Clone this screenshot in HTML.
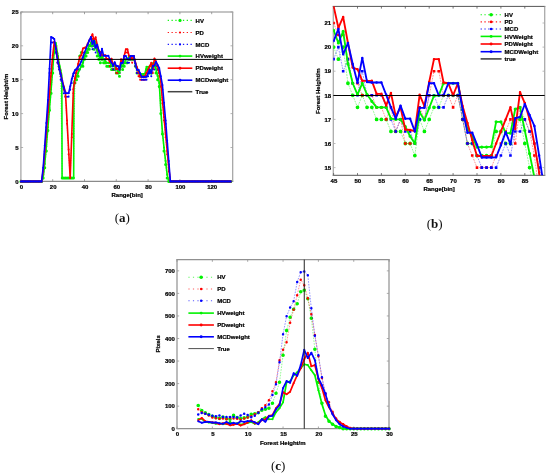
<!DOCTYPE html>
<html><head><meta charset="utf-8"><title>Figure</title>
<style>html,body{margin:0;padding:0;background:#fff}svg{display:block}</style></head>
<body>
<svg width="550" height="475" viewBox="0 0 550 475">
<defs>
<clipPath id="ca"><rect x="20.90" y="11.70" width="211.70" height="169.90"/></clipPath>
<clipPath id="cb"><rect x="333.30" y="6.40" width="211.40" height="168.90"/></clipPath>
<clipPath id="cc"><rect x="176.50" y="259.50" width="212.40" height="169.50"/></clipPath>
</defs>
<rect width="550" height="475" fill="#fff"/>
<rect x="20.90" y="12.00" width="211.80" height="169.40" fill="#fff"/>
<path d="M20.30 12.00H233.30M20.30 181.40H233.30" stroke="#8a8a8a" stroke-width="1.2" fill="none"/>
<path d="M20.90 12.00V181.40M232.70 12.00V181.40" stroke="#a0a0a0" stroke-width="1.2" fill="none"/>
<path d="M20.90 181.40v-2.2M20.90 12.00v2.2M52.70 181.40v-2.2M52.70 12.00v2.2M84.50 181.40v-2.2M84.50 12.00v2.2M116.30 181.40v-2.2M116.30 12.00v2.2M148.10 181.40v-2.2M148.10 12.00v2.2M179.90 181.40v-2.2M179.90 12.00v2.2M211.70 181.40v-2.2M211.70 12.00v2.2" stroke="#8a8a8a" stroke-width="0.8" fill="none"/>
<path d="M20.90 181.40h2.2M232.70 181.40h-2.2M20.90 147.50h2.2M232.70 147.50h-2.2M20.90 113.60h2.2M232.70 113.60h-2.2M20.90 79.70h2.2M232.70 79.70h-2.2M20.90 45.80h2.2M232.70 45.80h-2.2M20.90 11.90h2.2M232.70 11.90h-2.2" stroke="#a0a0a0" stroke-width="0.8" fill="none"/>
<polyline points="20.90,181.40 22.49,181.40 24.08,181.40 25.67,181.40 27.26,181.40 28.85,181.40 30.44,181.40 32.03,181.40 33.62,181.40 35.21,181.40 36.80,181.40 38.39,181.40 39.98,181.40 41.57,181.40 43.16,178.01 44.75,167.84 46.34,150.89 47.93,130.55 49.52,110.21 51.11,93.26 52.70,72.92 54.29,52.58 55.88,45.80 57.47,55.97 59.06,66.14 60.65,72.92 62.24,178.01 63.83,178.01 65.42,178.01 67.01,178.01 68.60,178.01 70.19,178.01 71.78,178.01 73.37,178.01 74.96,83.09 76.55,79.70 78.14,76.31 79.73,55.97 81.32,52.58 82.91,66.14 84.50,59.36 86.09,55.97 87.68,52.58 89.27,49.19 90.86,45.80 92.45,45.80 94.04,49.19 95.63,45.80 97.22,55.97 98.81,59.36 100.40,62.75 101.99,59.36 103.58,62.75 105.17,62.75 106.76,66.14 108.35,66.14 109.94,66.14 111.53,69.53 113.12,69.53 114.71,69.53 116.30,72.92 117.89,72.92 119.48,76.31 121.07,66.14 122.66,69.53 124.25,66.14 125.84,62.75 127.43,62.75 129.02,59.36 130.61,59.36 132.20,59.36 133.79,59.36 135.38,66.14 136.97,72.92 138.56,72.92 140.15,76.31 141.74,76.31 143.33,76.31 144.92,76.31 146.51,69.53 148.10,69.53 149.69,72.92 151.28,72.92 152.87,66.14 154.46,66.14 156.05,72.92 157.64,79.70 159.23,86.48 160.82,113.60 162.41,133.94 164.00,150.89 165.59,164.45 167.18,178.01 168.77,181.40 170.36,181.40 171.95,181.40 173.54,181.40 175.13,181.40 176.72,181.40 178.31,181.40 179.90,181.40 181.49,181.40 183.08,181.40 184.67,181.40 186.26,181.40 187.85,181.40 189.44,181.40 191.03,181.40 192.62,181.40 194.21,181.40 195.80,181.40 197.39,181.40 198.98,181.40 200.57,181.40 202.16,181.40 203.75,181.40 205.34,181.40 206.93,181.40 208.52,181.40 210.11,181.40 211.70,181.40 213.29,181.40 214.88,181.40 216.47,181.40 218.06,181.40 219.65,181.40 221.24,181.40 222.83,181.40 224.42,181.40 226.01,181.40 227.60,181.40 229.19,181.40 230.78,181.40" fill="none" stroke="#00f200" stroke-width="0.6" stroke-linejoin="round" stroke-opacity="1" stroke-dasharray="1 1.5" clip-path="url(#ca)"/>
<path d="M19.40 181.40a1.5 1.5 0 1 0 3.0 0a1.5 1.5 0 1 0 -3.0 0zM20.99 181.40a1.5 1.5 0 1 0 3.0 0a1.5 1.5 0 1 0 -3.0 0zM22.58 181.40a1.5 1.5 0 1 0 3.0 0a1.5 1.5 0 1 0 -3.0 0zM24.17 181.40a1.5 1.5 0 1 0 3.0 0a1.5 1.5 0 1 0 -3.0 0zM25.76 181.40a1.5 1.5 0 1 0 3.0 0a1.5 1.5 0 1 0 -3.0 0zM27.35 181.40a1.5 1.5 0 1 0 3.0 0a1.5 1.5 0 1 0 -3.0 0zM28.94 181.40a1.5 1.5 0 1 0 3.0 0a1.5 1.5 0 1 0 -3.0 0zM30.53 181.40a1.5 1.5 0 1 0 3.0 0a1.5 1.5 0 1 0 -3.0 0zM32.12 181.40a1.5 1.5 0 1 0 3.0 0a1.5 1.5 0 1 0 -3.0 0zM33.71 181.40a1.5 1.5 0 1 0 3.0 0a1.5 1.5 0 1 0 -3.0 0zM35.30 181.40a1.5 1.5 0 1 0 3.0 0a1.5 1.5 0 1 0 -3.0 0zM36.89 181.40a1.5 1.5 0 1 0 3.0 0a1.5 1.5 0 1 0 -3.0 0zM38.48 181.40a1.5 1.5 0 1 0 3.0 0a1.5 1.5 0 1 0 -3.0 0zM40.07 181.40a1.5 1.5 0 1 0 3.0 0a1.5 1.5 0 1 0 -3.0 0zM41.66 178.01a1.5 1.5 0 1 0 3.0 0a1.5 1.5 0 1 0 -3.0 0zM43.25 167.84a1.5 1.5 0 1 0 3.0 0a1.5 1.5 0 1 0 -3.0 0zM44.84 150.89a1.5 1.5 0 1 0 3.0 0a1.5 1.5 0 1 0 -3.0 0zM46.43 130.55a1.5 1.5 0 1 0 3.0 0a1.5 1.5 0 1 0 -3.0 0zM48.02 110.21a1.5 1.5 0 1 0 3.0 0a1.5 1.5 0 1 0 -3.0 0zM49.61 93.26a1.5 1.5 0 1 0 3.0 0a1.5 1.5 0 1 0 -3.0 0zM51.20 72.92a1.5 1.5 0 1 0 3.0 0a1.5 1.5 0 1 0 -3.0 0zM52.79 52.58a1.5 1.5 0 1 0 3.0 0a1.5 1.5 0 1 0 -3.0 0zM54.38 45.80a1.5 1.5 0 1 0 3.0 0a1.5 1.5 0 1 0 -3.0 0zM55.97 55.97a1.5 1.5 0 1 0 3.0 0a1.5 1.5 0 1 0 -3.0 0zM57.56 66.14a1.5 1.5 0 1 0 3.0 0a1.5 1.5 0 1 0 -3.0 0zM59.15 72.92a1.5 1.5 0 1 0 3.0 0a1.5 1.5 0 1 0 -3.0 0zM60.74 178.01a1.5 1.5 0 1 0 3.0 0a1.5 1.5 0 1 0 -3.0 0zM62.33 178.01a1.5 1.5 0 1 0 3.0 0a1.5 1.5 0 1 0 -3.0 0zM63.92 178.01a1.5 1.5 0 1 0 3.0 0a1.5 1.5 0 1 0 -3.0 0zM65.51 178.01a1.5 1.5 0 1 0 3.0 0a1.5 1.5 0 1 0 -3.0 0zM67.10 178.01a1.5 1.5 0 1 0 3.0 0a1.5 1.5 0 1 0 -3.0 0zM68.69 178.01a1.5 1.5 0 1 0 3.0 0a1.5 1.5 0 1 0 -3.0 0zM70.28 178.01a1.5 1.5 0 1 0 3.0 0a1.5 1.5 0 1 0 -3.0 0zM71.87 178.01a1.5 1.5 0 1 0 3.0 0a1.5 1.5 0 1 0 -3.0 0zM73.46 83.09a1.5 1.5 0 1 0 3.0 0a1.5 1.5 0 1 0 -3.0 0zM75.05 79.70a1.5 1.5 0 1 0 3.0 0a1.5 1.5 0 1 0 -3.0 0zM76.64 76.31a1.5 1.5 0 1 0 3.0 0a1.5 1.5 0 1 0 -3.0 0zM78.23 55.97a1.5 1.5 0 1 0 3.0 0a1.5 1.5 0 1 0 -3.0 0zM79.82 52.58a1.5 1.5 0 1 0 3.0 0a1.5 1.5 0 1 0 -3.0 0zM81.41 66.14a1.5 1.5 0 1 0 3.0 0a1.5 1.5 0 1 0 -3.0 0zM83.00 59.36a1.5 1.5 0 1 0 3.0 0a1.5 1.5 0 1 0 -3.0 0zM84.59 55.97a1.5 1.5 0 1 0 3.0 0a1.5 1.5 0 1 0 -3.0 0zM86.18 52.58a1.5 1.5 0 1 0 3.0 0a1.5 1.5 0 1 0 -3.0 0zM87.77 49.19a1.5 1.5 0 1 0 3.0 0a1.5 1.5 0 1 0 -3.0 0zM89.36 45.80a1.5 1.5 0 1 0 3.0 0a1.5 1.5 0 1 0 -3.0 0zM90.95 45.80a1.5 1.5 0 1 0 3.0 0a1.5 1.5 0 1 0 -3.0 0zM92.54 49.19a1.5 1.5 0 1 0 3.0 0a1.5 1.5 0 1 0 -3.0 0zM94.13 45.80a1.5 1.5 0 1 0 3.0 0a1.5 1.5 0 1 0 -3.0 0zM95.72 55.97a1.5 1.5 0 1 0 3.0 0a1.5 1.5 0 1 0 -3.0 0zM97.31 59.36a1.5 1.5 0 1 0 3.0 0a1.5 1.5 0 1 0 -3.0 0zM98.90 62.75a1.5 1.5 0 1 0 3.0 0a1.5 1.5 0 1 0 -3.0 0zM100.49 59.36a1.5 1.5 0 1 0 3.0 0a1.5 1.5 0 1 0 -3.0 0zM102.08 62.75a1.5 1.5 0 1 0 3.0 0a1.5 1.5 0 1 0 -3.0 0zM103.67 62.75a1.5 1.5 0 1 0 3.0 0a1.5 1.5 0 1 0 -3.0 0zM105.26 66.14a1.5 1.5 0 1 0 3.0 0a1.5 1.5 0 1 0 -3.0 0zM106.85 66.14a1.5 1.5 0 1 0 3.0 0a1.5 1.5 0 1 0 -3.0 0zM108.44 66.14a1.5 1.5 0 1 0 3.0 0a1.5 1.5 0 1 0 -3.0 0zM110.03 69.53a1.5 1.5 0 1 0 3.0 0a1.5 1.5 0 1 0 -3.0 0zM111.62 69.53a1.5 1.5 0 1 0 3.0 0a1.5 1.5 0 1 0 -3.0 0zM113.21 69.53a1.5 1.5 0 1 0 3.0 0a1.5 1.5 0 1 0 -3.0 0zM114.80 72.92a1.5 1.5 0 1 0 3.0 0a1.5 1.5 0 1 0 -3.0 0zM116.39 72.92a1.5 1.5 0 1 0 3.0 0a1.5 1.5 0 1 0 -3.0 0zM117.98 76.31a1.5 1.5 0 1 0 3.0 0a1.5 1.5 0 1 0 -3.0 0zM119.57 66.14a1.5 1.5 0 1 0 3.0 0a1.5 1.5 0 1 0 -3.0 0zM121.16 69.53a1.5 1.5 0 1 0 3.0 0a1.5 1.5 0 1 0 -3.0 0zM122.75 66.14a1.5 1.5 0 1 0 3.0 0a1.5 1.5 0 1 0 -3.0 0zM124.34 62.75a1.5 1.5 0 1 0 3.0 0a1.5 1.5 0 1 0 -3.0 0zM125.93 62.75a1.5 1.5 0 1 0 3.0 0a1.5 1.5 0 1 0 -3.0 0zM127.52 59.36a1.5 1.5 0 1 0 3.0 0a1.5 1.5 0 1 0 -3.0 0zM129.11 59.36a1.5 1.5 0 1 0 3.0 0a1.5 1.5 0 1 0 -3.0 0zM130.70 59.36a1.5 1.5 0 1 0 3.0 0a1.5 1.5 0 1 0 -3.0 0zM132.29 59.36a1.5 1.5 0 1 0 3.0 0a1.5 1.5 0 1 0 -3.0 0zM133.88 66.14a1.5 1.5 0 1 0 3.0 0a1.5 1.5 0 1 0 -3.0 0zM135.47 72.92a1.5 1.5 0 1 0 3.0 0a1.5 1.5 0 1 0 -3.0 0zM137.06 72.92a1.5 1.5 0 1 0 3.0 0a1.5 1.5 0 1 0 -3.0 0zM138.65 76.31a1.5 1.5 0 1 0 3.0 0a1.5 1.5 0 1 0 -3.0 0zM140.24 76.31a1.5 1.5 0 1 0 3.0 0a1.5 1.5 0 1 0 -3.0 0zM141.83 76.31a1.5 1.5 0 1 0 3.0 0a1.5 1.5 0 1 0 -3.0 0zM143.42 76.31a1.5 1.5 0 1 0 3.0 0a1.5 1.5 0 1 0 -3.0 0zM145.01 69.53a1.5 1.5 0 1 0 3.0 0a1.5 1.5 0 1 0 -3.0 0zM146.60 69.53a1.5 1.5 0 1 0 3.0 0a1.5 1.5 0 1 0 -3.0 0zM148.19 72.92a1.5 1.5 0 1 0 3.0 0a1.5 1.5 0 1 0 -3.0 0zM149.78 72.92a1.5 1.5 0 1 0 3.0 0a1.5 1.5 0 1 0 -3.0 0zM151.37 66.14a1.5 1.5 0 1 0 3.0 0a1.5 1.5 0 1 0 -3.0 0zM152.96 66.14a1.5 1.5 0 1 0 3.0 0a1.5 1.5 0 1 0 -3.0 0zM154.55 72.92a1.5 1.5 0 1 0 3.0 0a1.5 1.5 0 1 0 -3.0 0zM156.14 79.70a1.5 1.5 0 1 0 3.0 0a1.5 1.5 0 1 0 -3.0 0zM157.73 86.48a1.5 1.5 0 1 0 3.0 0a1.5 1.5 0 1 0 -3.0 0zM159.32 113.60a1.5 1.5 0 1 0 3.0 0a1.5 1.5 0 1 0 -3.0 0zM160.91 133.94a1.5 1.5 0 1 0 3.0 0a1.5 1.5 0 1 0 -3.0 0zM162.50 150.89a1.5 1.5 0 1 0 3.0 0a1.5 1.5 0 1 0 -3.0 0zM164.09 164.45a1.5 1.5 0 1 0 3.0 0a1.5 1.5 0 1 0 -3.0 0zM165.68 178.01a1.5 1.5 0 1 0 3.0 0a1.5 1.5 0 1 0 -3.0 0zM167.27 181.40a1.5 1.5 0 1 0 3.0 0a1.5 1.5 0 1 0 -3.0 0zM168.86 181.40a1.5 1.5 0 1 0 3.0 0a1.5 1.5 0 1 0 -3.0 0zM170.45 181.40a1.5 1.5 0 1 0 3.0 0a1.5 1.5 0 1 0 -3.0 0zM172.04 181.40a1.5 1.5 0 1 0 3.0 0a1.5 1.5 0 1 0 -3.0 0zM173.63 181.40a1.5 1.5 0 1 0 3.0 0a1.5 1.5 0 1 0 -3.0 0zM175.22 181.40a1.5 1.5 0 1 0 3.0 0a1.5 1.5 0 1 0 -3.0 0zM176.81 181.40a1.5 1.5 0 1 0 3.0 0a1.5 1.5 0 1 0 -3.0 0zM178.40 181.40a1.5 1.5 0 1 0 3.0 0a1.5 1.5 0 1 0 -3.0 0zM179.99 181.40a1.5 1.5 0 1 0 3.0 0a1.5 1.5 0 1 0 -3.0 0zM181.58 181.40a1.5 1.5 0 1 0 3.0 0a1.5 1.5 0 1 0 -3.0 0zM183.17 181.40a1.5 1.5 0 1 0 3.0 0a1.5 1.5 0 1 0 -3.0 0zM184.76 181.40a1.5 1.5 0 1 0 3.0 0a1.5 1.5 0 1 0 -3.0 0zM186.35 181.40a1.5 1.5 0 1 0 3.0 0a1.5 1.5 0 1 0 -3.0 0zM187.94 181.40a1.5 1.5 0 1 0 3.0 0a1.5 1.5 0 1 0 -3.0 0zM189.53 181.40a1.5 1.5 0 1 0 3.0 0a1.5 1.5 0 1 0 -3.0 0zM191.12 181.40a1.5 1.5 0 1 0 3.0 0a1.5 1.5 0 1 0 -3.0 0zM192.71 181.40a1.5 1.5 0 1 0 3.0 0a1.5 1.5 0 1 0 -3.0 0zM194.30 181.40a1.5 1.5 0 1 0 3.0 0a1.5 1.5 0 1 0 -3.0 0zM195.89 181.40a1.5 1.5 0 1 0 3.0 0a1.5 1.5 0 1 0 -3.0 0zM197.48 181.40a1.5 1.5 0 1 0 3.0 0a1.5 1.5 0 1 0 -3.0 0zM199.07 181.40a1.5 1.5 0 1 0 3.0 0a1.5 1.5 0 1 0 -3.0 0zM200.66 181.40a1.5 1.5 0 1 0 3.0 0a1.5 1.5 0 1 0 -3.0 0zM202.25 181.40a1.5 1.5 0 1 0 3.0 0a1.5 1.5 0 1 0 -3.0 0zM203.84 181.40a1.5 1.5 0 1 0 3.0 0a1.5 1.5 0 1 0 -3.0 0zM205.43 181.40a1.5 1.5 0 1 0 3.0 0a1.5 1.5 0 1 0 -3.0 0zM207.02 181.40a1.5 1.5 0 1 0 3.0 0a1.5 1.5 0 1 0 -3.0 0zM208.61 181.40a1.5 1.5 0 1 0 3.0 0a1.5 1.5 0 1 0 -3.0 0zM210.20 181.40a1.5 1.5 0 1 0 3.0 0a1.5 1.5 0 1 0 -3.0 0zM211.79 181.40a1.5 1.5 0 1 0 3.0 0a1.5 1.5 0 1 0 -3.0 0zM213.38 181.40a1.5 1.5 0 1 0 3.0 0a1.5 1.5 0 1 0 -3.0 0zM214.97 181.40a1.5 1.5 0 1 0 3.0 0a1.5 1.5 0 1 0 -3.0 0zM216.56 181.40a1.5 1.5 0 1 0 3.0 0a1.5 1.5 0 1 0 -3.0 0zM218.15 181.40a1.5 1.5 0 1 0 3.0 0a1.5 1.5 0 1 0 -3.0 0zM219.74 181.40a1.5 1.5 0 1 0 3.0 0a1.5 1.5 0 1 0 -3.0 0zM221.33 181.40a1.5 1.5 0 1 0 3.0 0a1.5 1.5 0 1 0 -3.0 0zM222.92 181.40a1.5 1.5 0 1 0 3.0 0a1.5 1.5 0 1 0 -3.0 0zM224.51 181.40a1.5 1.5 0 1 0 3.0 0a1.5 1.5 0 1 0 -3.0 0zM226.10 181.40a1.5 1.5 0 1 0 3.0 0a1.5 1.5 0 1 0 -3.0 0zM227.69 181.40a1.5 1.5 0 1 0 3.0 0a1.5 1.5 0 1 0 -3.0 0zM229.28 181.40a1.5 1.5 0 1 0 3.0 0a1.5 1.5 0 1 0 -3.0 0z" fill="#00f200" fill-opacity="1"/>
<polyline points="20.90,181.40 22.49,181.40 24.08,181.40 25.67,181.40 27.26,181.40 28.85,181.40 30.44,181.40 32.03,181.40 33.62,181.40 35.21,181.40 36.80,181.40 38.39,181.40 39.98,181.40 41.57,181.40 43.16,174.62 44.75,154.28 46.34,137.33 47.93,116.99 49.52,96.65 51.11,76.31 52.70,59.36 54.29,45.80 55.88,52.58 57.47,62.75 59.06,69.53 60.65,76.31 62.24,83.09 63.83,89.87 65.42,96.65 67.01,123.77 68.60,154.28 70.19,178.01 71.78,137.33 73.37,93.26 74.96,83.09 76.55,76.31 78.14,69.53 79.73,59.36 81.32,59.36 82.91,52.58 84.50,52.58 86.09,52.58 87.68,49.19 89.27,45.80 90.86,42.41 92.45,39.02 94.04,42.41 95.63,42.41 97.22,49.19 98.81,55.97 100.40,55.97 101.99,59.36 103.58,59.36 105.17,59.36 106.76,62.75 108.35,62.75 109.94,66.14 111.53,62.75 113.12,69.53 114.71,66.14 116.30,72.92 117.89,72.92 119.48,72.92 121.07,62.75 122.66,66.14 124.25,59.36 125.84,52.58 127.43,52.58 129.02,59.36 130.61,59.36 132.20,62.75 133.79,59.36 135.38,66.14 136.97,72.92 138.56,76.31 140.15,79.70 141.74,79.70 143.33,79.70 144.92,79.70 146.51,76.31 148.10,72.92 149.69,69.53 151.28,66.14 152.87,72.92 154.46,62.75 156.05,66.14 157.64,69.53 159.23,76.31 160.82,86.48 162.41,103.43 164.00,120.38 165.59,137.33 167.18,154.28 168.77,171.23 170.36,181.40 171.95,181.40 173.54,181.40 175.13,181.40 176.72,181.40 178.31,181.40 179.90,181.40 181.49,181.40 183.08,181.40 184.67,181.40 186.26,181.40 187.85,181.40 189.44,181.40 191.03,181.40 192.62,181.40 194.21,181.40 195.80,181.40 197.39,181.40 198.98,181.40 200.57,181.40 202.16,181.40 203.75,181.40 205.34,181.40 206.93,181.40 208.52,181.40 210.11,181.40 211.70,181.40 213.29,181.40 214.88,181.40 216.47,181.40 218.06,181.40 219.65,181.40 221.24,181.40 222.83,181.40 224.42,181.40 226.01,181.40 227.60,181.40 229.19,181.40 230.78,181.40" fill="none" stroke="#ff0000" stroke-width="0.6" stroke-linejoin="round" stroke-opacity="1" stroke-dasharray="1 1.5" clip-path="url(#ca)"/>
<path d="M19.90 181.40a1.0 1.0 0 1 0 2.0 0a1.0 1.0 0 1 0 -2.0 0zM21.49 181.40a1.0 1.0 0 1 0 2.0 0a1.0 1.0 0 1 0 -2.0 0zM23.08 181.40a1.0 1.0 0 1 0 2.0 0a1.0 1.0 0 1 0 -2.0 0zM24.67 181.40a1.0 1.0 0 1 0 2.0 0a1.0 1.0 0 1 0 -2.0 0zM26.26 181.40a1.0 1.0 0 1 0 2.0 0a1.0 1.0 0 1 0 -2.0 0zM27.85 181.40a1.0 1.0 0 1 0 2.0 0a1.0 1.0 0 1 0 -2.0 0zM29.44 181.40a1.0 1.0 0 1 0 2.0 0a1.0 1.0 0 1 0 -2.0 0zM31.03 181.40a1.0 1.0 0 1 0 2.0 0a1.0 1.0 0 1 0 -2.0 0zM32.62 181.40a1.0 1.0 0 1 0 2.0 0a1.0 1.0 0 1 0 -2.0 0zM34.21 181.40a1.0 1.0 0 1 0 2.0 0a1.0 1.0 0 1 0 -2.0 0zM35.80 181.40a1.0 1.0 0 1 0 2.0 0a1.0 1.0 0 1 0 -2.0 0zM37.39 181.40a1.0 1.0 0 1 0 2.0 0a1.0 1.0 0 1 0 -2.0 0zM38.98 181.40a1.0 1.0 0 1 0 2.0 0a1.0 1.0 0 1 0 -2.0 0zM40.57 181.40a1.0 1.0 0 1 0 2.0 0a1.0 1.0 0 1 0 -2.0 0zM42.16 174.62a1.0 1.0 0 1 0 2.0 0a1.0 1.0 0 1 0 -2.0 0zM43.75 154.28a1.0 1.0 0 1 0 2.0 0a1.0 1.0 0 1 0 -2.0 0zM45.34 137.33a1.0 1.0 0 1 0 2.0 0a1.0 1.0 0 1 0 -2.0 0zM46.93 116.99a1.0 1.0 0 1 0 2.0 0a1.0 1.0 0 1 0 -2.0 0zM48.52 96.65a1.0 1.0 0 1 0 2.0 0a1.0 1.0 0 1 0 -2.0 0zM50.11 76.31a1.0 1.0 0 1 0 2.0 0a1.0 1.0 0 1 0 -2.0 0zM51.70 59.36a1.0 1.0 0 1 0 2.0 0a1.0 1.0 0 1 0 -2.0 0zM53.29 45.80a1.0 1.0 0 1 0 2.0 0a1.0 1.0 0 1 0 -2.0 0zM54.88 52.58a1.0 1.0 0 1 0 2.0 0a1.0 1.0 0 1 0 -2.0 0zM56.47 62.75a1.0 1.0 0 1 0 2.0 0a1.0 1.0 0 1 0 -2.0 0zM58.06 69.53a1.0 1.0 0 1 0 2.0 0a1.0 1.0 0 1 0 -2.0 0zM59.65 76.31a1.0 1.0 0 1 0 2.0 0a1.0 1.0 0 1 0 -2.0 0zM61.24 83.09a1.0 1.0 0 1 0 2.0 0a1.0 1.0 0 1 0 -2.0 0zM62.83 89.87a1.0 1.0 0 1 0 2.0 0a1.0 1.0 0 1 0 -2.0 0zM64.42 96.65a1.0 1.0 0 1 0 2.0 0a1.0 1.0 0 1 0 -2.0 0zM66.01 123.77a1.0 1.0 0 1 0 2.0 0a1.0 1.0 0 1 0 -2.0 0zM67.60 154.28a1.0 1.0 0 1 0 2.0 0a1.0 1.0 0 1 0 -2.0 0zM69.19 178.01a1.0 1.0 0 1 0 2.0 0a1.0 1.0 0 1 0 -2.0 0zM70.78 137.33a1.0 1.0 0 1 0 2.0 0a1.0 1.0 0 1 0 -2.0 0zM72.37 93.26a1.0 1.0 0 1 0 2.0 0a1.0 1.0 0 1 0 -2.0 0zM73.96 83.09a1.0 1.0 0 1 0 2.0 0a1.0 1.0 0 1 0 -2.0 0zM75.55 76.31a1.0 1.0 0 1 0 2.0 0a1.0 1.0 0 1 0 -2.0 0zM77.14 69.53a1.0 1.0 0 1 0 2.0 0a1.0 1.0 0 1 0 -2.0 0zM78.73 59.36a1.0 1.0 0 1 0 2.0 0a1.0 1.0 0 1 0 -2.0 0zM80.32 59.36a1.0 1.0 0 1 0 2.0 0a1.0 1.0 0 1 0 -2.0 0zM81.91 52.58a1.0 1.0 0 1 0 2.0 0a1.0 1.0 0 1 0 -2.0 0zM83.50 52.58a1.0 1.0 0 1 0 2.0 0a1.0 1.0 0 1 0 -2.0 0zM85.09 52.58a1.0 1.0 0 1 0 2.0 0a1.0 1.0 0 1 0 -2.0 0zM86.68 49.19a1.0 1.0 0 1 0 2.0 0a1.0 1.0 0 1 0 -2.0 0zM88.27 45.80a1.0 1.0 0 1 0 2.0 0a1.0 1.0 0 1 0 -2.0 0zM89.86 42.41a1.0 1.0 0 1 0 2.0 0a1.0 1.0 0 1 0 -2.0 0zM91.45 39.02a1.0 1.0 0 1 0 2.0 0a1.0 1.0 0 1 0 -2.0 0zM93.04 42.41a1.0 1.0 0 1 0 2.0 0a1.0 1.0 0 1 0 -2.0 0zM94.63 42.41a1.0 1.0 0 1 0 2.0 0a1.0 1.0 0 1 0 -2.0 0zM96.22 49.19a1.0 1.0 0 1 0 2.0 0a1.0 1.0 0 1 0 -2.0 0zM97.81 55.97a1.0 1.0 0 1 0 2.0 0a1.0 1.0 0 1 0 -2.0 0zM99.40 55.97a1.0 1.0 0 1 0 2.0 0a1.0 1.0 0 1 0 -2.0 0zM100.99 59.36a1.0 1.0 0 1 0 2.0 0a1.0 1.0 0 1 0 -2.0 0zM102.58 59.36a1.0 1.0 0 1 0 2.0 0a1.0 1.0 0 1 0 -2.0 0zM104.17 59.36a1.0 1.0 0 1 0 2.0 0a1.0 1.0 0 1 0 -2.0 0zM105.76 62.75a1.0 1.0 0 1 0 2.0 0a1.0 1.0 0 1 0 -2.0 0zM107.35 62.75a1.0 1.0 0 1 0 2.0 0a1.0 1.0 0 1 0 -2.0 0zM108.94 66.14a1.0 1.0 0 1 0 2.0 0a1.0 1.0 0 1 0 -2.0 0zM110.53 62.75a1.0 1.0 0 1 0 2.0 0a1.0 1.0 0 1 0 -2.0 0zM112.12 69.53a1.0 1.0 0 1 0 2.0 0a1.0 1.0 0 1 0 -2.0 0zM113.71 66.14a1.0 1.0 0 1 0 2.0 0a1.0 1.0 0 1 0 -2.0 0zM115.30 72.92a1.0 1.0 0 1 0 2.0 0a1.0 1.0 0 1 0 -2.0 0zM116.89 72.92a1.0 1.0 0 1 0 2.0 0a1.0 1.0 0 1 0 -2.0 0zM118.48 72.92a1.0 1.0 0 1 0 2.0 0a1.0 1.0 0 1 0 -2.0 0zM120.07 62.75a1.0 1.0 0 1 0 2.0 0a1.0 1.0 0 1 0 -2.0 0zM121.66 66.14a1.0 1.0 0 1 0 2.0 0a1.0 1.0 0 1 0 -2.0 0zM123.25 59.36a1.0 1.0 0 1 0 2.0 0a1.0 1.0 0 1 0 -2.0 0zM124.84 52.58a1.0 1.0 0 1 0 2.0 0a1.0 1.0 0 1 0 -2.0 0zM126.43 52.58a1.0 1.0 0 1 0 2.0 0a1.0 1.0 0 1 0 -2.0 0zM128.02 59.36a1.0 1.0 0 1 0 2.0 0a1.0 1.0 0 1 0 -2.0 0zM129.61 59.36a1.0 1.0 0 1 0 2.0 0a1.0 1.0 0 1 0 -2.0 0zM131.20 62.75a1.0 1.0 0 1 0 2.0 0a1.0 1.0 0 1 0 -2.0 0zM132.79 59.36a1.0 1.0 0 1 0 2.0 0a1.0 1.0 0 1 0 -2.0 0zM134.38 66.14a1.0 1.0 0 1 0 2.0 0a1.0 1.0 0 1 0 -2.0 0zM135.97 72.92a1.0 1.0 0 1 0 2.0 0a1.0 1.0 0 1 0 -2.0 0zM137.56 76.31a1.0 1.0 0 1 0 2.0 0a1.0 1.0 0 1 0 -2.0 0zM139.15 79.70a1.0 1.0 0 1 0 2.0 0a1.0 1.0 0 1 0 -2.0 0zM140.74 79.70a1.0 1.0 0 1 0 2.0 0a1.0 1.0 0 1 0 -2.0 0zM142.33 79.70a1.0 1.0 0 1 0 2.0 0a1.0 1.0 0 1 0 -2.0 0zM143.92 79.70a1.0 1.0 0 1 0 2.0 0a1.0 1.0 0 1 0 -2.0 0zM145.51 76.31a1.0 1.0 0 1 0 2.0 0a1.0 1.0 0 1 0 -2.0 0zM147.10 72.92a1.0 1.0 0 1 0 2.0 0a1.0 1.0 0 1 0 -2.0 0zM148.69 69.53a1.0 1.0 0 1 0 2.0 0a1.0 1.0 0 1 0 -2.0 0zM150.28 66.14a1.0 1.0 0 1 0 2.0 0a1.0 1.0 0 1 0 -2.0 0zM151.87 72.92a1.0 1.0 0 1 0 2.0 0a1.0 1.0 0 1 0 -2.0 0zM153.46 62.75a1.0 1.0 0 1 0 2.0 0a1.0 1.0 0 1 0 -2.0 0zM155.05 66.14a1.0 1.0 0 1 0 2.0 0a1.0 1.0 0 1 0 -2.0 0zM156.64 69.53a1.0 1.0 0 1 0 2.0 0a1.0 1.0 0 1 0 -2.0 0zM158.23 76.31a1.0 1.0 0 1 0 2.0 0a1.0 1.0 0 1 0 -2.0 0zM159.82 86.48a1.0 1.0 0 1 0 2.0 0a1.0 1.0 0 1 0 -2.0 0zM161.41 103.43a1.0 1.0 0 1 0 2.0 0a1.0 1.0 0 1 0 -2.0 0zM163.00 120.38a1.0 1.0 0 1 0 2.0 0a1.0 1.0 0 1 0 -2.0 0zM164.59 137.33a1.0 1.0 0 1 0 2.0 0a1.0 1.0 0 1 0 -2.0 0zM166.18 154.28a1.0 1.0 0 1 0 2.0 0a1.0 1.0 0 1 0 -2.0 0zM167.77 171.23a1.0 1.0 0 1 0 2.0 0a1.0 1.0 0 1 0 -2.0 0zM169.36 181.40a1.0 1.0 0 1 0 2.0 0a1.0 1.0 0 1 0 -2.0 0zM170.95 181.40a1.0 1.0 0 1 0 2.0 0a1.0 1.0 0 1 0 -2.0 0zM172.54 181.40a1.0 1.0 0 1 0 2.0 0a1.0 1.0 0 1 0 -2.0 0zM174.13 181.40a1.0 1.0 0 1 0 2.0 0a1.0 1.0 0 1 0 -2.0 0zM175.72 181.40a1.0 1.0 0 1 0 2.0 0a1.0 1.0 0 1 0 -2.0 0zM177.31 181.40a1.0 1.0 0 1 0 2.0 0a1.0 1.0 0 1 0 -2.0 0zM178.90 181.40a1.0 1.0 0 1 0 2.0 0a1.0 1.0 0 1 0 -2.0 0zM180.49 181.40a1.0 1.0 0 1 0 2.0 0a1.0 1.0 0 1 0 -2.0 0zM182.08 181.40a1.0 1.0 0 1 0 2.0 0a1.0 1.0 0 1 0 -2.0 0zM183.67 181.40a1.0 1.0 0 1 0 2.0 0a1.0 1.0 0 1 0 -2.0 0zM185.26 181.40a1.0 1.0 0 1 0 2.0 0a1.0 1.0 0 1 0 -2.0 0zM186.85 181.40a1.0 1.0 0 1 0 2.0 0a1.0 1.0 0 1 0 -2.0 0zM188.44 181.40a1.0 1.0 0 1 0 2.0 0a1.0 1.0 0 1 0 -2.0 0zM190.03 181.40a1.0 1.0 0 1 0 2.0 0a1.0 1.0 0 1 0 -2.0 0zM191.62 181.40a1.0 1.0 0 1 0 2.0 0a1.0 1.0 0 1 0 -2.0 0zM193.21 181.40a1.0 1.0 0 1 0 2.0 0a1.0 1.0 0 1 0 -2.0 0zM194.80 181.40a1.0 1.0 0 1 0 2.0 0a1.0 1.0 0 1 0 -2.0 0zM196.39 181.40a1.0 1.0 0 1 0 2.0 0a1.0 1.0 0 1 0 -2.0 0zM197.98 181.40a1.0 1.0 0 1 0 2.0 0a1.0 1.0 0 1 0 -2.0 0zM199.57 181.40a1.0 1.0 0 1 0 2.0 0a1.0 1.0 0 1 0 -2.0 0zM201.16 181.40a1.0 1.0 0 1 0 2.0 0a1.0 1.0 0 1 0 -2.0 0zM202.75 181.40a1.0 1.0 0 1 0 2.0 0a1.0 1.0 0 1 0 -2.0 0zM204.34 181.40a1.0 1.0 0 1 0 2.0 0a1.0 1.0 0 1 0 -2.0 0zM205.93 181.40a1.0 1.0 0 1 0 2.0 0a1.0 1.0 0 1 0 -2.0 0zM207.52 181.40a1.0 1.0 0 1 0 2.0 0a1.0 1.0 0 1 0 -2.0 0zM209.11 181.40a1.0 1.0 0 1 0 2.0 0a1.0 1.0 0 1 0 -2.0 0zM210.70 181.40a1.0 1.0 0 1 0 2.0 0a1.0 1.0 0 1 0 -2.0 0zM212.29 181.40a1.0 1.0 0 1 0 2.0 0a1.0 1.0 0 1 0 -2.0 0zM213.88 181.40a1.0 1.0 0 1 0 2.0 0a1.0 1.0 0 1 0 -2.0 0zM215.47 181.40a1.0 1.0 0 1 0 2.0 0a1.0 1.0 0 1 0 -2.0 0zM217.06 181.40a1.0 1.0 0 1 0 2.0 0a1.0 1.0 0 1 0 -2.0 0zM218.65 181.40a1.0 1.0 0 1 0 2.0 0a1.0 1.0 0 1 0 -2.0 0zM220.24 181.40a1.0 1.0 0 1 0 2.0 0a1.0 1.0 0 1 0 -2.0 0zM221.83 181.40a1.0 1.0 0 1 0 2.0 0a1.0 1.0 0 1 0 -2.0 0zM223.42 181.40a1.0 1.0 0 1 0 2.0 0a1.0 1.0 0 1 0 -2.0 0zM225.01 181.40a1.0 1.0 0 1 0 2.0 0a1.0 1.0 0 1 0 -2.0 0zM226.60 181.40a1.0 1.0 0 1 0 2.0 0a1.0 1.0 0 1 0 -2.0 0zM228.19 181.40a1.0 1.0 0 1 0 2.0 0a1.0 1.0 0 1 0 -2.0 0zM229.78 181.40a1.0 1.0 0 1 0 2.0 0a1.0 1.0 0 1 0 -2.0 0z" fill="#ff0000" fill-opacity="1"/>
<polyline points="20.90,181.40 22.49,181.40 24.08,181.40 25.67,181.40 27.26,181.40 28.85,181.40 30.44,181.40 32.03,181.40 33.62,181.40 35.21,181.40 36.80,181.40 38.39,181.40 39.98,181.40 41.57,181.40 43.16,171.23 44.75,150.89 46.34,127.16 47.93,103.43 49.52,72.92 51.11,42.41 52.70,42.41 54.29,42.41 55.88,52.58 57.47,62.75 59.06,69.53 60.65,79.70 62.24,86.48 63.83,93.26 65.42,96.65 67.01,96.65 68.60,96.65 70.19,89.87 71.78,83.09 73.37,76.31 74.96,72.92 76.55,72.92 78.14,69.53 79.73,69.53 81.32,66.14 82.91,62.75 84.50,55.97 86.09,52.58 87.68,49.19 89.27,45.80 90.86,42.41 92.45,49.19 94.04,45.80 95.63,52.58 97.22,49.19 98.81,55.97 100.40,59.36 101.99,52.58 103.58,59.36 105.17,59.36 106.76,59.36 108.35,59.36 109.94,62.75 111.53,66.14 113.12,69.53 114.71,66.14 116.30,69.53 117.89,69.53 119.48,72.92 121.07,66.14 122.66,66.14 124.25,59.36 125.84,59.36 127.43,62.75 129.02,62.75 130.61,59.36 132.20,59.36 133.79,59.36 135.38,66.14 136.97,72.92 138.56,72.92 140.15,76.31 141.74,79.70 143.33,79.70 144.92,79.70 146.51,79.70 148.10,76.31 149.69,72.92 151.28,76.31 152.87,69.53 154.46,69.53 156.05,66.14 157.64,69.53 159.23,72.92 160.82,79.70 162.41,89.87 164.00,106.82 165.59,123.77 167.18,144.11 168.77,164.45 170.36,181.40 171.95,181.40 173.54,181.40 175.13,181.40 176.72,181.40 178.31,181.40 179.90,181.40 181.49,181.40 183.08,181.40 184.67,181.40 186.26,181.40 187.85,181.40 189.44,181.40 191.03,181.40 192.62,181.40 194.21,181.40 195.80,181.40 197.39,181.40 198.98,181.40 200.57,181.40 202.16,181.40 203.75,181.40 205.34,181.40 206.93,181.40 208.52,181.40 210.11,181.40 211.70,181.40 213.29,181.40 214.88,181.40 216.47,181.40 218.06,181.40 219.65,181.40 221.24,181.40 222.83,181.40 224.42,181.40 226.01,181.40 227.60,181.40 229.19,181.40 230.78,181.40" fill="none" stroke="#0000ff" stroke-width="0.6" stroke-linejoin="round" stroke-opacity="1" stroke-dasharray="1 1.5" clip-path="url(#ca)"/>
<path d="M19.90 181.40a1.0 1.0 0 1 0 2.0 0a1.0 1.0 0 1 0 -2.0 0zM21.49 181.40a1.0 1.0 0 1 0 2.0 0a1.0 1.0 0 1 0 -2.0 0zM23.08 181.40a1.0 1.0 0 1 0 2.0 0a1.0 1.0 0 1 0 -2.0 0zM24.67 181.40a1.0 1.0 0 1 0 2.0 0a1.0 1.0 0 1 0 -2.0 0zM26.26 181.40a1.0 1.0 0 1 0 2.0 0a1.0 1.0 0 1 0 -2.0 0zM27.85 181.40a1.0 1.0 0 1 0 2.0 0a1.0 1.0 0 1 0 -2.0 0zM29.44 181.40a1.0 1.0 0 1 0 2.0 0a1.0 1.0 0 1 0 -2.0 0zM31.03 181.40a1.0 1.0 0 1 0 2.0 0a1.0 1.0 0 1 0 -2.0 0zM32.62 181.40a1.0 1.0 0 1 0 2.0 0a1.0 1.0 0 1 0 -2.0 0zM34.21 181.40a1.0 1.0 0 1 0 2.0 0a1.0 1.0 0 1 0 -2.0 0zM35.80 181.40a1.0 1.0 0 1 0 2.0 0a1.0 1.0 0 1 0 -2.0 0zM37.39 181.40a1.0 1.0 0 1 0 2.0 0a1.0 1.0 0 1 0 -2.0 0zM38.98 181.40a1.0 1.0 0 1 0 2.0 0a1.0 1.0 0 1 0 -2.0 0zM40.57 181.40a1.0 1.0 0 1 0 2.0 0a1.0 1.0 0 1 0 -2.0 0zM42.16 171.23a1.0 1.0 0 1 0 2.0 0a1.0 1.0 0 1 0 -2.0 0zM43.75 150.89a1.0 1.0 0 1 0 2.0 0a1.0 1.0 0 1 0 -2.0 0zM45.34 127.16a1.0 1.0 0 1 0 2.0 0a1.0 1.0 0 1 0 -2.0 0zM46.93 103.43a1.0 1.0 0 1 0 2.0 0a1.0 1.0 0 1 0 -2.0 0zM48.52 72.92a1.0 1.0 0 1 0 2.0 0a1.0 1.0 0 1 0 -2.0 0zM50.11 42.41a1.0 1.0 0 1 0 2.0 0a1.0 1.0 0 1 0 -2.0 0zM51.70 42.41a1.0 1.0 0 1 0 2.0 0a1.0 1.0 0 1 0 -2.0 0zM53.29 42.41a1.0 1.0 0 1 0 2.0 0a1.0 1.0 0 1 0 -2.0 0zM54.88 52.58a1.0 1.0 0 1 0 2.0 0a1.0 1.0 0 1 0 -2.0 0zM56.47 62.75a1.0 1.0 0 1 0 2.0 0a1.0 1.0 0 1 0 -2.0 0zM58.06 69.53a1.0 1.0 0 1 0 2.0 0a1.0 1.0 0 1 0 -2.0 0zM59.65 79.70a1.0 1.0 0 1 0 2.0 0a1.0 1.0 0 1 0 -2.0 0zM61.24 86.48a1.0 1.0 0 1 0 2.0 0a1.0 1.0 0 1 0 -2.0 0zM62.83 93.26a1.0 1.0 0 1 0 2.0 0a1.0 1.0 0 1 0 -2.0 0zM64.42 96.65a1.0 1.0 0 1 0 2.0 0a1.0 1.0 0 1 0 -2.0 0zM66.01 96.65a1.0 1.0 0 1 0 2.0 0a1.0 1.0 0 1 0 -2.0 0zM67.60 96.65a1.0 1.0 0 1 0 2.0 0a1.0 1.0 0 1 0 -2.0 0zM69.19 89.87a1.0 1.0 0 1 0 2.0 0a1.0 1.0 0 1 0 -2.0 0zM70.78 83.09a1.0 1.0 0 1 0 2.0 0a1.0 1.0 0 1 0 -2.0 0zM72.37 76.31a1.0 1.0 0 1 0 2.0 0a1.0 1.0 0 1 0 -2.0 0zM73.96 72.92a1.0 1.0 0 1 0 2.0 0a1.0 1.0 0 1 0 -2.0 0zM75.55 72.92a1.0 1.0 0 1 0 2.0 0a1.0 1.0 0 1 0 -2.0 0zM77.14 69.53a1.0 1.0 0 1 0 2.0 0a1.0 1.0 0 1 0 -2.0 0zM78.73 69.53a1.0 1.0 0 1 0 2.0 0a1.0 1.0 0 1 0 -2.0 0zM80.32 66.14a1.0 1.0 0 1 0 2.0 0a1.0 1.0 0 1 0 -2.0 0zM81.91 62.75a1.0 1.0 0 1 0 2.0 0a1.0 1.0 0 1 0 -2.0 0zM83.50 55.97a1.0 1.0 0 1 0 2.0 0a1.0 1.0 0 1 0 -2.0 0zM85.09 52.58a1.0 1.0 0 1 0 2.0 0a1.0 1.0 0 1 0 -2.0 0zM86.68 49.19a1.0 1.0 0 1 0 2.0 0a1.0 1.0 0 1 0 -2.0 0zM88.27 45.80a1.0 1.0 0 1 0 2.0 0a1.0 1.0 0 1 0 -2.0 0zM89.86 42.41a1.0 1.0 0 1 0 2.0 0a1.0 1.0 0 1 0 -2.0 0zM91.45 49.19a1.0 1.0 0 1 0 2.0 0a1.0 1.0 0 1 0 -2.0 0zM93.04 45.80a1.0 1.0 0 1 0 2.0 0a1.0 1.0 0 1 0 -2.0 0zM94.63 52.58a1.0 1.0 0 1 0 2.0 0a1.0 1.0 0 1 0 -2.0 0zM96.22 49.19a1.0 1.0 0 1 0 2.0 0a1.0 1.0 0 1 0 -2.0 0zM97.81 55.97a1.0 1.0 0 1 0 2.0 0a1.0 1.0 0 1 0 -2.0 0zM99.40 59.36a1.0 1.0 0 1 0 2.0 0a1.0 1.0 0 1 0 -2.0 0zM100.99 52.58a1.0 1.0 0 1 0 2.0 0a1.0 1.0 0 1 0 -2.0 0zM102.58 59.36a1.0 1.0 0 1 0 2.0 0a1.0 1.0 0 1 0 -2.0 0zM104.17 59.36a1.0 1.0 0 1 0 2.0 0a1.0 1.0 0 1 0 -2.0 0zM105.76 59.36a1.0 1.0 0 1 0 2.0 0a1.0 1.0 0 1 0 -2.0 0zM107.35 59.36a1.0 1.0 0 1 0 2.0 0a1.0 1.0 0 1 0 -2.0 0zM108.94 62.75a1.0 1.0 0 1 0 2.0 0a1.0 1.0 0 1 0 -2.0 0zM110.53 66.14a1.0 1.0 0 1 0 2.0 0a1.0 1.0 0 1 0 -2.0 0zM112.12 69.53a1.0 1.0 0 1 0 2.0 0a1.0 1.0 0 1 0 -2.0 0zM113.71 66.14a1.0 1.0 0 1 0 2.0 0a1.0 1.0 0 1 0 -2.0 0zM115.30 69.53a1.0 1.0 0 1 0 2.0 0a1.0 1.0 0 1 0 -2.0 0zM116.89 69.53a1.0 1.0 0 1 0 2.0 0a1.0 1.0 0 1 0 -2.0 0zM118.48 72.92a1.0 1.0 0 1 0 2.0 0a1.0 1.0 0 1 0 -2.0 0zM120.07 66.14a1.0 1.0 0 1 0 2.0 0a1.0 1.0 0 1 0 -2.0 0zM121.66 66.14a1.0 1.0 0 1 0 2.0 0a1.0 1.0 0 1 0 -2.0 0zM123.25 59.36a1.0 1.0 0 1 0 2.0 0a1.0 1.0 0 1 0 -2.0 0zM124.84 59.36a1.0 1.0 0 1 0 2.0 0a1.0 1.0 0 1 0 -2.0 0zM126.43 62.75a1.0 1.0 0 1 0 2.0 0a1.0 1.0 0 1 0 -2.0 0zM128.02 62.75a1.0 1.0 0 1 0 2.0 0a1.0 1.0 0 1 0 -2.0 0zM129.61 59.36a1.0 1.0 0 1 0 2.0 0a1.0 1.0 0 1 0 -2.0 0zM131.20 59.36a1.0 1.0 0 1 0 2.0 0a1.0 1.0 0 1 0 -2.0 0zM132.79 59.36a1.0 1.0 0 1 0 2.0 0a1.0 1.0 0 1 0 -2.0 0zM134.38 66.14a1.0 1.0 0 1 0 2.0 0a1.0 1.0 0 1 0 -2.0 0zM135.97 72.92a1.0 1.0 0 1 0 2.0 0a1.0 1.0 0 1 0 -2.0 0zM137.56 72.92a1.0 1.0 0 1 0 2.0 0a1.0 1.0 0 1 0 -2.0 0zM139.15 76.31a1.0 1.0 0 1 0 2.0 0a1.0 1.0 0 1 0 -2.0 0zM140.74 79.70a1.0 1.0 0 1 0 2.0 0a1.0 1.0 0 1 0 -2.0 0zM142.33 79.70a1.0 1.0 0 1 0 2.0 0a1.0 1.0 0 1 0 -2.0 0zM143.92 79.70a1.0 1.0 0 1 0 2.0 0a1.0 1.0 0 1 0 -2.0 0zM145.51 79.70a1.0 1.0 0 1 0 2.0 0a1.0 1.0 0 1 0 -2.0 0zM147.10 76.31a1.0 1.0 0 1 0 2.0 0a1.0 1.0 0 1 0 -2.0 0zM148.69 72.92a1.0 1.0 0 1 0 2.0 0a1.0 1.0 0 1 0 -2.0 0zM150.28 76.31a1.0 1.0 0 1 0 2.0 0a1.0 1.0 0 1 0 -2.0 0zM151.87 69.53a1.0 1.0 0 1 0 2.0 0a1.0 1.0 0 1 0 -2.0 0zM153.46 69.53a1.0 1.0 0 1 0 2.0 0a1.0 1.0 0 1 0 -2.0 0zM155.05 66.14a1.0 1.0 0 1 0 2.0 0a1.0 1.0 0 1 0 -2.0 0zM156.64 69.53a1.0 1.0 0 1 0 2.0 0a1.0 1.0 0 1 0 -2.0 0zM158.23 72.92a1.0 1.0 0 1 0 2.0 0a1.0 1.0 0 1 0 -2.0 0zM159.82 79.70a1.0 1.0 0 1 0 2.0 0a1.0 1.0 0 1 0 -2.0 0zM161.41 89.87a1.0 1.0 0 1 0 2.0 0a1.0 1.0 0 1 0 -2.0 0zM163.00 106.82a1.0 1.0 0 1 0 2.0 0a1.0 1.0 0 1 0 -2.0 0zM164.59 123.77a1.0 1.0 0 1 0 2.0 0a1.0 1.0 0 1 0 -2.0 0zM166.18 144.11a1.0 1.0 0 1 0 2.0 0a1.0 1.0 0 1 0 -2.0 0zM167.77 164.45a1.0 1.0 0 1 0 2.0 0a1.0 1.0 0 1 0 -2.0 0zM169.36 181.40a1.0 1.0 0 1 0 2.0 0a1.0 1.0 0 1 0 -2.0 0zM170.95 181.40a1.0 1.0 0 1 0 2.0 0a1.0 1.0 0 1 0 -2.0 0zM172.54 181.40a1.0 1.0 0 1 0 2.0 0a1.0 1.0 0 1 0 -2.0 0zM174.13 181.40a1.0 1.0 0 1 0 2.0 0a1.0 1.0 0 1 0 -2.0 0zM175.72 181.40a1.0 1.0 0 1 0 2.0 0a1.0 1.0 0 1 0 -2.0 0zM177.31 181.40a1.0 1.0 0 1 0 2.0 0a1.0 1.0 0 1 0 -2.0 0zM178.90 181.40a1.0 1.0 0 1 0 2.0 0a1.0 1.0 0 1 0 -2.0 0zM180.49 181.40a1.0 1.0 0 1 0 2.0 0a1.0 1.0 0 1 0 -2.0 0zM182.08 181.40a1.0 1.0 0 1 0 2.0 0a1.0 1.0 0 1 0 -2.0 0zM183.67 181.40a1.0 1.0 0 1 0 2.0 0a1.0 1.0 0 1 0 -2.0 0zM185.26 181.40a1.0 1.0 0 1 0 2.0 0a1.0 1.0 0 1 0 -2.0 0zM186.85 181.40a1.0 1.0 0 1 0 2.0 0a1.0 1.0 0 1 0 -2.0 0zM188.44 181.40a1.0 1.0 0 1 0 2.0 0a1.0 1.0 0 1 0 -2.0 0zM190.03 181.40a1.0 1.0 0 1 0 2.0 0a1.0 1.0 0 1 0 -2.0 0zM191.62 181.40a1.0 1.0 0 1 0 2.0 0a1.0 1.0 0 1 0 -2.0 0zM193.21 181.40a1.0 1.0 0 1 0 2.0 0a1.0 1.0 0 1 0 -2.0 0zM194.80 181.40a1.0 1.0 0 1 0 2.0 0a1.0 1.0 0 1 0 -2.0 0zM196.39 181.40a1.0 1.0 0 1 0 2.0 0a1.0 1.0 0 1 0 -2.0 0zM197.98 181.40a1.0 1.0 0 1 0 2.0 0a1.0 1.0 0 1 0 -2.0 0zM199.57 181.40a1.0 1.0 0 1 0 2.0 0a1.0 1.0 0 1 0 -2.0 0zM201.16 181.40a1.0 1.0 0 1 0 2.0 0a1.0 1.0 0 1 0 -2.0 0zM202.75 181.40a1.0 1.0 0 1 0 2.0 0a1.0 1.0 0 1 0 -2.0 0zM204.34 181.40a1.0 1.0 0 1 0 2.0 0a1.0 1.0 0 1 0 -2.0 0zM205.93 181.40a1.0 1.0 0 1 0 2.0 0a1.0 1.0 0 1 0 -2.0 0zM207.52 181.40a1.0 1.0 0 1 0 2.0 0a1.0 1.0 0 1 0 -2.0 0zM209.11 181.40a1.0 1.0 0 1 0 2.0 0a1.0 1.0 0 1 0 -2.0 0zM210.70 181.40a1.0 1.0 0 1 0 2.0 0a1.0 1.0 0 1 0 -2.0 0zM212.29 181.40a1.0 1.0 0 1 0 2.0 0a1.0 1.0 0 1 0 -2.0 0zM213.88 181.40a1.0 1.0 0 1 0 2.0 0a1.0 1.0 0 1 0 -2.0 0zM215.47 181.40a1.0 1.0 0 1 0 2.0 0a1.0 1.0 0 1 0 -2.0 0zM217.06 181.40a1.0 1.0 0 1 0 2.0 0a1.0 1.0 0 1 0 -2.0 0zM218.65 181.40a1.0 1.0 0 1 0 2.0 0a1.0 1.0 0 1 0 -2.0 0zM220.24 181.40a1.0 1.0 0 1 0 2.0 0a1.0 1.0 0 1 0 -2.0 0zM221.83 181.40a1.0 1.0 0 1 0 2.0 0a1.0 1.0 0 1 0 -2.0 0zM223.42 181.40a1.0 1.0 0 1 0 2.0 0a1.0 1.0 0 1 0 -2.0 0zM225.01 181.40a1.0 1.0 0 1 0 2.0 0a1.0 1.0 0 1 0 -2.0 0zM226.60 181.40a1.0 1.0 0 1 0 2.0 0a1.0 1.0 0 1 0 -2.0 0zM228.19 181.40a1.0 1.0 0 1 0 2.0 0a1.0 1.0 0 1 0 -2.0 0zM229.78 181.40a1.0 1.0 0 1 0 2.0 0a1.0 1.0 0 1 0 -2.0 0z" fill="#0000ff" fill-opacity="1"/>
<polyline points="20.90,181.40 22.49,181.40 24.08,181.40 25.67,181.40 27.26,181.40 28.85,181.40 30.44,181.40 32.03,181.40 33.62,181.40 35.21,181.40 36.80,181.40 38.39,181.40 39.98,181.40 41.57,181.40 43.16,178.01 44.75,163.77 46.34,146.14 47.93,127.16 49.52,108.18 51.11,89.19 52.70,68.85 54.29,49.87 55.88,43.09 57.47,53.26 59.06,62.75 60.65,70.21 61.84,75.63 62.08,178.01 62.24,178.01 63.83,178.01 65.42,178.01 67.01,178.01 68.60,178.01 70.19,178.01 71.78,178.01 73.37,178.01 73.69,178.01 73.93,81.73 74.96,79.70 76.55,76.31 78.14,72.92 79.73,69.53 81.32,66.14 82.91,62.75 84.50,55.97 86.09,52.58 87.68,49.19 89.27,45.80 90.86,43.09 92.45,41.05 94.04,44.65 95.63,41.39 97.22,50.55 98.81,55.97 100.40,59.16 101.99,55.97 103.58,59.16 105.17,61.06 106.76,62.75 108.35,62.75 109.94,62.75 111.53,65.94 113.12,66.14 114.71,66.14 116.30,68.17 117.89,70.89 119.48,72.92 121.07,64.11 122.66,66.34 124.25,62.89 125.84,59.50 127.43,59.36 129.02,55.97 130.61,55.97 132.20,55.97 133.79,55.97 135.38,63.43 136.97,68.85 138.56,70.89 140.15,73.94 141.74,73.94 143.33,73.94 144.92,73.80 146.51,66.82 148.10,66.82 149.69,70.00 151.28,70.00 152.87,63.22 154.46,62.75 156.05,69.26 157.64,75.77 159.23,82.41 160.82,110.21 162.41,131.91 164.00,147.50 165.59,161.06 167.18,174.62 168.77,181.40 170.36,181.40 171.95,181.40 173.54,181.40 175.13,181.40 176.72,181.40 178.31,181.40 179.90,181.40 181.49,181.40 183.08,181.40 184.67,181.40 186.26,181.40 187.85,181.40 189.44,181.40 191.03,181.40 192.62,181.40 194.21,181.40 195.80,181.40 197.39,181.40 198.98,181.40 200.57,181.40 202.16,181.40 203.75,181.40 205.34,181.40 206.93,181.40 208.52,181.40 210.11,181.40 211.70,181.40 213.29,181.40 214.88,181.40 216.47,181.40 218.06,181.40 219.65,181.40 221.24,181.40 222.83,181.40 224.42,181.40 226.01,181.40 227.60,181.40 229.19,181.40 230.78,181.40" fill="none" stroke="#00f200" stroke-width="1.6" stroke-linejoin="round" stroke-opacity="1"/>
<path d="M19.90 181.40a1.0 1.0 0 1 0 2.0 0a1.0 1.0 0 1 0 -2.0 0zM21.49 181.40a1.0 1.0 0 1 0 2.0 0a1.0 1.0 0 1 0 -2.0 0zM23.08 181.40a1.0 1.0 0 1 0 2.0 0a1.0 1.0 0 1 0 -2.0 0zM24.67 181.40a1.0 1.0 0 1 0 2.0 0a1.0 1.0 0 1 0 -2.0 0zM26.26 181.40a1.0 1.0 0 1 0 2.0 0a1.0 1.0 0 1 0 -2.0 0zM27.85 181.40a1.0 1.0 0 1 0 2.0 0a1.0 1.0 0 1 0 -2.0 0zM29.44 181.40a1.0 1.0 0 1 0 2.0 0a1.0 1.0 0 1 0 -2.0 0zM31.03 181.40a1.0 1.0 0 1 0 2.0 0a1.0 1.0 0 1 0 -2.0 0zM32.62 181.40a1.0 1.0 0 1 0 2.0 0a1.0 1.0 0 1 0 -2.0 0zM34.21 181.40a1.0 1.0 0 1 0 2.0 0a1.0 1.0 0 1 0 -2.0 0zM35.80 181.40a1.0 1.0 0 1 0 2.0 0a1.0 1.0 0 1 0 -2.0 0zM37.39 181.40a1.0 1.0 0 1 0 2.0 0a1.0 1.0 0 1 0 -2.0 0zM38.98 181.40a1.0 1.0 0 1 0 2.0 0a1.0 1.0 0 1 0 -2.0 0zM40.57 181.40a1.0 1.0 0 1 0 2.0 0a1.0 1.0 0 1 0 -2.0 0zM42.16 178.01a1.0 1.0 0 1 0 2.0 0a1.0 1.0 0 1 0 -2.0 0zM43.75 163.77a1.0 1.0 0 1 0 2.0 0a1.0 1.0 0 1 0 -2.0 0zM45.34 146.14a1.0 1.0 0 1 0 2.0 0a1.0 1.0 0 1 0 -2.0 0zM46.93 127.16a1.0 1.0 0 1 0 2.0 0a1.0 1.0 0 1 0 -2.0 0zM48.52 108.18a1.0 1.0 0 1 0 2.0 0a1.0 1.0 0 1 0 -2.0 0zM50.11 89.19a1.0 1.0 0 1 0 2.0 0a1.0 1.0 0 1 0 -2.0 0zM51.70 68.85a1.0 1.0 0 1 0 2.0 0a1.0 1.0 0 1 0 -2.0 0zM53.29 49.87a1.0 1.0 0 1 0 2.0 0a1.0 1.0 0 1 0 -2.0 0zM54.88 43.09a1.0 1.0 0 1 0 2.0 0a1.0 1.0 0 1 0 -2.0 0zM56.47 53.26a1.0 1.0 0 1 0 2.0 0a1.0 1.0 0 1 0 -2.0 0zM58.06 62.75a1.0 1.0 0 1 0 2.0 0a1.0 1.0 0 1 0 -2.0 0zM59.65 70.21a1.0 1.0 0 1 0 2.0 0a1.0 1.0 0 1 0 -2.0 0zM61.24 178.01a1.0 1.0 0 1 0 2.0 0a1.0 1.0 0 1 0 -2.0 0zM62.83 178.01a1.0 1.0 0 1 0 2.0 0a1.0 1.0 0 1 0 -2.0 0zM64.42 178.01a1.0 1.0 0 1 0 2.0 0a1.0 1.0 0 1 0 -2.0 0zM66.01 178.01a1.0 1.0 0 1 0 2.0 0a1.0 1.0 0 1 0 -2.0 0zM67.60 178.01a1.0 1.0 0 1 0 2.0 0a1.0 1.0 0 1 0 -2.0 0zM69.19 178.01a1.0 1.0 0 1 0 2.0 0a1.0 1.0 0 1 0 -2.0 0zM70.78 178.01a1.0 1.0 0 1 0 2.0 0a1.0 1.0 0 1 0 -2.0 0zM72.37 178.01a1.0 1.0 0 1 0 2.0 0a1.0 1.0 0 1 0 -2.0 0zM73.96 79.70a1.0 1.0 0 1 0 2.0 0a1.0 1.0 0 1 0 -2.0 0zM75.55 76.31a1.0 1.0 0 1 0 2.0 0a1.0 1.0 0 1 0 -2.0 0zM77.14 72.92a1.0 1.0 0 1 0 2.0 0a1.0 1.0 0 1 0 -2.0 0zM78.73 69.53a1.0 1.0 0 1 0 2.0 0a1.0 1.0 0 1 0 -2.0 0zM80.32 66.14a1.0 1.0 0 1 0 2.0 0a1.0 1.0 0 1 0 -2.0 0zM81.91 62.75a1.0 1.0 0 1 0 2.0 0a1.0 1.0 0 1 0 -2.0 0zM83.50 55.97a1.0 1.0 0 1 0 2.0 0a1.0 1.0 0 1 0 -2.0 0zM85.09 52.58a1.0 1.0 0 1 0 2.0 0a1.0 1.0 0 1 0 -2.0 0zM86.68 49.19a1.0 1.0 0 1 0 2.0 0a1.0 1.0 0 1 0 -2.0 0zM88.27 45.80a1.0 1.0 0 1 0 2.0 0a1.0 1.0 0 1 0 -2.0 0zM89.86 43.09a1.0 1.0 0 1 0 2.0 0a1.0 1.0 0 1 0 -2.0 0zM91.45 41.05a1.0 1.0 0 1 0 2.0 0a1.0 1.0 0 1 0 -2.0 0zM93.04 44.65a1.0 1.0 0 1 0 2.0 0a1.0 1.0 0 1 0 -2.0 0zM94.63 41.39a1.0 1.0 0 1 0 2.0 0a1.0 1.0 0 1 0 -2.0 0zM96.22 50.55a1.0 1.0 0 1 0 2.0 0a1.0 1.0 0 1 0 -2.0 0zM97.81 55.97a1.0 1.0 0 1 0 2.0 0a1.0 1.0 0 1 0 -2.0 0zM99.40 59.16a1.0 1.0 0 1 0 2.0 0a1.0 1.0 0 1 0 -2.0 0zM100.99 55.97a1.0 1.0 0 1 0 2.0 0a1.0 1.0 0 1 0 -2.0 0zM102.58 59.16a1.0 1.0 0 1 0 2.0 0a1.0 1.0 0 1 0 -2.0 0zM104.17 61.06a1.0 1.0 0 1 0 2.0 0a1.0 1.0 0 1 0 -2.0 0zM105.76 62.75a1.0 1.0 0 1 0 2.0 0a1.0 1.0 0 1 0 -2.0 0zM107.35 62.75a1.0 1.0 0 1 0 2.0 0a1.0 1.0 0 1 0 -2.0 0zM108.94 62.75a1.0 1.0 0 1 0 2.0 0a1.0 1.0 0 1 0 -2.0 0zM110.53 65.94a1.0 1.0 0 1 0 2.0 0a1.0 1.0 0 1 0 -2.0 0zM112.12 66.14a1.0 1.0 0 1 0 2.0 0a1.0 1.0 0 1 0 -2.0 0zM113.71 66.14a1.0 1.0 0 1 0 2.0 0a1.0 1.0 0 1 0 -2.0 0zM115.30 68.17a1.0 1.0 0 1 0 2.0 0a1.0 1.0 0 1 0 -2.0 0zM116.89 70.89a1.0 1.0 0 1 0 2.0 0a1.0 1.0 0 1 0 -2.0 0zM118.48 72.92a1.0 1.0 0 1 0 2.0 0a1.0 1.0 0 1 0 -2.0 0zM120.07 64.11a1.0 1.0 0 1 0 2.0 0a1.0 1.0 0 1 0 -2.0 0zM121.66 66.34a1.0 1.0 0 1 0 2.0 0a1.0 1.0 0 1 0 -2.0 0zM123.25 62.89a1.0 1.0 0 1 0 2.0 0a1.0 1.0 0 1 0 -2.0 0zM124.84 59.50a1.0 1.0 0 1 0 2.0 0a1.0 1.0 0 1 0 -2.0 0zM126.43 59.36a1.0 1.0 0 1 0 2.0 0a1.0 1.0 0 1 0 -2.0 0zM128.02 55.97a1.0 1.0 0 1 0 2.0 0a1.0 1.0 0 1 0 -2.0 0zM129.61 55.97a1.0 1.0 0 1 0 2.0 0a1.0 1.0 0 1 0 -2.0 0zM131.20 55.97a1.0 1.0 0 1 0 2.0 0a1.0 1.0 0 1 0 -2.0 0zM132.79 55.97a1.0 1.0 0 1 0 2.0 0a1.0 1.0 0 1 0 -2.0 0zM134.38 63.43a1.0 1.0 0 1 0 2.0 0a1.0 1.0 0 1 0 -2.0 0zM135.97 68.85a1.0 1.0 0 1 0 2.0 0a1.0 1.0 0 1 0 -2.0 0zM137.56 70.89a1.0 1.0 0 1 0 2.0 0a1.0 1.0 0 1 0 -2.0 0zM139.15 73.94a1.0 1.0 0 1 0 2.0 0a1.0 1.0 0 1 0 -2.0 0zM140.74 73.94a1.0 1.0 0 1 0 2.0 0a1.0 1.0 0 1 0 -2.0 0zM142.33 73.94a1.0 1.0 0 1 0 2.0 0a1.0 1.0 0 1 0 -2.0 0zM143.92 73.80a1.0 1.0 0 1 0 2.0 0a1.0 1.0 0 1 0 -2.0 0zM145.51 66.82a1.0 1.0 0 1 0 2.0 0a1.0 1.0 0 1 0 -2.0 0zM147.10 66.82a1.0 1.0 0 1 0 2.0 0a1.0 1.0 0 1 0 -2.0 0zM148.69 70.00a1.0 1.0 0 1 0 2.0 0a1.0 1.0 0 1 0 -2.0 0zM150.28 70.00a1.0 1.0 0 1 0 2.0 0a1.0 1.0 0 1 0 -2.0 0zM151.87 63.22a1.0 1.0 0 1 0 2.0 0a1.0 1.0 0 1 0 -2.0 0zM153.46 62.75a1.0 1.0 0 1 0 2.0 0a1.0 1.0 0 1 0 -2.0 0zM155.05 69.26a1.0 1.0 0 1 0 2.0 0a1.0 1.0 0 1 0 -2.0 0zM156.64 75.77a1.0 1.0 0 1 0 2.0 0a1.0 1.0 0 1 0 -2.0 0zM158.23 82.41a1.0 1.0 0 1 0 2.0 0a1.0 1.0 0 1 0 -2.0 0zM159.82 110.21a1.0 1.0 0 1 0 2.0 0a1.0 1.0 0 1 0 -2.0 0zM161.41 131.91a1.0 1.0 0 1 0 2.0 0a1.0 1.0 0 1 0 -2.0 0zM163.00 147.50a1.0 1.0 0 1 0 2.0 0a1.0 1.0 0 1 0 -2.0 0zM164.59 161.06a1.0 1.0 0 1 0 2.0 0a1.0 1.0 0 1 0 -2.0 0zM166.18 174.62a1.0 1.0 0 1 0 2.0 0a1.0 1.0 0 1 0 -2.0 0zM167.77 181.40a1.0 1.0 0 1 0 2.0 0a1.0 1.0 0 1 0 -2.0 0zM169.36 181.40a1.0 1.0 0 1 0 2.0 0a1.0 1.0 0 1 0 -2.0 0zM170.95 181.40a1.0 1.0 0 1 0 2.0 0a1.0 1.0 0 1 0 -2.0 0zM172.54 181.40a1.0 1.0 0 1 0 2.0 0a1.0 1.0 0 1 0 -2.0 0zM174.13 181.40a1.0 1.0 0 1 0 2.0 0a1.0 1.0 0 1 0 -2.0 0zM175.72 181.40a1.0 1.0 0 1 0 2.0 0a1.0 1.0 0 1 0 -2.0 0zM177.31 181.40a1.0 1.0 0 1 0 2.0 0a1.0 1.0 0 1 0 -2.0 0zM178.90 181.40a1.0 1.0 0 1 0 2.0 0a1.0 1.0 0 1 0 -2.0 0zM180.49 181.40a1.0 1.0 0 1 0 2.0 0a1.0 1.0 0 1 0 -2.0 0zM182.08 181.40a1.0 1.0 0 1 0 2.0 0a1.0 1.0 0 1 0 -2.0 0zM183.67 181.40a1.0 1.0 0 1 0 2.0 0a1.0 1.0 0 1 0 -2.0 0zM185.26 181.40a1.0 1.0 0 1 0 2.0 0a1.0 1.0 0 1 0 -2.0 0zM186.85 181.40a1.0 1.0 0 1 0 2.0 0a1.0 1.0 0 1 0 -2.0 0zM188.44 181.40a1.0 1.0 0 1 0 2.0 0a1.0 1.0 0 1 0 -2.0 0zM190.03 181.40a1.0 1.0 0 1 0 2.0 0a1.0 1.0 0 1 0 -2.0 0zM191.62 181.40a1.0 1.0 0 1 0 2.0 0a1.0 1.0 0 1 0 -2.0 0zM193.21 181.40a1.0 1.0 0 1 0 2.0 0a1.0 1.0 0 1 0 -2.0 0zM194.80 181.40a1.0 1.0 0 1 0 2.0 0a1.0 1.0 0 1 0 -2.0 0zM196.39 181.40a1.0 1.0 0 1 0 2.0 0a1.0 1.0 0 1 0 -2.0 0zM197.98 181.40a1.0 1.0 0 1 0 2.0 0a1.0 1.0 0 1 0 -2.0 0zM199.57 181.40a1.0 1.0 0 1 0 2.0 0a1.0 1.0 0 1 0 -2.0 0zM201.16 181.40a1.0 1.0 0 1 0 2.0 0a1.0 1.0 0 1 0 -2.0 0zM202.75 181.40a1.0 1.0 0 1 0 2.0 0a1.0 1.0 0 1 0 -2.0 0zM204.34 181.40a1.0 1.0 0 1 0 2.0 0a1.0 1.0 0 1 0 -2.0 0zM205.93 181.40a1.0 1.0 0 1 0 2.0 0a1.0 1.0 0 1 0 -2.0 0zM207.52 181.40a1.0 1.0 0 1 0 2.0 0a1.0 1.0 0 1 0 -2.0 0zM209.11 181.40a1.0 1.0 0 1 0 2.0 0a1.0 1.0 0 1 0 -2.0 0zM210.70 181.40a1.0 1.0 0 1 0 2.0 0a1.0 1.0 0 1 0 -2.0 0zM212.29 181.40a1.0 1.0 0 1 0 2.0 0a1.0 1.0 0 1 0 -2.0 0zM213.88 181.40a1.0 1.0 0 1 0 2.0 0a1.0 1.0 0 1 0 -2.0 0zM215.47 181.40a1.0 1.0 0 1 0 2.0 0a1.0 1.0 0 1 0 -2.0 0zM217.06 181.40a1.0 1.0 0 1 0 2.0 0a1.0 1.0 0 1 0 -2.0 0zM218.65 181.40a1.0 1.0 0 1 0 2.0 0a1.0 1.0 0 1 0 -2.0 0zM220.24 181.40a1.0 1.0 0 1 0 2.0 0a1.0 1.0 0 1 0 -2.0 0zM221.83 181.40a1.0 1.0 0 1 0 2.0 0a1.0 1.0 0 1 0 -2.0 0zM223.42 181.40a1.0 1.0 0 1 0 2.0 0a1.0 1.0 0 1 0 -2.0 0zM225.01 181.40a1.0 1.0 0 1 0 2.0 0a1.0 1.0 0 1 0 -2.0 0zM226.60 181.40a1.0 1.0 0 1 0 2.0 0a1.0 1.0 0 1 0 -2.0 0zM228.19 181.40a1.0 1.0 0 1 0 2.0 0a1.0 1.0 0 1 0 -2.0 0zM229.78 181.40a1.0 1.0 0 1 0 2.0 0a1.0 1.0 0 1 0 -2.0 0z" fill="#00f200" fill-opacity="1"/>
<polyline points="20.90,181.40 22.49,181.40 24.08,181.40 25.67,181.40 27.26,181.40 28.85,181.40 30.44,181.40 32.03,181.40 33.62,181.40 35.21,181.40 36.80,181.40 38.39,181.40 39.98,181.40 41.57,181.40 43.16,171.23 44.75,151.57 46.34,131.91 47.93,112.24 49.52,92.58 51.11,72.92 52.70,55.29 54.29,41.73 55.88,47.16 57.47,57.33 59.06,66.14 60.65,73.60 62.24,80.38 63.83,86.48 65.42,91.90 67.01,120.38 68.60,149.53 70.19,178.01 71.78,133.94 73.37,89.19 74.96,78.34 76.55,70.89 78.14,64.11 79.73,56.65 81.32,55.29 82.91,48.51 84.50,47.83 86.09,47.16 87.68,43.77 89.27,40.38 90.86,37.66 92.45,34.27 94.04,40.38 95.63,37.32 97.22,44.65 98.81,51.56 100.40,52.04 101.99,55.29 103.58,55.29 105.17,55.29 106.76,58.95 108.35,58.95 109.94,62.21 111.53,58.68 113.12,65.33 114.71,62.75 116.30,68.99 117.89,69.12 119.48,69.39 121.07,59.22 122.66,62.41 124.25,55.63 125.84,49.19 127.43,49.19 129.02,55.77 130.61,55.97 132.20,59.36 133.79,55.97 135.38,62.41 136.97,67.16 138.56,71.90 140.15,76.45 141.74,76.45 143.33,76.45 144.92,76.45 146.51,72.92 148.10,69.53 149.69,66.14 151.28,62.75 152.87,68.85 154.46,58.48 156.05,61.53 157.64,66.14 159.23,72.92 160.82,81.06 162.41,100.04 164.00,116.99 165.59,133.94 167.18,150.89 168.77,167.84 170.36,181.40 171.95,181.40 173.54,181.40 175.13,181.40 176.72,181.40 178.31,181.40 179.90,181.40 181.49,181.40 183.08,181.40 184.67,181.40 186.26,181.40 187.85,181.40 189.44,181.40 191.03,181.40 192.62,181.40 194.21,181.40 195.80,181.40 197.39,181.40 198.98,181.40 200.57,181.40 202.16,181.40 203.75,181.40 205.34,181.40 206.93,181.40 208.52,181.40 210.11,181.40 211.70,181.40 213.29,181.40 214.88,181.40 216.47,181.40 218.06,181.40 219.65,181.40 221.24,181.40 222.83,181.40 224.42,181.40 226.01,181.40 227.60,181.40 229.19,181.40 230.78,181.40" fill="none" stroke="#ff0000" stroke-width="1.6" stroke-linejoin="round" stroke-opacity="1"/>
<path d="M19.90 181.40a1.0 1.0 0 1 0 2.0 0a1.0 1.0 0 1 0 -2.0 0zM21.49 181.40a1.0 1.0 0 1 0 2.0 0a1.0 1.0 0 1 0 -2.0 0zM23.08 181.40a1.0 1.0 0 1 0 2.0 0a1.0 1.0 0 1 0 -2.0 0zM24.67 181.40a1.0 1.0 0 1 0 2.0 0a1.0 1.0 0 1 0 -2.0 0zM26.26 181.40a1.0 1.0 0 1 0 2.0 0a1.0 1.0 0 1 0 -2.0 0zM27.85 181.40a1.0 1.0 0 1 0 2.0 0a1.0 1.0 0 1 0 -2.0 0zM29.44 181.40a1.0 1.0 0 1 0 2.0 0a1.0 1.0 0 1 0 -2.0 0zM31.03 181.40a1.0 1.0 0 1 0 2.0 0a1.0 1.0 0 1 0 -2.0 0zM32.62 181.40a1.0 1.0 0 1 0 2.0 0a1.0 1.0 0 1 0 -2.0 0zM34.21 181.40a1.0 1.0 0 1 0 2.0 0a1.0 1.0 0 1 0 -2.0 0zM35.80 181.40a1.0 1.0 0 1 0 2.0 0a1.0 1.0 0 1 0 -2.0 0zM37.39 181.40a1.0 1.0 0 1 0 2.0 0a1.0 1.0 0 1 0 -2.0 0zM38.98 181.40a1.0 1.0 0 1 0 2.0 0a1.0 1.0 0 1 0 -2.0 0zM40.57 181.40a1.0 1.0 0 1 0 2.0 0a1.0 1.0 0 1 0 -2.0 0zM42.16 171.23a1.0 1.0 0 1 0 2.0 0a1.0 1.0 0 1 0 -2.0 0zM43.75 151.57a1.0 1.0 0 1 0 2.0 0a1.0 1.0 0 1 0 -2.0 0zM45.34 131.91a1.0 1.0 0 1 0 2.0 0a1.0 1.0 0 1 0 -2.0 0zM46.93 112.24a1.0 1.0 0 1 0 2.0 0a1.0 1.0 0 1 0 -2.0 0zM48.52 92.58a1.0 1.0 0 1 0 2.0 0a1.0 1.0 0 1 0 -2.0 0zM50.11 72.92a1.0 1.0 0 1 0 2.0 0a1.0 1.0 0 1 0 -2.0 0zM51.70 55.29a1.0 1.0 0 1 0 2.0 0a1.0 1.0 0 1 0 -2.0 0zM53.29 41.73a1.0 1.0 0 1 0 2.0 0a1.0 1.0 0 1 0 -2.0 0zM54.88 47.16a1.0 1.0 0 1 0 2.0 0a1.0 1.0 0 1 0 -2.0 0zM56.47 57.33a1.0 1.0 0 1 0 2.0 0a1.0 1.0 0 1 0 -2.0 0zM58.06 66.14a1.0 1.0 0 1 0 2.0 0a1.0 1.0 0 1 0 -2.0 0zM59.65 73.60a1.0 1.0 0 1 0 2.0 0a1.0 1.0 0 1 0 -2.0 0zM61.24 80.38a1.0 1.0 0 1 0 2.0 0a1.0 1.0 0 1 0 -2.0 0zM62.83 86.48a1.0 1.0 0 1 0 2.0 0a1.0 1.0 0 1 0 -2.0 0zM64.42 91.90a1.0 1.0 0 1 0 2.0 0a1.0 1.0 0 1 0 -2.0 0zM66.01 120.38a1.0 1.0 0 1 0 2.0 0a1.0 1.0 0 1 0 -2.0 0zM67.60 149.53a1.0 1.0 0 1 0 2.0 0a1.0 1.0 0 1 0 -2.0 0zM69.19 178.01a1.0 1.0 0 1 0 2.0 0a1.0 1.0 0 1 0 -2.0 0zM70.78 133.94a1.0 1.0 0 1 0 2.0 0a1.0 1.0 0 1 0 -2.0 0zM72.37 89.19a1.0 1.0 0 1 0 2.0 0a1.0 1.0 0 1 0 -2.0 0zM73.96 78.34a1.0 1.0 0 1 0 2.0 0a1.0 1.0 0 1 0 -2.0 0zM75.55 70.89a1.0 1.0 0 1 0 2.0 0a1.0 1.0 0 1 0 -2.0 0zM77.14 64.11a1.0 1.0 0 1 0 2.0 0a1.0 1.0 0 1 0 -2.0 0zM78.73 56.65a1.0 1.0 0 1 0 2.0 0a1.0 1.0 0 1 0 -2.0 0zM80.32 55.29a1.0 1.0 0 1 0 2.0 0a1.0 1.0 0 1 0 -2.0 0zM81.91 48.51a1.0 1.0 0 1 0 2.0 0a1.0 1.0 0 1 0 -2.0 0zM83.50 47.83a1.0 1.0 0 1 0 2.0 0a1.0 1.0 0 1 0 -2.0 0zM85.09 47.16a1.0 1.0 0 1 0 2.0 0a1.0 1.0 0 1 0 -2.0 0zM86.68 43.77a1.0 1.0 0 1 0 2.0 0a1.0 1.0 0 1 0 -2.0 0zM88.27 40.38a1.0 1.0 0 1 0 2.0 0a1.0 1.0 0 1 0 -2.0 0zM89.86 37.66a1.0 1.0 0 1 0 2.0 0a1.0 1.0 0 1 0 -2.0 0zM91.45 34.27a1.0 1.0 0 1 0 2.0 0a1.0 1.0 0 1 0 -2.0 0zM93.04 40.38a1.0 1.0 0 1 0 2.0 0a1.0 1.0 0 1 0 -2.0 0zM94.63 37.32a1.0 1.0 0 1 0 2.0 0a1.0 1.0 0 1 0 -2.0 0zM96.22 44.65a1.0 1.0 0 1 0 2.0 0a1.0 1.0 0 1 0 -2.0 0zM97.81 51.56a1.0 1.0 0 1 0 2.0 0a1.0 1.0 0 1 0 -2.0 0zM99.40 52.04a1.0 1.0 0 1 0 2.0 0a1.0 1.0 0 1 0 -2.0 0zM100.99 55.29a1.0 1.0 0 1 0 2.0 0a1.0 1.0 0 1 0 -2.0 0zM102.58 55.29a1.0 1.0 0 1 0 2.0 0a1.0 1.0 0 1 0 -2.0 0zM104.17 55.29a1.0 1.0 0 1 0 2.0 0a1.0 1.0 0 1 0 -2.0 0zM105.76 58.95a1.0 1.0 0 1 0 2.0 0a1.0 1.0 0 1 0 -2.0 0zM107.35 58.95a1.0 1.0 0 1 0 2.0 0a1.0 1.0 0 1 0 -2.0 0zM108.94 62.21a1.0 1.0 0 1 0 2.0 0a1.0 1.0 0 1 0 -2.0 0zM110.53 58.68a1.0 1.0 0 1 0 2.0 0a1.0 1.0 0 1 0 -2.0 0zM112.12 65.33a1.0 1.0 0 1 0 2.0 0a1.0 1.0 0 1 0 -2.0 0zM113.71 62.75a1.0 1.0 0 1 0 2.0 0a1.0 1.0 0 1 0 -2.0 0zM115.30 68.99a1.0 1.0 0 1 0 2.0 0a1.0 1.0 0 1 0 -2.0 0zM116.89 69.12a1.0 1.0 0 1 0 2.0 0a1.0 1.0 0 1 0 -2.0 0zM118.48 69.39a1.0 1.0 0 1 0 2.0 0a1.0 1.0 0 1 0 -2.0 0zM120.07 59.22a1.0 1.0 0 1 0 2.0 0a1.0 1.0 0 1 0 -2.0 0zM121.66 62.41a1.0 1.0 0 1 0 2.0 0a1.0 1.0 0 1 0 -2.0 0zM123.25 55.63a1.0 1.0 0 1 0 2.0 0a1.0 1.0 0 1 0 -2.0 0zM124.84 49.19a1.0 1.0 0 1 0 2.0 0a1.0 1.0 0 1 0 -2.0 0zM126.43 49.19a1.0 1.0 0 1 0 2.0 0a1.0 1.0 0 1 0 -2.0 0zM128.02 55.77a1.0 1.0 0 1 0 2.0 0a1.0 1.0 0 1 0 -2.0 0zM129.61 55.97a1.0 1.0 0 1 0 2.0 0a1.0 1.0 0 1 0 -2.0 0zM131.20 59.36a1.0 1.0 0 1 0 2.0 0a1.0 1.0 0 1 0 -2.0 0zM132.79 55.97a1.0 1.0 0 1 0 2.0 0a1.0 1.0 0 1 0 -2.0 0zM134.38 62.41a1.0 1.0 0 1 0 2.0 0a1.0 1.0 0 1 0 -2.0 0zM135.97 67.16a1.0 1.0 0 1 0 2.0 0a1.0 1.0 0 1 0 -2.0 0zM137.56 71.90a1.0 1.0 0 1 0 2.0 0a1.0 1.0 0 1 0 -2.0 0zM139.15 76.45a1.0 1.0 0 1 0 2.0 0a1.0 1.0 0 1 0 -2.0 0zM140.74 76.45a1.0 1.0 0 1 0 2.0 0a1.0 1.0 0 1 0 -2.0 0zM142.33 76.45a1.0 1.0 0 1 0 2.0 0a1.0 1.0 0 1 0 -2.0 0zM143.92 76.45a1.0 1.0 0 1 0 2.0 0a1.0 1.0 0 1 0 -2.0 0zM145.51 72.92a1.0 1.0 0 1 0 2.0 0a1.0 1.0 0 1 0 -2.0 0zM147.10 69.53a1.0 1.0 0 1 0 2.0 0a1.0 1.0 0 1 0 -2.0 0zM148.69 66.14a1.0 1.0 0 1 0 2.0 0a1.0 1.0 0 1 0 -2.0 0zM150.28 62.75a1.0 1.0 0 1 0 2.0 0a1.0 1.0 0 1 0 -2.0 0zM151.87 68.85a1.0 1.0 0 1 0 2.0 0a1.0 1.0 0 1 0 -2.0 0zM153.46 58.48a1.0 1.0 0 1 0 2.0 0a1.0 1.0 0 1 0 -2.0 0zM155.05 61.53a1.0 1.0 0 1 0 2.0 0a1.0 1.0 0 1 0 -2.0 0zM156.64 66.14a1.0 1.0 0 1 0 2.0 0a1.0 1.0 0 1 0 -2.0 0zM158.23 72.92a1.0 1.0 0 1 0 2.0 0a1.0 1.0 0 1 0 -2.0 0zM159.82 81.06a1.0 1.0 0 1 0 2.0 0a1.0 1.0 0 1 0 -2.0 0zM161.41 100.04a1.0 1.0 0 1 0 2.0 0a1.0 1.0 0 1 0 -2.0 0zM163.00 116.99a1.0 1.0 0 1 0 2.0 0a1.0 1.0 0 1 0 -2.0 0zM164.59 133.94a1.0 1.0 0 1 0 2.0 0a1.0 1.0 0 1 0 -2.0 0zM166.18 150.89a1.0 1.0 0 1 0 2.0 0a1.0 1.0 0 1 0 -2.0 0zM167.77 167.84a1.0 1.0 0 1 0 2.0 0a1.0 1.0 0 1 0 -2.0 0zM169.36 181.40a1.0 1.0 0 1 0 2.0 0a1.0 1.0 0 1 0 -2.0 0zM170.95 181.40a1.0 1.0 0 1 0 2.0 0a1.0 1.0 0 1 0 -2.0 0zM172.54 181.40a1.0 1.0 0 1 0 2.0 0a1.0 1.0 0 1 0 -2.0 0zM174.13 181.40a1.0 1.0 0 1 0 2.0 0a1.0 1.0 0 1 0 -2.0 0zM175.72 181.40a1.0 1.0 0 1 0 2.0 0a1.0 1.0 0 1 0 -2.0 0zM177.31 181.40a1.0 1.0 0 1 0 2.0 0a1.0 1.0 0 1 0 -2.0 0zM178.90 181.40a1.0 1.0 0 1 0 2.0 0a1.0 1.0 0 1 0 -2.0 0zM180.49 181.40a1.0 1.0 0 1 0 2.0 0a1.0 1.0 0 1 0 -2.0 0zM182.08 181.40a1.0 1.0 0 1 0 2.0 0a1.0 1.0 0 1 0 -2.0 0zM183.67 181.40a1.0 1.0 0 1 0 2.0 0a1.0 1.0 0 1 0 -2.0 0zM185.26 181.40a1.0 1.0 0 1 0 2.0 0a1.0 1.0 0 1 0 -2.0 0zM186.85 181.40a1.0 1.0 0 1 0 2.0 0a1.0 1.0 0 1 0 -2.0 0zM188.44 181.40a1.0 1.0 0 1 0 2.0 0a1.0 1.0 0 1 0 -2.0 0zM190.03 181.40a1.0 1.0 0 1 0 2.0 0a1.0 1.0 0 1 0 -2.0 0zM191.62 181.40a1.0 1.0 0 1 0 2.0 0a1.0 1.0 0 1 0 -2.0 0zM193.21 181.40a1.0 1.0 0 1 0 2.0 0a1.0 1.0 0 1 0 -2.0 0zM194.80 181.40a1.0 1.0 0 1 0 2.0 0a1.0 1.0 0 1 0 -2.0 0zM196.39 181.40a1.0 1.0 0 1 0 2.0 0a1.0 1.0 0 1 0 -2.0 0zM197.98 181.40a1.0 1.0 0 1 0 2.0 0a1.0 1.0 0 1 0 -2.0 0zM199.57 181.40a1.0 1.0 0 1 0 2.0 0a1.0 1.0 0 1 0 -2.0 0zM201.16 181.40a1.0 1.0 0 1 0 2.0 0a1.0 1.0 0 1 0 -2.0 0zM202.75 181.40a1.0 1.0 0 1 0 2.0 0a1.0 1.0 0 1 0 -2.0 0zM204.34 181.40a1.0 1.0 0 1 0 2.0 0a1.0 1.0 0 1 0 -2.0 0zM205.93 181.40a1.0 1.0 0 1 0 2.0 0a1.0 1.0 0 1 0 -2.0 0zM207.52 181.40a1.0 1.0 0 1 0 2.0 0a1.0 1.0 0 1 0 -2.0 0zM209.11 181.40a1.0 1.0 0 1 0 2.0 0a1.0 1.0 0 1 0 -2.0 0zM210.70 181.40a1.0 1.0 0 1 0 2.0 0a1.0 1.0 0 1 0 -2.0 0zM212.29 181.40a1.0 1.0 0 1 0 2.0 0a1.0 1.0 0 1 0 -2.0 0zM213.88 181.40a1.0 1.0 0 1 0 2.0 0a1.0 1.0 0 1 0 -2.0 0zM215.47 181.40a1.0 1.0 0 1 0 2.0 0a1.0 1.0 0 1 0 -2.0 0zM217.06 181.40a1.0 1.0 0 1 0 2.0 0a1.0 1.0 0 1 0 -2.0 0zM218.65 181.40a1.0 1.0 0 1 0 2.0 0a1.0 1.0 0 1 0 -2.0 0zM220.24 181.40a1.0 1.0 0 1 0 2.0 0a1.0 1.0 0 1 0 -2.0 0zM221.83 181.40a1.0 1.0 0 1 0 2.0 0a1.0 1.0 0 1 0 -2.0 0zM223.42 181.40a1.0 1.0 0 1 0 2.0 0a1.0 1.0 0 1 0 -2.0 0zM225.01 181.40a1.0 1.0 0 1 0 2.0 0a1.0 1.0 0 1 0 -2.0 0zM226.60 181.40a1.0 1.0 0 1 0 2.0 0a1.0 1.0 0 1 0 -2.0 0zM228.19 181.40a1.0 1.0 0 1 0 2.0 0a1.0 1.0 0 1 0 -2.0 0zM229.78 181.40a1.0 1.0 0 1 0 2.0 0a1.0 1.0 0 1 0 -2.0 0z" fill="#ff0000" fill-opacity="1"/>
<polyline points="20.90,181.40 22.49,181.40 24.08,181.40 25.67,181.40 27.26,181.40 28.85,181.40 30.44,181.40 32.03,181.40 33.62,181.40 35.21,181.40 36.80,181.40 38.39,181.40 39.98,181.40 41.57,181.40 43.16,167.84 44.75,145.47 46.34,123.09 47.93,100.04 49.52,68.85 51.11,36.99 52.70,37.66 54.29,39.02 55.88,48.51 57.47,59.36 59.06,66.82 60.65,74.28 62.24,81.06 63.83,87.84 65.42,93.26 67.01,93.26 68.60,93.26 70.19,86.48 71.78,79.02 73.37,73.60 74.96,70.21 76.55,68.85 78.14,66.82 79.73,64.78 81.32,61.39 82.91,57.33 84.50,52.58 86.09,48.51 87.68,44.44 89.27,40.38 90.86,36.99 92.45,44.10 94.04,40.72 95.63,47.83 97.22,44.65 98.81,50.55 100.40,55.83 101.99,48.85 103.58,55.63 105.17,55.77 106.76,55.77 108.35,55.77 109.94,59.22 111.53,62.75 113.12,65.94 114.71,62.28 116.30,65.94 117.89,65.94 119.48,69.53 121.07,62.89 122.66,62.89 124.25,55.97 125.84,55.97 127.43,59.36 129.02,59.36 130.61,55.97 132.20,55.97 133.79,55.97 135.38,63.43 136.97,69.87 138.56,69.87 140.15,73.26 141.74,76.85 143.33,76.85 144.92,76.85 146.51,76.78 148.10,73.39 149.69,69.73 151.28,73.12 152.87,65.80 154.46,65.46 156.05,61.87 157.64,64.92 159.23,67.97 160.82,76.31 162.41,85.12 164.00,102.75 165.59,120.38 167.18,140.72 168.77,161.06 170.36,181.40 171.95,181.40 173.54,181.40 175.13,181.40 176.72,181.40 178.31,181.40 179.90,181.40 181.49,181.40 183.08,181.40 184.67,181.40 186.26,181.40 187.85,181.40 189.44,181.40 191.03,181.40 192.62,181.40 194.21,181.40 195.80,181.40 197.39,181.40 198.98,181.40 200.57,181.40 202.16,181.40 203.75,181.40 205.34,181.40 206.93,181.40 208.52,181.40 210.11,181.40 211.70,181.40 213.29,181.40 214.88,181.40 216.47,181.40 218.06,181.40 219.65,181.40 221.24,181.40 222.83,181.40 224.42,181.40 226.01,181.40 227.60,181.40 229.19,181.40 230.78,181.40" fill="none" stroke="#0000ff" stroke-width="1.6" stroke-linejoin="round" stroke-opacity="1"/>
<path d="M19.90 181.40a1.0 1.0 0 1 0 2.0 0a1.0 1.0 0 1 0 -2.0 0zM21.49 181.40a1.0 1.0 0 1 0 2.0 0a1.0 1.0 0 1 0 -2.0 0zM23.08 181.40a1.0 1.0 0 1 0 2.0 0a1.0 1.0 0 1 0 -2.0 0zM24.67 181.40a1.0 1.0 0 1 0 2.0 0a1.0 1.0 0 1 0 -2.0 0zM26.26 181.40a1.0 1.0 0 1 0 2.0 0a1.0 1.0 0 1 0 -2.0 0zM27.85 181.40a1.0 1.0 0 1 0 2.0 0a1.0 1.0 0 1 0 -2.0 0zM29.44 181.40a1.0 1.0 0 1 0 2.0 0a1.0 1.0 0 1 0 -2.0 0zM31.03 181.40a1.0 1.0 0 1 0 2.0 0a1.0 1.0 0 1 0 -2.0 0zM32.62 181.40a1.0 1.0 0 1 0 2.0 0a1.0 1.0 0 1 0 -2.0 0zM34.21 181.40a1.0 1.0 0 1 0 2.0 0a1.0 1.0 0 1 0 -2.0 0zM35.80 181.40a1.0 1.0 0 1 0 2.0 0a1.0 1.0 0 1 0 -2.0 0zM37.39 181.40a1.0 1.0 0 1 0 2.0 0a1.0 1.0 0 1 0 -2.0 0zM38.98 181.40a1.0 1.0 0 1 0 2.0 0a1.0 1.0 0 1 0 -2.0 0zM40.57 181.40a1.0 1.0 0 1 0 2.0 0a1.0 1.0 0 1 0 -2.0 0zM42.16 167.84a1.0 1.0 0 1 0 2.0 0a1.0 1.0 0 1 0 -2.0 0zM43.75 145.47a1.0 1.0 0 1 0 2.0 0a1.0 1.0 0 1 0 -2.0 0zM45.34 123.09a1.0 1.0 0 1 0 2.0 0a1.0 1.0 0 1 0 -2.0 0zM46.93 100.04a1.0 1.0 0 1 0 2.0 0a1.0 1.0 0 1 0 -2.0 0zM48.52 68.85a1.0 1.0 0 1 0 2.0 0a1.0 1.0 0 1 0 -2.0 0zM50.11 36.99a1.0 1.0 0 1 0 2.0 0a1.0 1.0 0 1 0 -2.0 0zM51.70 37.66a1.0 1.0 0 1 0 2.0 0a1.0 1.0 0 1 0 -2.0 0zM53.29 39.02a1.0 1.0 0 1 0 2.0 0a1.0 1.0 0 1 0 -2.0 0zM54.88 48.51a1.0 1.0 0 1 0 2.0 0a1.0 1.0 0 1 0 -2.0 0zM56.47 59.36a1.0 1.0 0 1 0 2.0 0a1.0 1.0 0 1 0 -2.0 0zM58.06 66.82a1.0 1.0 0 1 0 2.0 0a1.0 1.0 0 1 0 -2.0 0zM59.65 74.28a1.0 1.0 0 1 0 2.0 0a1.0 1.0 0 1 0 -2.0 0zM61.24 81.06a1.0 1.0 0 1 0 2.0 0a1.0 1.0 0 1 0 -2.0 0zM62.83 87.84a1.0 1.0 0 1 0 2.0 0a1.0 1.0 0 1 0 -2.0 0zM64.42 93.26a1.0 1.0 0 1 0 2.0 0a1.0 1.0 0 1 0 -2.0 0zM66.01 93.26a1.0 1.0 0 1 0 2.0 0a1.0 1.0 0 1 0 -2.0 0zM67.60 93.26a1.0 1.0 0 1 0 2.0 0a1.0 1.0 0 1 0 -2.0 0zM69.19 86.48a1.0 1.0 0 1 0 2.0 0a1.0 1.0 0 1 0 -2.0 0zM70.78 79.02a1.0 1.0 0 1 0 2.0 0a1.0 1.0 0 1 0 -2.0 0zM72.37 73.60a1.0 1.0 0 1 0 2.0 0a1.0 1.0 0 1 0 -2.0 0zM73.96 70.21a1.0 1.0 0 1 0 2.0 0a1.0 1.0 0 1 0 -2.0 0zM75.55 68.85a1.0 1.0 0 1 0 2.0 0a1.0 1.0 0 1 0 -2.0 0zM77.14 66.82a1.0 1.0 0 1 0 2.0 0a1.0 1.0 0 1 0 -2.0 0zM78.73 64.78a1.0 1.0 0 1 0 2.0 0a1.0 1.0 0 1 0 -2.0 0zM80.32 61.39a1.0 1.0 0 1 0 2.0 0a1.0 1.0 0 1 0 -2.0 0zM81.91 57.33a1.0 1.0 0 1 0 2.0 0a1.0 1.0 0 1 0 -2.0 0zM83.50 52.58a1.0 1.0 0 1 0 2.0 0a1.0 1.0 0 1 0 -2.0 0zM85.09 48.51a1.0 1.0 0 1 0 2.0 0a1.0 1.0 0 1 0 -2.0 0zM86.68 44.44a1.0 1.0 0 1 0 2.0 0a1.0 1.0 0 1 0 -2.0 0zM88.27 40.38a1.0 1.0 0 1 0 2.0 0a1.0 1.0 0 1 0 -2.0 0zM89.86 36.99a1.0 1.0 0 1 0 2.0 0a1.0 1.0 0 1 0 -2.0 0zM91.45 44.10a1.0 1.0 0 1 0 2.0 0a1.0 1.0 0 1 0 -2.0 0zM93.04 40.72a1.0 1.0 0 1 0 2.0 0a1.0 1.0 0 1 0 -2.0 0zM94.63 47.83a1.0 1.0 0 1 0 2.0 0a1.0 1.0 0 1 0 -2.0 0zM96.22 44.65a1.0 1.0 0 1 0 2.0 0a1.0 1.0 0 1 0 -2.0 0zM97.81 50.55a1.0 1.0 0 1 0 2.0 0a1.0 1.0 0 1 0 -2.0 0zM99.40 55.83a1.0 1.0 0 1 0 2.0 0a1.0 1.0 0 1 0 -2.0 0zM100.99 48.85a1.0 1.0 0 1 0 2.0 0a1.0 1.0 0 1 0 -2.0 0zM102.58 55.63a1.0 1.0 0 1 0 2.0 0a1.0 1.0 0 1 0 -2.0 0zM104.17 55.77a1.0 1.0 0 1 0 2.0 0a1.0 1.0 0 1 0 -2.0 0zM105.76 55.77a1.0 1.0 0 1 0 2.0 0a1.0 1.0 0 1 0 -2.0 0zM107.35 55.77a1.0 1.0 0 1 0 2.0 0a1.0 1.0 0 1 0 -2.0 0zM108.94 59.22a1.0 1.0 0 1 0 2.0 0a1.0 1.0 0 1 0 -2.0 0zM110.53 62.75a1.0 1.0 0 1 0 2.0 0a1.0 1.0 0 1 0 -2.0 0zM112.12 65.94a1.0 1.0 0 1 0 2.0 0a1.0 1.0 0 1 0 -2.0 0zM113.71 62.28a1.0 1.0 0 1 0 2.0 0a1.0 1.0 0 1 0 -2.0 0zM115.30 65.94a1.0 1.0 0 1 0 2.0 0a1.0 1.0 0 1 0 -2.0 0zM116.89 65.94a1.0 1.0 0 1 0 2.0 0a1.0 1.0 0 1 0 -2.0 0zM118.48 69.53a1.0 1.0 0 1 0 2.0 0a1.0 1.0 0 1 0 -2.0 0zM120.07 62.89a1.0 1.0 0 1 0 2.0 0a1.0 1.0 0 1 0 -2.0 0zM121.66 62.89a1.0 1.0 0 1 0 2.0 0a1.0 1.0 0 1 0 -2.0 0zM123.25 55.97a1.0 1.0 0 1 0 2.0 0a1.0 1.0 0 1 0 -2.0 0zM124.84 55.97a1.0 1.0 0 1 0 2.0 0a1.0 1.0 0 1 0 -2.0 0zM126.43 59.36a1.0 1.0 0 1 0 2.0 0a1.0 1.0 0 1 0 -2.0 0zM128.02 59.36a1.0 1.0 0 1 0 2.0 0a1.0 1.0 0 1 0 -2.0 0zM129.61 55.97a1.0 1.0 0 1 0 2.0 0a1.0 1.0 0 1 0 -2.0 0zM131.20 55.97a1.0 1.0 0 1 0 2.0 0a1.0 1.0 0 1 0 -2.0 0zM132.79 55.97a1.0 1.0 0 1 0 2.0 0a1.0 1.0 0 1 0 -2.0 0zM134.38 63.43a1.0 1.0 0 1 0 2.0 0a1.0 1.0 0 1 0 -2.0 0zM135.97 69.87a1.0 1.0 0 1 0 2.0 0a1.0 1.0 0 1 0 -2.0 0zM137.56 69.87a1.0 1.0 0 1 0 2.0 0a1.0 1.0 0 1 0 -2.0 0zM139.15 73.26a1.0 1.0 0 1 0 2.0 0a1.0 1.0 0 1 0 -2.0 0zM140.74 76.85a1.0 1.0 0 1 0 2.0 0a1.0 1.0 0 1 0 -2.0 0zM142.33 76.85a1.0 1.0 0 1 0 2.0 0a1.0 1.0 0 1 0 -2.0 0zM143.92 76.85a1.0 1.0 0 1 0 2.0 0a1.0 1.0 0 1 0 -2.0 0zM145.51 76.78a1.0 1.0 0 1 0 2.0 0a1.0 1.0 0 1 0 -2.0 0zM147.10 73.39a1.0 1.0 0 1 0 2.0 0a1.0 1.0 0 1 0 -2.0 0zM148.69 69.73a1.0 1.0 0 1 0 2.0 0a1.0 1.0 0 1 0 -2.0 0zM150.28 73.12a1.0 1.0 0 1 0 2.0 0a1.0 1.0 0 1 0 -2.0 0zM151.87 65.80a1.0 1.0 0 1 0 2.0 0a1.0 1.0 0 1 0 -2.0 0zM153.46 65.46a1.0 1.0 0 1 0 2.0 0a1.0 1.0 0 1 0 -2.0 0zM155.05 61.87a1.0 1.0 0 1 0 2.0 0a1.0 1.0 0 1 0 -2.0 0zM156.64 64.92a1.0 1.0 0 1 0 2.0 0a1.0 1.0 0 1 0 -2.0 0zM158.23 67.97a1.0 1.0 0 1 0 2.0 0a1.0 1.0 0 1 0 -2.0 0zM159.82 76.31a1.0 1.0 0 1 0 2.0 0a1.0 1.0 0 1 0 -2.0 0zM161.41 85.12a1.0 1.0 0 1 0 2.0 0a1.0 1.0 0 1 0 -2.0 0zM163.00 102.75a1.0 1.0 0 1 0 2.0 0a1.0 1.0 0 1 0 -2.0 0zM164.59 120.38a1.0 1.0 0 1 0 2.0 0a1.0 1.0 0 1 0 -2.0 0zM166.18 140.72a1.0 1.0 0 1 0 2.0 0a1.0 1.0 0 1 0 -2.0 0zM167.77 161.06a1.0 1.0 0 1 0 2.0 0a1.0 1.0 0 1 0 -2.0 0zM169.36 181.40a1.0 1.0 0 1 0 2.0 0a1.0 1.0 0 1 0 -2.0 0zM170.95 181.40a1.0 1.0 0 1 0 2.0 0a1.0 1.0 0 1 0 -2.0 0zM172.54 181.40a1.0 1.0 0 1 0 2.0 0a1.0 1.0 0 1 0 -2.0 0zM174.13 181.40a1.0 1.0 0 1 0 2.0 0a1.0 1.0 0 1 0 -2.0 0zM175.72 181.40a1.0 1.0 0 1 0 2.0 0a1.0 1.0 0 1 0 -2.0 0zM177.31 181.40a1.0 1.0 0 1 0 2.0 0a1.0 1.0 0 1 0 -2.0 0zM178.90 181.40a1.0 1.0 0 1 0 2.0 0a1.0 1.0 0 1 0 -2.0 0zM180.49 181.40a1.0 1.0 0 1 0 2.0 0a1.0 1.0 0 1 0 -2.0 0zM182.08 181.40a1.0 1.0 0 1 0 2.0 0a1.0 1.0 0 1 0 -2.0 0zM183.67 181.40a1.0 1.0 0 1 0 2.0 0a1.0 1.0 0 1 0 -2.0 0zM185.26 181.40a1.0 1.0 0 1 0 2.0 0a1.0 1.0 0 1 0 -2.0 0zM186.85 181.40a1.0 1.0 0 1 0 2.0 0a1.0 1.0 0 1 0 -2.0 0zM188.44 181.40a1.0 1.0 0 1 0 2.0 0a1.0 1.0 0 1 0 -2.0 0zM190.03 181.40a1.0 1.0 0 1 0 2.0 0a1.0 1.0 0 1 0 -2.0 0zM191.62 181.40a1.0 1.0 0 1 0 2.0 0a1.0 1.0 0 1 0 -2.0 0zM193.21 181.40a1.0 1.0 0 1 0 2.0 0a1.0 1.0 0 1 0 -2.0 0zM194.80 181.40a1.0 1.0 0 1 0 2.0 0a1.0 1.0 0 1 0 -2.0 0zM196.39 181.40a1.0 1.0 0 1 0 2.0 0a1.0 1.0 0 1 0 -2.0 0zM197.98 181.40a1.0 1.0 0 1 0 2.0 0a1.0 1.0 0 1 0 -2.0 0zM199.57 181.40a1.0 1.0 0 1 0 2.0 0a1.0 1.0 0 1 0 -2.0 0zM201.16 181.40a1.0 1.0 0 1 0 2.0 0a1.0 1.0 0 1 0 -2.0 0zM202.75 181.40a1.0 1.0 0 1 0 2.0 0a1.0 1.0 0 1 0 -2.0 0zM204.34 181.40a1.0 1.0 0 1 0 2.0 0a1.0 1.0 0 1 0 -2.0 0zM205.93 181.40a1.0 1.0 0 1 0 2.0 0a1.0 1.0 0 1 0 -2.0 0zM207.52 181.40a1.0 1.0 0 1 0 2.0 0a1.0 1.0 0 1 0 -2.0 0zM209.11 181.40a1.0 1.0 0 1 0 2.0 0a1.0 1.0 0 1 0 -2.0 0zM210.70 181.40a1.0 1.0 0 1 0 2.0 0a1.0 1.0 0 1 0 -2.0 0zM212.29 181.40a1.0 1.0 0 1 0 2.0 0a1.0 1.0 0 1 0 -2.0 0zM213.88 181.40a1.0 1.0 0 1 0 2.0 0a1.0 1.0 0 1 0 -2.0 0zM215.47 181.40a1.0 1.0 0 1 0 2.0 0a1.0 1.0 0 1 0 -2.0 0zM217.06 181.40a1.0 1.0 0 1 0 2.0 0a1.0 1.0 0 1 0 -2.0 0zM218.65 181.40a1.0 1.0 0 1 0 2.0 0a1.0 1.0 0 1 0 -2.0 0zM220.24 181.40a1.0 1.0 0 1 0 2.0 0a1.0 1.0 0 1 0 -2.0 0zM221.83 181.40a1.0 1.0 0 1 0 2.0 0a1.0 1.0 0 1 0 -2.0 0zM223.42 181.40a1.0 1.0 0 1 0 2.0 0a1.0 1.0 0 1 0 -2.0 0zM225.01 181.40a1.0 1.0 0 1 0 2.0 0a1.0 1.0 0 1 0 -2.0 0zM226.60 181.40a1.0 1.0 0 1 0 2.0 0a1.0 1.0 0 1 0 -2.0 0zM228.19 181.40a1.0 1.0 0 1 0 2.0 0a1.0 1.0 0 1 0 -2.0 0zM229.78 181.40a1.0 1.0 0 1 0 2.0 0a1.0 1.0 0 1 0 -2.0 0z" fill="#0000ff" fill-opacity="1"/>
<line x1="20.9" y1="59.4" x2="232.7" y2="59.4" stroke="#000" stroke-width="1"/>
<text x="21.40" y="188.60" font-size="6" text-anchor="middle" font-family="Liberation Sans, sans-serif" font-weight="bold" fill="#000" stroke="#000" stroke-width="0.22" >0</text>
<text x="53.20" y="188.60" font-size="6" text-anchor="middle" font-family="Liberation Sans, sans-serif" font-weight="bold" fill="#000" stroke="#000" stroke-width="0.22" >20</text>
<text x="85.00" y="188.60" font-size="6" text-anchor="middle" font-family="Liberation Sans, sans-serif" font-weight="bold" fill="#000" stroke="#000" stroke-width="0.22" >40</text>
<text x="116.80" y="188.60" font-size="6" text-anchor="middle" font-family="Liberation Sans, sans-serif" font-weight="bold" fill="#000" stroke="#000" stroke-width="0.22" >60</text>
<text x="148.60" y="188.60" font-size="6" text-anchor="middle" font-family="Liberation Sans, sans-serif" font-weight="bold" fill="#000" stroke="#000" stroke-width="0.22" >80</text>
<text x="180.40" y="188.60" font-size="6" text-anchor="middle" font-family="Liberation Sans, sans-serif" font-weight="bold" fill="#000" stroke="#000" stroke-width="0.22" >100</text>
<text x="212.20" y="188.60" font-size="6" text-anchor="middle" font-family="Liberation Sans, sans-serif" font-weight="bold" fill="#000" stroke="#000" stroke-width="0.22" >120</text>
<text x="18.50" y="183.50" font-size="6" text-anchor="end" font-family="Liberation Sans, sans-serif" font-weight="bold" fill="#000" stroke="#000" stroke-width="0.22" >0</text>
<text x="18.50" y="149.60" font-size="6" text-anchor="end" font-family="Liberation Sans, sans-serif" font-weight="bold" fill="#000" stroke="#000" stroke-width="0.22" >5</text>
<text x="18.50" y="115.70" font-size="6" text-anchor="end" font-family="Liberation Sans, sans-serif" font-weight="bold" fill="#000" stroke="#000" stroke-width="0.22" >10</text>
<text x="18.50" y="81.80" font-size="6" text-anchor="end" font-family="Liberation Sans, sans-serif" font-weight="bold" fill="#000" stroke="#000" stroke-width="0.22" >15</text>
<text x="18.50" y="47.90" font-size="6" text-anchor="end" font-family="Liberation Sans, sans-serif" font-weight="bold" fill="#000" stroke="#000" stroke-width="0.22" >20</text>
<text x="18.50" y="14.00" font-size="6" text-anchor="end" font-family="Liberation Sans, sans-serif" font-weight="bold" fill="#000" stroke="#000" stroke-width="0.22" >25</text>
<text x="127.20" y="196.90" font-size="6" text-anchor="middle" font-family="Liberation Sans, sans-serif" font-weight="bold" fill="#000" stroke="#000" stroke-width="0.22" >Range[bin]</text>
<g transform="translate(7.6,96.6) rotate(-90)">
<text x="0.00" y="0.00" font-size="6" text-anchor="middle" font-family="Liberation Sans, sans-serif" font-weight="bold" fill="#000" stroke="#000" stroke-width="0.22" >Forest Height/m</text>
</g>
<line x1="167.7" y1="20.4" x2="192.3" y2="20.4" stroke="#00f200" stroke-width="1.1" stroke-opacity="0.9" stroke-dasharray="1.3 2.5"/>
<circle cx="180.0" cy="20.4" r="1.6" fill="#00f200"/>
<text x="195.60" y="22.50" font-size="6" text-anchor="start" font-family="Liberation Sans, sans-serif" font-weight="bold" fill="#000" stroke="#000" stroke-width="0.22" >HV</text>
<line x1="167.7" y1="32.5" x2="192.3" y2="32.5" stroke="#ff0000" stroke-width="1.1" stroke-opacity="0.9" stroke-dasharray="1.3 2.5"/>
<circle cx="180.0" cy="32.5" r="1.1" fill="#ff0000"/>
<text x="195.60" y="34.60" font-size="6" text-anchor="start" font-family="Liberation Sans, sans-serif" font-weight="bold" fill="#000" stroke="#000" stroke-width="0.22" >PD</text>
<line x1="167.7" y1="44.4" x2="192.3" y2="44.4" stroke="#0000ff" stroke-width="1.1" stroke-opacity="0.9" stroke-dasharray="1.3 2.5"/>
<circle cx="180.0" cy="44.4" r="1.1" fill="#0000ff"/>
<text x="195.60" y="46.50" font-size="6" text-anchor="start" font-family="Liberation Sans, sans-serif" font-weight="bold" fill="#000" stroke="#000" stroke-width="0.22" >MCD</text>
<line x1="167.7" y1="56.1" x2="192.3" y2="56.1" stroke="#00f200" stroke-width="1.6"/>
<circle cx="180.0" cy="56.1" r="1.45" fill="#00f200"/>
<text x="195.60" y="58.20" font-size="6" text-anchor="start" font-family="Liberation Sans, sans-serif" font-weight="bold" fill="#000" stroke="#000" stroke-width="0.22" >HVweight</text>
<line x1="167.7" y1="68.2" x2="192.3" y2="68.2" stroke="#ff0000" stroke-width="1.6"/>
<circle cx="180.0" cy="68.2" r="1.45" fill="#ff0000"/>
<text x="195.60" y="70.30" font-size="6" text-anchor="start" font-family="Liberation Sans, sans-serif" font-weight="bold" fill="#000" stroke="#000" stroke-width="0.22" >PDweight</text>
<line x1="167.7" y1="80.2" x2="192.3" y2="80.2" stroke="#0000ff" stroke-width="1.6"/>
<circle cx="180.0" cy="80.2" r="1.45" fill="#0000ff"/>
<text x="195.60" y="82.30" font-size="6" text-anchor="start" font-family="Liberation Sans, sans-serif" font-weight="bold" fill="#000" stroke="#000" stroke-width="0.22" >MCDweight</text>
<line x1="167.7" y1="91.7" x2="192.3" y2="91.7" stroke="#444" stroke-width="1.5"/>
<text x="195.60" y="93.80" font-size="6" text-anchor="start" font-family="Liberation Sans, sans-serif" font-weight="bold" fill="#000" stroke="#000" stroke-width="0.22" >True</text>
<rect x="333.30" y="6.40" width="211.40" height="168.90" fill="#fff"/>
<path d="M332.65 6.40H545.35M332.65 175.30H545.35" stroke="#555" stroke-width="1.0" fill="none"/>
<path d="M333.30 6.40V175.30M544.70 6.40V175.30" stroke="#aaa" stroke-width="1.3" fill="none"/>
<path d="M333.60 175.30v-2.2M333.60 6.40v2.2M357.50 175.30v-2.2M357.50 6.40v2.2M381.40 175.30v-2.2M381.40 6.40v2.2M405.30 175.30v-2.2M405.30 6.40v2.2M429.20 175.30v-2.2M429.20 6.40v2.2M453.10 175.30v-2.2M453.10 6.40v2.2M477.00 175.30v-2.2M477.00 6.40v2.2M500.90 175.30v-2.2M500.90 6.40v2.2M524.80 175.30v-2.2M524.80 6.40v2.2" stroke="#555" stroke-width="0.8" fill="none"/>
<path d="M333.30 167.60h2.2M544.70 167.60h-2.2M333.30 143.50h2.2M544.70 143.50h-2.2M333.30 119.40h2.2M544.70 119.40h-2.2M333.30 95.30h2.2M544.70 95.30h-2.2M333.30 71.20h2.2M544.70 71.20h-2.2M333.30 47.10h2.2M544.70 47.10h-2.2M333.30 23.00h2.2M544.70 23.00h-2.2" stroke="#aaa" stroke-width="0.8" fill="none"/>
<polyline points="333.60,47.10 338.38,59.15 343.16,47.10 347.94,83.25 352.72,95.30 357.50,107.35 362.28,95.30 367.06,107.35 371.84,107.35 376.62,119.40 381.40,119.40 386.18,119.40 390.96,131.45 395.74,131.45 400.52,131.45 405.30,143.50 410.08,143.50 414.86,155.55 419.64,119.40 424.42,131.45 429.20,119.40 433.98,107.35 438.76,107.35 443.54,95.30 448.32,95.30 453.10,95.30 457.88,95.30 462.66,119.40 467.44,143.50 472.22,143.50 477.00,155.55 481.78,155.55 486.56,155.55 491.34,155.55 496.12,131.45 500.90,131.45 505.68,143.50 510.46,143.50 515.24,119.40 520.02,119.40 524.80,143.50 529.58,167.60 534.36,191.70 539.14,288.10 543.92,360.40" fill="none" stroke="#00f200" stroke-width="0.7" stroke-linejoin="round" stroke-opacity="0.6" stroke-dasharray="1.8 1.0" clip-path="url(#cb)"/>
<g clip-path="url(#cb)">
<path d="M331.70 47.10a1.9 1.9 0 1 0 3.8 0a1.9 1.9 0 1 0 -3.8 0zM336.48 59.15a1.9 1.9 0 1 0 3.8 0a1.9 1.9 0 1 0 -3.8 0zM341.26 47.10a1.9 1.9 0 1 0 3.8 0a1.9 1.9 0 1 0 -3.8 0zM346.04 83.25a1.9 1.9 0 1 0 3.8 0a1.9 1.9 0 1 0 -3.8 0zM350.82 95.30a1.9 1.9 0 1 0 3.8 0a1.9 1.9 0 1 0 -3.8 0zM355.60 107.35a1.9 1.9 0 1 0 3.8 0a1.9 1.9 0 1 0 -3.8 0zM360.38 95.30a1.9 1.9 0 1 0 3.8 0a1.9 1.9 0 1 0 -3.8 0zM365.16 107.35a1.9 1.9 0 1 0 3.8 0a1.9 1.9 0 1 0 -3.8 0zM369.94 107.35a1.9 1.9 0 1 0 3.8 0a1.9 1.9 0 1 0 -3.8 0zM374.72 119.40a1.9 1.9 0 1 0 3.8 0a1.9 1.9 0 1 0 -3.8 0zM379.50 119.40a1.9 1.9 0 1 0 3.8 0a1.9 1.9 0 1 0 -3.8 0zM384.28 119.40a1.9 1.9 0 1 0 3.8 0a1.9 1.9 0 1 0 -3.8 0zM389.06 131.45a1.9 1.9 0 1 0 3.8 0a1.9 1.9 0 1 0 -3.8 0zM393.84 131.45a1.9 1.9 0 1 0 3.8 0a1.9 1.9 0 1 0 -3.8 0zM398.62 131.45a1.9 1.9 0 1 0 3.8 0a1.9 1.9 0 1 0 -3.8 0zM403.40 143.50a1.9 1.9 0 1 0 3.8 0a1.9 1.9 0 1 0 -3.8 0zM408.18 143.50a1.9 1.9 0 1 0 3.8 0a1.9 1.9 0 1 0 -3.8 0zM412.96 155.55a1.9 1.9 0 1 0 3.8 0a1.9 1.9 0 1 0 -3.8 0zM417.74 119.40a1.9 1.9 0 1 0 3.8 0a1.9 1.9 0 1 0 -3.8 0zM422.52 131.45a1.9 1.9 0 1 0 3.8 0a1.9 1.9 0 1 0 -3.8 0zM427.30 119.40a1.9 1.9 0 1 0 3.8 0a1.9 1.9 0 1 0 -3.8 0zM432.08 107.35a1.9 1.9 0 1 0 3.8 0a1.9 1.9 0 1 0 -3.8 0zM436.86 107.35a1.9 1.9 0 1 0 3.8 0a1.9 1.9 0 1 0 -3.8 0zM441.64 95.30a1.9 1.9 0 1 0 3.8 0a1.9 1.9 0 1 0 -3.8 0zM446.42 95.30a1.9 1.9 0 1 0 3.8 0a1.9 1.9 0 1 0 -3.8 0zM451.20 95.30a1.9 1.9 0 1 0 3.8 0a1.9 1.9 0 1 0 -3.8 0zM455.98 95.30a1.9 1.9 0 1 0 3.8 0a1.9 1.9 0 1 0 -3.8 0zM460.76 119.40a1.9 1.9 0 1 0 3.8 0a1.9 1.9 0 1 0 -3.8 0zM465.54 143.50a1.9 1.9 0 1 0 3.8 0a1.9 1.9 0 1 0 -3.8 0zM470.32 143.50a1.9 1.9 0 1 0 3.8 0a1.9 1.9 0 1 0 -3.8 0zM475.10 155.55a1.9 1.9 0 1 0 3.8 0a1.9 1.9 0 1 0 -3.8 0zM479.88 155.55a1.9 1.9 0 1 0 3.8 0a1.9 1.9 0 1 0 -3.8 0zM484.66 155.55a1.9 1.9 0 1 0 3.8 0a1.9 1.9 0 1 0 -3.8 0zM489.44 155.55a1.9 1.9 0 1 0 3.8 0a1.9 1.9 0 1 0 -3.8 0zM494.22 131.45a1.9 1.9 0 1 0 3.8 0a1.9 1.9 0 1 0 -3.8 0zM499.00 131.45a1.9 1.9 0 1 0 3.8 0a1.9 1.9 0 1 0 -3.8 0zM503.78 143.50a1.9 1.9 0 1 0 3.8 0a1.9 1.9 0 1 0 -3.8 0zM508.56 143.50a1.9 1.9 0 1 0 3.8 0a1.9 1.9 0 1 0 -3.8 0zM513.34 119.40a1.9 1.9 0 1 0 3.8 0a1.9 1.9 0 1 0 -3.8 0zM518.12 119.40a1.9 1.9 0 1 0 3.8 0a1.9 1.9 0 1 0 -3.8 0zM522.90 143.50a1.9 1.9 0 1 0 3.8 0a1.9 1.9 0 1 0 -3.8 0zM527.68 167.60a1.9 1.9 0 1 0 3.8 0a1.9 1.9 0 1 0 -3.8 0zM532.46 191.70a1.9 1.9 0 1 0 3.8 0a1.9 1.9 0 1 0 -3.8 0zM537.24 288.10a1.9 1.9 0 1 0 3.8 0a1.9 1.9 0 1 0 -3.8 0zM542.02 360.40a1.9 1.9 0 1 0 3.8 0a1.9 1.9 0 1 0 -3.8 0z" fill="#00f200" fill-opacity="1"/>
</g>
<polyline points="333.60,23.00 338.38,35.05 343.16,35.05 347.94,59.15 352.72,83.25 357.50,83.25 362.28,95.30 367.06,95.30 371.84,95.30 376.62,107.35 381.40,107.35 386.18,119.40 390.96,107.35 395.74,131.45 400.52,119.40 405.30,143.50 410.08,143.50 414.86,143.50 419.64,107.35 424.42,119.40 429.20,95.30 433.98,71.20 438.76,71.20 443.54,95.30 448.32,95.30 453.10,107.35 457.88,95.30 462.66,119.40 467.44,143.50 472.22,155.55 477.00,167.60 481.78,167.60 486.56,167.60 491.34,167.60 496.12,155.55 500.90,143.50 505.68,131.45 510.46,119.40 515.24,143.50 520.02,107.35 524.80,119.40 529.58,131.45 534.36,155.55 539.14,191.70 543.92,251.95" fill="none" stroke="#ff0000" stroke-width="0.7" stroke-linejoin="round" stroke-opacity="0.6" stroke-dasharray="1.8 1.0" clip-path="url(#cb)"/>
<g clip-path="url(#cb)">
<path d="M332.30 21.70h2.6v2.6h-2.6zM337.08 33.75h2.6v2.6h-2.6zM341.86 33.75h2.6v2.6h-2.6zM346.64 57.85h2.6v2.6h-2.6zM351.42 81.95h2.6v2.6h-2.6zM356.20 81.95h2.6v2.6h-2.6zM360.98 94.00h2.6v2.6h-2.6zM365.76 94.00h2.6v2.6h-2.6zM370.54 94.00h2.6v2.6h-2.6zM375.32 106.05h2.6v2.6h-2.6zM380.10 106.05h2.6v2.6h-2.6zM384.88 118.10h2.6v2.6h-2.6zM389.66 106.05h2.6v2.6h-2.6zM394.44 130.15h2.6v2.6h-2.6zM399.22 118.10h2.6v2.6h-2.6zM404.00 142.20h2.6v2.6h-2.6zM408.78 142.20h2.6v2.6h-2.6zM413.56 142.20h2.6v2.6h-2.6zM418.34 106.05h2.6v2.6h-2.6zM423.12 118.10h2.6v2.6h-2.6zM427.90 94.00h2.6v2.6h-2.6zM432.68 69.90h2.6v2.6h-2.6zM437.46 69.90h2.6v2.6h-2.6zM442.24 94.00h2.6v2.6h-2.6zM447.02 94.00h2.6v2.6h-2.6zM451.80 106.05h2.6v2.6h-2.6zM456.58 94.00h2.6v2.6h-2.6zM461.36 118.10h2.6v2.6h-2.6zM466.14 142.20h2.6v2.6h-2.6zM470.92 154.25h2.6v2.6h-2.6zM475.70 166.30h2.6v2.6h-2.6zM480.48 166.30h2.6v2.6h-2.6zM485.26 166.30h2.6v2.6h-2.6zM490.04 166.30h2.6v2.6h-2.6zM494.82 154.25h2.6v2.6h-2.6zM499.60 142.20h2.6v2.6h-2.6zM504.38 130.15h2.6v2.6h-2.6zM509.16 118.10h2.6v2.6h-2.6zM513.94 142.20h2.6v2.6h-2.6zM518.72 106.05h2.6v2.6h-2.6zM523.50 118.10h2.6v2.6h-2.6zM528.28 130.15h2.6v2.6h-2.6zM533.06 154.25h2.6v2.6h-2.6zM537.84 190.40h2.6v2.6h-2.6zM542.62 250.65h2.6v2.6h-2.6z" fill="#ff0000" fill-opacity="1"/>
</g>
<polyline points="333.60,59.15 338.38,47.10 343.16,71.20 347.94,59.15 352.72,83.25 357.50,95.30 362.28,71.20 367.06,95.30 371.84,95.30 376.62,95.30 381.40,95.30 386.18,107.35 390.96,119.40 395.74,131.45 400.52,119.40 405.30,131.45 410.08,131.45 414.86,143.50 419.64,119.40 424.42,119.40 429.20,95.30 433.98,95.30 438.76,107.35 443.54,107.35 448.32,95.30 453.10,95.30 457.88,95.30 462.66,119.40 467.44,143.50 472.22,143.50 477.00,155.55 481.78,167.60 486.56,167.60 491.34,167.60 496.12,167.60 500.90,155.55 505.68,143.50 510.46,155.55 515.24,131.45 520.02,131.45 524.80,119.40 529.58,131.45 534.36,143.50 539.14,167.60 543.92,203.75" fill="none" stroke="#0000ff" stroke-width="0.7" stroke-linejoin="round" stroke-opacity="0.6" stroke-dasharray="1.8 1.0" clip-path="url(#cb)"/>
<g clip-path="url(#cb)">
<path d="M332.30 57.85h2.6v2.6h-2.6zM337.08 45.80h2.6v2.6h-2.6zM341.86 69.90h2.6v2.6h-2.6zM346.64 57.85h2.6v2.6h-2.6zM351.42 81.95h2.6v2.6h-2.6zM356.20 94.00h2.6v2.6h-2.6zM360.98 69.90h2.6v2.6h-2.6zM365.76 94.00h2.6v2.6h-2.6zM370.54 94.00h2.6v2.6h-2.6zM375.32 94.00h2.6v2.6h-2.6zM380.10 94.00h2.6v2.6h-2.6zM384.88 106.05h2.6v2.6h-2.6zM389.66 118.10h2.6v2.6h-2.6zM394.44 130.15h2.6v2.6h-2.6zM399.22 118.10h2.6v2.6h-2.6zM404.00 130.15h2.6v2.6h-2.6zM408.78 130.15h2.6v2.6h-2.6zM413.56 142.20h2.6v2.6h-2.6zM418.34 118.10h2.6v2.6h-2.6zM423.12 118.10h2.6v2.6h-2.6zM427.90 94.00h2.6v2.6h-2.6zM432.68 94.00h2.6v2.6h-2.6zM437.46 106.05h2.6v2.6h-2.6zM442.24 106.05h2.6v2.6h-2.6zM447.02 94.00h2.6v2.6h-2.6zM451.80 94.00h2.6v2.6h-2.6zM456.58 94.00h2.6v2.6h-2.6zM461.36 118.10h2.6v2.6h-2.6zM466.14 142.20h2.6v2.6h-2.6zM470.92 142.20h2.6v2.6h-2.6zM475.70 154.25h2.6v2.6h-2.6zM480.48 166.30h2.6v2.6h-2.6zM485.26 166.30h2.6v2.6h-2.6zM490.04 166.30h2.6v2.6h-2.6zM494.82 166.30h2.6v2.6h-2.6zM499.60 154.25h2.6v2.6h-2.6zM504.38 142.20h2.6v2.6h-2.6zM509.16 154.25h2.6v2.6h-2.6zM513.94 130.15h2.6v2.6h-2.6zM518.72 130.15h2.6v2.6h-2.6zM523.50 118.10h2.6v2.6h-2.6zM528.28 130.15h2.6v2.6h-2.6zM533.06 142.20h2.6v2.6h-2.6zM537.84 166.30h2.6v2.6h-2.6zM542.62 202.45h2.6v2.6h-2.6z" fill="#0000ff" fill-opacity="1"/>
</g>
<polyline points="333.60,30.23 338.38,43.00 343.16,31.44 347.94,63.97 352.72,83.25 357.50,94.58 362.28,83.25 367.06,94.58 371.84,101.33 376.62,107.35 381.40,107.35 386.18,107.35 390.96,118.68 395.74,119.40 400.52,119.40 405.30,126.63 410.08,136.27 414.86,143.50 419.64,112.17 424.42,120.12 429.20,107.83 433.98,95.78 438.76,95.30 443.54,83.25 448.32,83.25 453.10,83.25 457.88,83.25 462.66,109.76 467.44,129.04 472.22,136.27 477.00,147.12 481.78,147.12 486.56,147.12 491.34,146.63 496.12,121.81 500.90,121.81 505.68,133.14 510.46,133.14 515.24,109.04 520.02,107.35 524.80,130.49 529.58,153.62 534.36,177.24 539.14,276.05 543.92,353.17" fill="none" stroke="#00f200" stroke-width="1.85" stroke-linejoin="round" stroke-opacity="1" clip-path="url(#cb)"/>
<g clip-path="url(#cb)">
<path d="M332.00 30.23a1.6 1.6 0 1 0 3.2 0a1.6 1.6 0 1 0 -3.2 0zM336.78 43.00a1.6 1.6 0 1 0 3.2 0a1.6 1.6 0 1 0 -3.2 0zM341.56 31.44a1.6 1.6 0 1 0 3.2 0a1.6 1.6 0 1 0 -3.2 0zM346.34 63.97a1.6 1.6 0 1 0 3.2 0a1.6 1.6 0 1 0 -3.2 0zM351.12 83.25a1.6 1.6 0 1 0 3.2 0a1.6 1.6 0 1 0 -3.2 0zM355.90 94.58a1.6 1.6 0 1 0 3.2 0a1.6 1.6 0 1 0 -3.2 0zM360.68 83.25a1.6 1.6 0 1 0 3.2 0a1.6 1.6 0 1 0 -3.2 0zM365.46 94.58a1.6 1.6 0 1 0 3.2 0a1.6 1.6 0 1 0 -3.2 0zM370.24 101.33a1.6 1.6 0 1 0 3.2 0a1.6 1.6 0 1 0 -3.2 0zM375.02 107.35a1.6 1.6 0 1 0 3.2 0a1.6 1.6 0 1 0 -3.2 0zM379.80 107.35a1.6 1.6 0 1 0 3.2 0a1.6 1.6 0 1 0 -3.2 0zM384.58 107.35a1.6 1.6 0 1 0 3.2 0a1.6 1.6 0 1 0 -3.2 0zM389.36 118.68a1.6 1.6 0 1 0 3.2 0a1.6 1.6 0 1 0 -3.2 0zM394.14 119.40a1.6 1.6 0 1 0 3.2 0a1.6 1.6 0 1 0 -3.2 0zM398.92 119.40a1.6 1.6 0 1 0 3.2 0a1.6 1.6 0 1 0 -3.2 0zM403.70 126.63a1.6 1.6 0 1 0 3.2 0a1.6 1.6 0 1 0 -3.2 0zM408.48 136.27a1.6 1.6 0 1 0 3.2 0a1.6 1.6 0 1 0 -3.2 0zM413.26 143.50a1.6 1.6 0 1 0 3.2 0a1.6 1.6 0 1 0 -3.2 0zM418.04 112.17a1.6 1.6 0 1 0 3.2 0a1.6 1.6 0 1 0 -3.2 0zM422.82 120.12a1.6 1.6 0 1 0 3.2 0a1.6 1.6 0 1 0 -3.2 0zM427.60 107.83a1.6 1.6 0 1 0 3.2 0a1.6 1.6 0 1 0 -3.2 0zM432.38 95.78a1.6 1.6 0 1 0 3.2 0a1.6 1.6 0 1 0 -3.2 0zM437.16 95.30a1.6 1.6 0 1 0 3.2 0a1.6 1.6 0 1 0 -3.2 0zM441.94 83.25a1.6 1.6 0 1 0 3.2 0a1.6 1.6 0 1 0 -3.2 0zM446.72 83.25a1.6 1.6 0 1 0 3.2 0a1.6 1.6 0 1 0 -3.2 0zM451.50 83.25a1.6 1.6 0 1 0 3.2 0a1.6 1.6 0 1 0 -3.2 0zM456.28 83.25a1.6 1.6 0 1 0 3.2 0a1.6 1.6 0 1 0 -3.2 0zM461.06 109.76a1.6 1.6 0 1 0 3.2 0a1.6 1.6 0 1 0 -3.2 0zM465.84 129.04a1.6 1.6 0 1 0 3.2 0a1.6 1.6 0 1 0 -3.2 0zM470.62 136.27a1.6 1.6 0 1 0 3.2 0a1.6 1.6 0 1 0 -3.2 0zM475.40 147.12a1.6 1.6 0 1 0 3.2 0a1.6 1.6 0 1 0 -3.2 0zM480.18 147.12a1.6 1.6 0 1 0 3.2 0a1.6 1.6 0 1 0 -3.2 0zM484.96 147.12a1.6 1.6 0 1 0 3.2 0a1.6 1.6 0 1 0 -3.2 0zM489.74 146.63a1.6 1.6 0 1 0 3.2 0a1.6 1.6 0 1 0 -3.2 0zM494.52 121.81a1.6 1.6 0 1 0 3.2 0a1.6 1.6 0 1 0 -3.2 0zM499.30 121.81a1.6 1.6 0 1 0 3.2 0a1.6 1.6 0 1 0 -3.2 0zM504.08 133.14a1.6 1.6 0 1 0 3.2 0a1.6 1.6 0 1 0 -3.2 0zM508.86 133.14a1.6 1.6 0 1 0 3.2 0a1.6 1.6 0 1 0 -3.2 0zM513.64 109.04a1.6 1.6 0 1 0 3.2 0a1.6 1.6 0 1 0 -3.2 0zM518.42 107.35a1.6 1.6 0 1 0 3.2 0a1.6 1.6 0 1 0 -3.2 0zM523.20 130.49a1.6 1.6 0 1 0 3.2 0a1.6 1.6 0 1 0 -3.2 0zM527.98 153.62a1.6 1.6 0 1 0 3.2 0a1.6 1.6 0 1 0 -3.2 0zM532.76 177.24a1.6 1.6 0 1 0 3.2 0a1.6 1.6 0 1 0 -3.2 0zM537.54 276.05a1.6 1.6 0 1 0 3.2 0a1.6 1.6 0 1 0 -3.2 0zM542.32 353.17a1.6 1.6 0 1 0 3.2 0a1.6 1.6 0 1 0 -3.2 0z" fill="#00f200" fill-opacity="1"/>
</g>
<polyline points="333.60,6.13 338.38,27.82 343.16,16.97 347.94,43.00 352.72,67.59 357.50,69.27 362.28,80.84 367.06,80.84 371.84,80.84 376.62,93.85 381.40,93.85 386.18,105.42 390.96,92.89 395.74,116.51 400.52,107.35 405.30,129.52 410.08,130.00 414.86,130.97 419.64,94.82 424.42,106.14 429.20,82.04 433.98,59.15 438.76,59.15 443.54,82.53 448.32,83.25 453.10,95.30 457.88,83.25 462.66,106.14 467.44,123.01 472.22,139.89 477.00,156.03 481.78,156.03 486.56,156.03 491.34,156.03 496.12,143.50 500.90,131.45 505.68,119.40 510.46,107.35 515.24,129.04 520.02,92.17 524.80,103.01 529.58,119.40 534.36,143.50 539.14,172.42 543.92,239.90" fill="none" stroke="#ff0000" stroke-width="1.85" stroke-linejoin="round" stroke-opacity="1" clip-path="url(#cb)"/>
<g clip-path="url(#cb)">
<path d="M332.35 6.13a1.25 1.25 0 1 0 2.5 0a1.25 1.25 0 1 0 -2.5 0zM337.13 27.82a1.25 1.25 0 1 0 2.5 0a1.25 1.25 0 1 0 -2.5 0zM341.91 16.97a1.25 1.25 0 1 0 2.5 0a1.25 1.25 0 1 0 -2.5 0zM346.69 43.00a1.25 1.25 0 1 0 2.5 0a1.25 1.25 0 1 0 -2.5 0zM351.47 67.59a1.25 1.25 0 1 0 2.5 0a1.25 1.25 0 1 0 -2.5 0zM356.25 69.27a1.25 1.25 0 1 0 2.5 0a1.25 1.25 0 1 0 -2.5 0zM361.03 80.84a1.25 1.25 0 1 0 2.5 0a1.25 1.25 0 1 0 -2.5 0zM365.81 80.84a1.25 1.25 0 1 0 2.5 0a1.25 1.25 0 1 0 -2.5 0zM370.59 80.84a1.25 1.25 0 1 0 2.5 0a1.25 1.25 0 1 0 -2.5 0zM375.37 93.85a1.25 1.25 0 1 0 2.5 0a1.25 1.25 0 1 0 -2.5 0zM380.15 93.85a1.25 1.25 0 1 0 2.5 0a1.25 1.25 0 1 0 -2.5 0zM384.93 105.42a1.25 1.25 0 1 0 2.5 0a1.25 1.25 0 1 0 -2.5 0zM389.71 92.89a1.25 1.25 0 1 0 2.5 0a1.25 1.25 0 1 0 -2.5 0zM394.49 116.51a1.25 1.25 0 1 0 2.5 0a1.25 1.25 0 1 0 -2.5 0zM399.27 107.35a1.25 1.25 0 1 0 2.5 0a1.25 1.25 0 1 0 -2.5 0zM404.05 129.52a1.25 1.25 0 1 0 2.5 0a1.25 1.25 0 1 0 -2.5 0zM408.83 130.00a1.25 1.25 0 1 0 2.5 0a1.25 1.25 0 1 0 -2.5 0zM413.61 130.97a1.25 1.25 0 1 0 2.5 0a1.25 1.25 0 1 0 -2.5 0zM418.39 94.82a1.25 1.25 0 1 0 2.5 0a1.25 1.25 0 1 0 -2.5 0zM423.17 106.14a1.25 1.25 0 1 0 2.5 0a1.25 1.25 0 1 0 -2.5 0zM427.95 82.04a1.25 1.25 0 1 0 2.5 0a1.25 1.25 0 1 0 -2.5 0zM432.73 59.15a1.25 1.25 0 1 0 2.5 0a1.25 1.25 0 1 0 -2.5 0zM437.51 59.15a1.25 1.25 0 1 0 2.5 0a1.25 1.25 0 1 0 -2.5 0zM442.29 82.53a1.25 1.25 0 1 0 2.5 0a1.25 1.25 0 1 0 -2.5 0zM447.07 83.25a1.25 1.25 0 1 0 2.5 0a1.25 1.25 0 1 0 -2.5 0zM451.85 95.30a1.25 1.25 0 1 0 2.5 0a1.25 1.25 0 1 0 -2.5 0zM456.63 83.25a1.25 1.25 0 1 0 2.5 0a1.25 1.25 0 1 0 -2.5 0zM461.41 106.14a1.25 1.25 0 1 0 2.5 0a1.25 1.25 0 1 0 -2.5 0zM466.19 123.01a1.25 1.25 0 1 0 2.5 0a1.25 1.25 0 1 0 -2.5 0zM470.97 139.89a1.25 1.25 0 1 0 2.5 0a1.25 1.25 0 1 0 -2.5 0zM475.75 156.03a1.25 1.25 0 1 0 2.5 0a1.25 1.25 0 1 0 -2.5 0zM480.53 156.03a1.25 1.25 0 1 0 2.5 0a1.25 1.25 0 1 0 -2.5 0zM485.31 156.03a1.25 1.25 0 1 0 2.5 0a1.25 1.25 0 1 0 -2.5 0zM490.09 156.03a1.25 1.25 0 1 0 2.5 0a1.25 1.25 0 1 0 -2.5 0zM494.87 143.50a1.25 1.25 0 1 0 2.5 0a1.25 1.25 0 1 0 -2.5 0zM499.65 131.45a1.25 1.25 0 1 0 2.5 0a1.25 1.25 0 1 0 -2.5 0zM504.43 119.40a1.25 1.25 0 1 0 2.5 0a1.25 1.25 0 1 0 -2.5 0zM509.21 107.35a1.25 1.25 0 1 0 2.5 0a1.25 1.25 0 1 0 -2.5 0zM513.99 129.04a1.25 1.25 0 1 0 2.5 0a1.25 1.25 0 1 0 -2.5 0zM518.77 92.17a1.25 1.25 0 1 0 2.5 0a1.25 1.25 0 1 0 -2.5 0zM523.55 103.01a1.25 1.25 0 1 0 2.5 0a1.25 1.25 0 1 0 -2.5 0zM528.33 119.40a1.25 1.25 0 1 0 2.5 0a1.25 1.25 0 1 0 -2.5 0zM533.11 143.50a1.25 1.25 0 1 0 2.5 0a1.25 1.25 0 1 0 -2.5 0zM537.89 172.42a1.25 1.25 0 1 0 2.5 0a1.25 1.25 0 1 0 -2.5 0zM542.67 239.90a1.25 1.25 0 1 0 2.5 0a1.25 1.25 0 1 0 -2.5 0z" fill="#ff0000" fill-opacity="1"/>
</g>
<polyline points="333.60,41.07 338.38,29.02 343.16,54.33 347.94,43.00 352.72,63.97 357.50,82.77 362.28,57.94 367.06,82.04 371.84,82.53 376.62,82.53 381.40,82.53 386.18,94.82 390.96,107.35 395.74,118.68 400.52,105.66 405.30,118.68 410.08,118.68 414.86,131.45 419.64,107.83 424.42,107.83 429.20,83.25 433.98,83.25 438.76,95.30 443.54,95.30 448.32,83.25 453.10,83.25 457.88,83.25 462.66,109.76 467.44,132.66 472.22,132.66 477.00,144.71 481.78,157.48 486.56,157.48 491.34,157.48 496.12,157.24 500.90,145.19 505.68,132.17 510.46,144.22 515.24,118.19 520.02,116.99 524.80,104.22 529.58,115.06 534.36,125.91 539.14,155.55 543.92,186.88" fill="none" stroke="#0000ff" stroke-width="1.85" stroke-linejoin="round" stroke-opacity="1" clip-path="url(#cb)"/>
<g clip-path="url(#cb)">
<path d="M332.35 41.07a1.25 1.25 0 1 0 2.5 0a1.25 1.25 0 1 0 -2.5 0zM337.13 29.02a1.25 1.25 0 1 0 2.5 0a1.25 1.25 0 1 0 -2.5 0zM341.91 54.33a1.25 1.25 0 1 0 2.5 0a1.25 1.25 0 1 0 -2.5 0zM346.69 43.00a1.25 1.25 0 1 0 2.5 0a1.25 1.25 0 1 0 -2.5 0zM351.47 63.97a1.25 1.25 0 1 0 2.5 0a1.25 1.25 0 1 0 -2.5 0zM356.25 82.77a1.25 1.25 0 1 0 2.5 0a1.25 1.25 0 1 0 -2.5 0zM361.03 57.94a1.25 1.25 0 1 0 2.5 0a1.25 1.25 0 1 0 -2.5 0zM365.81 82.04a1.25 1.25 0 1 0 2.5 0a1.25 1.25 0 1 0 -2.5 0zM370.59 82.53a1.25 1.25 0 1 0 2.5 0a1.25 1.25 0 1 0 -2.5 0zM375.37 82.53a1.25 1.25 0 1 0 2.5 0a1.25 1.25 0 1 0 -2.5 0zM380.15 82.53a1.25 1.25 0 1 0 2.5 0a1.25 1.25 0 1 0 -2.5 0zM384.93 94.82a1.25 1.25 0 1 0 2.5 0a1.25 1.25 0 1 0 -2.5 0zM389.71 107.35a1.25 1.25 0 1 0 2.5 0a1.25 1.25 0 1 0 -2.5 0zM394.49 118.68a1.25 1.25 0 1 0 2.5 0a1.25 1.25 0 1 0 -2.5 0zM399.27 105.66a1.25 1.25 0 1 0 2.5 0a1.25 1.25 0 1 0 -2.5 0zM404.05 118.68a1.25 1.25 0 1 0 2.5 0a1.25 1.25 0 1 0 -2.5 0zM408.83 118.68a1.25 1.25 0 1 0 2.5 0a1.25 1.25 0 1 0 -2.5 0zM413.61 131.45a1.25 1.25 0 1 0 2.5 0a1.25 1.25 0 1 0 -2.5 0zM418.39 107.83a1.25 1.25 0 1 0 2.5 0a1.25 1.25 0 1 0 -2.5 0zM423.17 107.83a1.25 1.25 0 1 0 2.5 0a1.25 1.25 0 1 0 -2.5 0zM427.95 83.25a1.25 1.25 0 1 0 2.5 0a1.25 1.25 0 1 0 -2.5 0zM432.73 83.25a1.25 1.25 0 1 0 2.5 0a1.25 1.25 0 1 0 -2.5 0zM437.51 95.30a1.25 1.25 0 1 0 2.5 0a1.25 1.25 0 1 0 -2.5 0zM442.29 95.30a1.25 1.25 0 1 0 2.5 0a1.25 1.25 0 1 0 -2.5 0zM447.07 83.25a1.25 1.25 0 1 0 2.5 0a1.25 1.25 0 1 0 -2.5 0zM451.85 83.25a1.25 1.25 0 1 0 2.5 0a1.25 1.25 0 1 0 -2.5 0zM456.63 83.25a1.25 1.25 0 1 0 2.5 0a1.25 1.25 0 1 0 -2.5 0zM461.41 109.76a1.25 1.25 0 1 0 2.5 0a1.25 1.25 0 1 0 -2.5 0zM466.19 132.66a1.25 1.25 0 1 0 2.5 0a1.25 1.25 0 1 0 -2.5 0zM470.97 132.66a1.25 1.25 0 1 0 2.5 0a1.25 1.25 0 1 0 -2.5 0zM475.75 144.71a1.25 1.25 0 1 0 2.5 0a1.25 1.25 0 1 0 -2.5 0zM480.53 157.48a1.25 1.25 0 1 0 2.5 0a1.25 1.25 0 1 0 -2.5 0zM485.31 157.48a1.25 1.25 0 1 0 2.5 0a1.25 1.25 0 1 0 -2.5 0zM490.09 157.48a1.25 1.25 0 1 0 2.5 0a1.25 1.25 0 1 0 -2.5 0zM494.87 157.24a1.25 1.25 0 1 0 2.5 0a1.25 1.25 0 1 0 -2.5 0zM499.65 145.19a1.25 1.25 0 1 0 2.5 0a1.25 1.25 0 1 0 -2.5 0zM504.43 132.17a1.25 1.25 0 1 0 2.5 0a1.25 1.25 0 1 0 -2.5 0zM509.21 144.22a1.25 1.25 0 1 0 2.5 0a1.25 1.25 0 1 0 -2.5 0zM513.99 118.19a1.25 1.25 0 1 0 2.5 0a1.25 1.25 0 1 0 -2.5 0zM518.77 116.99a1.25 1.25 0 1 0 2.5 0a1.25 1.25 0 1 0 -2.5 0zM523.55 104.22a1.25 1.25 0 1 0 2.5 0a1.25 1.25 0 1 0 -2.5 0zM528.33 115.06a1.25 1.25 0 1 0 2.5 0a1.25 1.25 0 1 0 -2.5 0zM533.11 125.91a1.25 1.25 0 1 0 2.5 0a1.25 1.25 0 1 0 -2.5 0zM537.89 155.55a1.25 1.25 0 1 0 2.5 0a1.25 1.25 0 1 0 -2.5 0zM542.67 186.88a1.25 1.25 0 1 0 2.5 0a1.25 1.25 0 1 0 -2.5 0z" fill="#0000ff" fill-opacity="1"/>
</g>
<line x1="333.3" y1="95.4" x2="544.7" y2="95.4" stroke="#000" stroke-width="1.05"/>
<text x="333.90" y="182.80" font-size="6" text-anchor="middle" font-family="Liberation Sans, sans-serif" font-weight="bold" fill="#000" stroke="#000" stroke-width="0.22" >45</text>
<text x="357.80" y="182.80" font-size="6" text-anchor="middle" font-family="Liberation Sans, sans-serif" font-weight="bold" fill="#000" stroke="#000" stroke-width="0.22" >50</text>
<text x="381.70" y="182.80" font-size="6" text-anchor="middle" font-family="Liberation Sans, sans-serif" font-weight="bold" fill="#000" stroke="#000" stroke-width="0.22" >55</text>
<text x="405.60" y="182.80" font-size="6" text-anchor="middle" font-family="Liberation Sans, sans-serif" font-weight="bold" fill="#000" stroke="#000" stroke-width="0.22" >60</text>
<text x="429.50" y="182.80" font-size="6" text-anchor="middle" font-family="Liberation Sans, sans-serif" font-weight="bold" fill="#000" stroke="#000" stroke-width="0.22" >65</text>
<text x="453.40" y="182.80" font-size="6" text-anchor="middle" font-family="Liberation Sans, sans-serif" font-weight="bold" fill="#000" stroke="#000" stroke-width="0.22" >70</text>
<text x="477.30" y="182.80" font-size="6" text-anchor="middle" font-family="Liberation Sans, sans-serif" font-weight="bold" fill="#000" stroke="#000" stroke-width="0.22" >75</text>
<text x="501.20" y="182.80" font-size="6" text-anchor="middle" font-family="Liberation Sans, sans-serif" font-weight="bold" fill="#000" stroke="#000" stroke-width="0.22" >80</text>
<text x="525.10" y="182.80" font-size="6" text-anchor="middle" font-family="Liberation Sans, sans-serif" font-weight="bold" fill="#000" stroke="#000" stroke-width="0.22" >85</text>
<text x="331.10" y="169.80" font-size="6" text-anchor="end" font-family="Liberation Sans, sans-serif" font-weight="bold" fill="#000" stroke="#000" stroke-width="0.22" >15</text>
<text x="331.10" y="145.70" font-size="6" text-anchor="end" font-family="Liberation Sans, sans-serif" font-weight="bold" fill="#000" stroke="#000" stroke-width="0.22" >16</text>
<text x="331.10" y="121.60" font-size="6" text-anchor="end" font-family="Liberation Sans, sans-serif" font-weight="bold" fill="#000" stroke="#000" stroke-width="0.22" >17</text>
<text x="331.10" y="97.50" font-size="6" text-anchor="end" font-family="Liberation Sans, sans-serif" font-weight="bold" fill="#000" stroke="#000" stroke-width="0.22" >18</text>
<text x="331.10" y="73.40" font-size="6" text-anchor="end" font-family="Liberation Sans, sans-serif" font-weight="bold" fill="#000" stroke="#000" stroke-width="0.22" >19</text>
<text x="331.10" y="49.30" font-size="6" text-anchor="end" font-family="Liberation Sans, sans-serif" font-weight="bold" fill="#000" stroke="#000" stroke-width="0.22" >20</text>
<text x="331.10" y="25.20" font-size="6" text-anchor="end" font-family="Liberation Sans, sans-serif" font-weight="bold" fill="#000" stroke="#000" stroke-width="0.22" >21</text>
<text x="439.10" y="191.10" font-size="6" text-anchor="middle" font-family="Liberation Sans, sans-serif" font-weight="bold" fill="#000" stroke="#000" stroke-width="0.22" >Range[bin]</text>
<g transform="translate(319.8,91.2) rotate(-90)">
<text x="0.00" y="0.00" font-size="6" text-anchor="middle" font-family="Liberation Sans, sans-serif" font-weight="bold" fill="#000" stroke="#000" stroke-width="0.22" >Forest Height/m</text>
</g>
<line x1="480.6" y1="14.8" x2="501.6" y2="14.8" stroke="#00f200" stroke-width="1.1" stroke-opacity="0.9" stroke-dasharray="1.3 2.5"/>
<circle cx="491.1" cy="14.8" r="1.8" fill="#00f200"/>
<text x="504.60" y="16.90" font-size="6" text-anchor="start" font-family="Liberation Sans, sans-serif" font-weight="bold" fill="#000" stroke="#000" stroke-width="0.22" >HV</text>
<line x1="480.6" y1="21.9" x2="501.6" y2="21.9" stroke="#ff0000" stroke-width="1.1" stroke-opacity="0.9" stroke-dasharray="1.3 2.5"/>
<circle cx="491.1" cy="21.9" r="1.3" fill="#ff0000"/>
<text x="504.60" y="24.00" font-size="6" text-anchor="start" font-family="Liberation Sans, sans-serif" font-weight="bold" fill="#000" stroke="#000" stroke-width="0.22" >PD</text>
<line x1="480.6" y1="29.0" x2="501.6" y2="29.0" stroke="#0000ff" stroke-width="1.1" stroke-opacity="0.9" stroke-dasharray="1.3 2.5"/>
<circle cx="491.1" cy="29.0" r="1.3" fill="#0000ff"/>
<text x="504.60" y="31.10" font-size="6" text-anchor="start" font-family="Liberation Sans, sans-serif" font-weight="bold" fill="#000" stroke="#000" stroke-width="0.22" >MCD</text>
<line x1="480.6" y1="36.4" x2="501.6" y2="36.4" stroke="#00f200" stroke-width="1.6"/>
<circle cx="491.1" cy="36.4" r="1.45" fill="#00f200"/>
<text x="504.60" y="38.50" font-size="6" text-anchor="start" font-family="Liberation Sans, sans-serif" font-weight="bold" fill="#000" stroke="#000" stroke-width="0.22" >HVWeight</text>
<line x1="480.6" y1="44.0" x2="501.6" y2="44.0" stroke="#ff0000" stroke-width="1.6"/>
<circle cx="491.1" cy="44.0" r="1.45" fill="#ff0000"/>
<text x="504.60" y="46.10" font-size="6" text-anchor="start" font-family="Liberation Sans, sans-serif" font-weight="bold" fill="#000" stroke="#000" stroke-width="0.22" >PDWeight</text>
<line x1="480.6" y1="51.7" x2="501.6" y2="51.7" stroke="#0000ff" stroke-width="1.6"/>
<circle cx="491.1" cy="51.7" r="1.45" fill="#0000ff"/>
<text x="504.60" y="53.80" font-size="6" text-anchor="start" font-family="Liberation Sans, sans-serif" font-weight="bold" fill="#000" stroke="#000" stroke-width="0.22" >MCDWeight</text>
<line x1="480.6" y1="58.9" x2="501.6" y2="58.9" stroke="#444" stroke-width="1.6"/>
<text x="504.60" y="61.00" font-size="6" text-anchor="start" font-family="Liberation Sans, sans-serif" font-weight="bold" fill="#000" stroke="#000" stroke-width="0.22" >true</text>
<rect x="177.00" y="259.60" width="212.00" height="169.10" fill="#fff"/>
<path d="M176.35 259.60H389.65M176.35 428.70H389.65" stroke="#909090" stroke-width="1.3" fill="none"/>
<path d="M177.00 259.60V428.70M389.00 259.60V428.70" stroke="#999" stroke-width="1.3" fill="none"/>
<path d="M177.00 428.70v-2.2M177.00 259.60v2.2M212.35 428.70v-2.2M212.35 259.60v2.2M247.70 428.70v-2.2M247.70 259.60v2.2M283.05 428.70v-2.2M283.05 259.60v2.2M318.40 428.70v-2.2M318.40 259.60v2.2M353.75 428.70v-2.2M353.75 259.60v2.2M389.10 428.70v-2.2M389.10 259.60v2.2" stroke="#909090" stroke-width="0.8" fill="none"/>
<path d="M177.00 428.70h2.2M389.00 428.70h-2.2M177.00 406.15h2.2M389.00 406.15h-2.2M177.00 383.60h2.2M389.00 383.60h-2.2M177.00 361.05h2.2M389.00 361.05h-2.2M177.00 338.50h2.2M389.00 338.50h-2.2M177.00 315.95h2.2M389.00 315.95h-2.2M177.00 293.40h2.2M389.00 293.40h-2.2M177.00 270.85h2.2M389.00 270.85h-2.2" stroke="#999" stroke-width="0.8" fill="none"/>
<polyline points="198.21,405.47 201.75,410.43 205.28,412.91 208.81,414.49 212.35,416.30 215.88,417.43 219.42,418.33 222.95,416.97 226.49,418.78 230.03,419.23 233.56,415.40 237.09,417.43 240.63,418.55 244.17,417.88 247.70,416.97 251.24,414.27 254.77,413.82 258.31,412.69 261.84,410.21 265.38,409.31 268.91,408.18 272.44,403.22 275.98,393.30 279.51,382.25 283.05,355.19 286.59,330.61 290.12,317.30 293.65,309.19 297.19,303.77 300.73,291.82 304.26,290.24 307.80,298.81 311.33,318.20 314.87,349.32 318.40,382.25 321.94,403.22 325.47,416.30 329.00,421.26 332.54,424.19 336.08,426.44 339.61,427.57 343.14,428.70 346.68,428.70 350.22,428.70 353.75,428.70 357.28,428.70 360.82,428.70 364.36,428.70 367.89,428.70 371.43,428.70 374.96,428.70 378.50,428.70 382.03,428.70 385.56,428.70 389.10,428.70" fill="none" stroke="#00f200" stroke-width="0.6" stroke-linejoin="round" stroke-opacity="0.7" stroke-dasharray="1.6 1.2"/>
<path d="M196.41 405.47a1.8 1.8 0 1 0 3.6 0a1.8 1.8 0 1 0 -3.6 0zM199.94 410.43a1.8 1.8 0 1 0 3.6 0a1.8 1.8 0 1 0 -3.6 0zM203.48 412.91a1.8 1.8 0 1 0 3.6 0a1.8 1.8 0 1 0 -3.6 0zM207.01 414.49a1.8 1.8 0 1 0 3.6 0a1.8 1.8 0 1 0 -3.6 0zM210.55 416.30a1.8 1.8 0 1 0 3.6 0a1.8 1.8 0 1 0 -3.6 0zM214.08 417.43a1.8 1.8 0 1 0 3.6 0a1.8 1.8 0 1 0 -3.6 0zM217.62 418.33a1.8 1.8 0 1 0 3.6 0a1.8 1.8 0 1 0 -3.6 0zM221.15 416.97a1.8 1.8 0 1 0 3.6 0a1.8 1.8 0 1 0 -3.6 0zM224.69 418.78a1.8 1.8 0 1 0 3.6 0a1.8 1.8 0 1 0 -3.6 0zM228.22 419.23a1.8 1.8 0 1 0 3.6 0a1.8 1.8 0 1 0 -3.6 0zM231.76 415.40a1.8 1.8 0 1 0 3.6 0a1.8 1.8 0 1 0 -3.6 0zM235.29 417.43a1.8 1.8 0 1 0 3.6 0a1.8 1.8 0 1 0 -3.6 0zM238.83 418.55a1.8 1.8 0 1 0 3.6 0a1.8 1.8 0 1 0 -3.6 0zM242.37 417.88a1.8 1.8 0 1 0 3.6 0a1.8 1.8 0 1 0 -3.6 0zM245.90 416.97a1.8 1.8 0 1 0 3.6 0a1.8 1.8 0 1 0 -3.6 0zM249.44 414.27a1.8 1.8 0 1 0 3.6 0a1.8 1.8 0 1 0 -3.6 0zM252.97 413.82a1.8 1.8 0 1 0 3.6 0a1.8 1.8 0 1 0 -3.6 0zM256.50 412.69a1.8 1.8 0 1 0 3.6 0a1.8 1.8 0 1 0 -3.6 0zM260.04 410.21a1.8 1.8 0 1 0 3.6 0a1.8 1.8 0 1 0 -3.6 0zM263.57 409.31a1.8 1.8 0 1 0 3.6 0a1.8 1.8 0 1 0 -3.6 0zM267.11 408.18a1.8 1.8 0 1 0 3.6 0a1.8 1.8 0 1 0 -3.6 0zM270.64 403.22a1.8 1.8 0 1 0 3.6 0a1.8 1.8 0 1 0 -3.6 0zM274.18 393.30a1.8 1.8 0 1 0 3.6 0a1.8 1.8 0 1 0 -3.6 0zM277.71 382.25a1.8 1.8 0 1 0 3.6 0a1.8 1.8 0 1 0 -3.6 0zM281.25 355.19a1.8 1.8 0 1 0 3.6 0a1.8 1.8 0 1 0 -3.6 0zM284.79 330.61a1.8 1.8 0 1 0 3.6 0a1.8 1.8 0 1 0 -3.6 0zM288.32 317.30a1.8 1.8 0 1 0 3.6 0a1.8 1.8 0 1 0 -3.6 0zM291.85 309.19a1.8 1.8 0 1 0 3.6 0a1.8 1.8 0 1 0 -3.6 0zM295.39 303.77a1.8 1.8 0 1 0 3.6 0a1.8 1.8 0 1 0 -3.6 0zM298.93 291.82a1.8 1.8 0 1 0 3.6 0a1.8 1.8 0 1 0 -3.6 0zM302.46 290.24a1.8 1.8 0 1 0 3.6 0a1.8 1.8 0 1 0 -3.6 0zM306.00 298.81a1.8 1.8 0 1 0 3.6 0a1.8 1.8 0 1 0 -3.6 0zM309.53 318.20a1.8 1.8 0 1 0 3.6 0a1.8 1.8 0 1 0 -3.6 0zM313.06 349.32a1.8 1.8 0 1 0 3.6 0a1.8 1.8 0 1 0 -3.6 0zM316.60 382.25a1.8 1.8 0 1 0 3.6 0a1.8 1.8 0 1 0 -3.6 0zM320.13 403.22a1.8 1.8 0 1 0 3.6 0a1.8 1.8 0 1 0 -3.6 0zM323.67 416.30a1.8 1.8 0 1 0 3.6 0a1.8 1.8 0 1 0 -3.6 0zM327.20 421.26a1.8 1.8 0 1 0 3.6 0a1.8 1.8 0 1 0 -3.6 0zM330.74 424.19a1.8 1.8 0 1 0 3.6 0a1.8 1.8 0 1 0 -3.6 0zM334.28 426.44a1.8 1.8 0 1 0 3.6 0a1.8 1.8 0 1 0 -3.6 0zM337.81 427.57a1.8 1.8 0 1 0 3.6 0a1.8 1.8 0 1 0 -3.6 0zM341.34 428.70a1.8 1.8 0 1 0 3.6 0a1.8 1.8 0 1 0 -3.6 0zM344.88 428.70a1.8 1.8 0 1 0 3.6 0a1.8 1.8 0 1 0 -3.6 0zM348.42 428.70a1.8 1.8 0 1 0 3.6 0a1.8 1.8 0 1 0 -3.6 0zM351.95 428.70a1.8 1.8 0 1 0 3.6 0a1.8 1.8 0 1 0 -3.6 0zM355.48 428.70a1.8 1.8 0 1 0 3.6 0a1.8 1.8 0 1 0 -3.6 0zM359.02 428.70a1.8 1.8 0 1 0 3.6 0a1.8 1.8 0 1 0 -3.6 0zM362.56 428.70a1.8 1.8 0 1 0 3.6 0a1.8 1.8 0 1 0 -3.6 0zM366.09 428.70a1.8 1.8 0 1 0 3.6 0a1.8 1.8 0 1 0 -3.6 0zM369.62 428.70a1.8 1.8 0 1 0 3.6 0a1.8 1.8 0 1 0 -3.6 0zM373.16 428.70a1.8 1.8 0 1 0 3.6 0a1.8 1.8 0 1 0 -3.6 0zM376.69 428.70a1.8 1.8 0 1 0 3.6 0a1.8 1.8 0 1 0 -3.6 0zM380.23 428.70a1.8 1.8 0 1 0 3.6 0a1.8 1.8 0 1 0 -3.6 0zM383.76 428.70a1.8 1.8 0 1 0 3.6 0a1.8 1.8 0 1 0 -3.6 0zM387.30 428.70a1.8 1.8 0 1 0 3.6 0a1.8 1.8 0 1 0 -3.6 0z" fill="#00f200" fill-opacity="1"/>
<polyline points="198.21,409.31 201.75,412.24 205.28,413.82 208.81,415.40 212.35,417.43 215.88,418.33 219.42,418.78 222.95,418.55 226.49,419.23 230.03,418.10 233.56,418.55 237.09,418.78 240.63,419.68 244.17,418.55 247.70,417.43 251.24,416.30 254.77,414.27 258.31,412.24 261.84,408.18 265.38,405.25 268.91,400.29 272.44,391.27 275.98,382.25 279.51,360.15 283.05,349.77 286.59,342.33 290.12,322.71 293.65,309.64 297.19,295.20 300.73,279.64 304.26,285.28 307.80,298.14 311.33,314.15 314.87,335.12 318.40,356.31 321.94,377.96 325.47,393.75 329.00,402.32 332.54,411.79 336.08,418.55 339.61,421.94 343.14,424.19 346.68,426.44 350.22,428.02 353.75,428.70 357.28,428.70 360.82,428.70 364.36,428.70 367.89,428.70 371.43,428.70 374.96,428.70 378.50,428.70 382.03,428.70 385.56,428.70 389.10,428.70" fill="none" stroke="#ff0000" stroke-width="0.6" stroke-linejoin="round" stroke-opacity="0.7" stroke-dasharray="1.6 1.2"/>
<path d="M196.96 409.31a1.25 1.25 0 1 0 2.5 0a1.25 1.25 0 1 0 -2.5 0zM200.50 412.24a1.25 1.25 0 1 0 2.5 0a1.25 1.25 0 1 0 -2.5 0zM204.03 413.82a1.25 1.25 0 1 0 2.5 0a1.25 1.25 0 1 0 -2.5 0zM207.56 415.40a1.25 1.25 0 1 0 2.5 0a1.25 1.25 0 1 0 -2.5 0zM211.10 417.43a1.25 1.25 0 1 0 2.5 0a1.25 1.25 0 1 0 -2.5 0zM214.63 418.33a1.25 1.25 0 1 0 2.5 0a1.25 1.25 0 1 0 -2.5 0zM218.17 418.78a1.25 1.25 0 1 0 2.5 0a1.25 1.25 0 1 0 -2.5 0zM221.70 418.55a1.25 1.25 0 1 0 2.5 0a1.25 1.25 0 1 0 -2.5 0zM225.24 419.23a1.25 1.25 0 1 0 2.5 0a1.25 1.25 0 1 0 -2.5 0zM228.78 418.10a1.25 1.25 0 1 0 2.5 0a1.25 1.25 0 1 0 -2.5 0zM232.31 418.55a1.25 1.25 0 1 0 2.5 0a1.25 1.25 0 1 0 -2.5 0zM235.84 418.78a1.25 1.25 0 1 0 2.5 0a1.25 1.25 0 1 0 -2.5 0zM239.38 419.68a1.25 1.25 0 1 0 2.5 0a1.25 1.25 0 1 0 -2.5 0zM242.92 418.55a1.25 1.25 0 1 0 2.5 0a1.25 1.25 0 1 0 -2.5 0zM246.45 417.43a1.25 1.25 0 1 0 2.5 0a1.25 1.25 0 1 0 -2.5 0zM249.99 416.30a1.25 1.25 0 1 0 2.5 0a1.25 1.25 0 1 0 -2.5 0zM253.52 414.27a1.25 1.25 0 1 0 2.5 0a1.25 1.25 0 1 0 -2.5 0zM257.06 412.24a1.25 1.25 0 1 0 2.5 0a1.25 1.25 0 1 0 -2.5 0zM260.59 408.18a1.25 1.25 0 1 0 2.5 0a1.25 1.25 0 1 0 -2.5 0zM264.12 405.25a1.25 1.25 0 1 0 2.5 0a1.25 1.25 0 1 0 -2.5 0zM267.66 400.29a1.25 1.25 0 1 0 2.5 0a1.25 1.25 0 1 0 -2.5 0zM271.19 391.27a1.25 1.25 0 1 0 2.5 0a1.25 1.25 0 1 0 -2.5 0zM274.73 382.25a1.25 1.25 0 1 0 2.5 0a1.25 1.25 0 1 0 -2.5 0zM278.26 360.15a1.25 1.25 0 1 0 2.5 0a1.25 1.25 0 1 0 -2.5 0zM281.80 349.77a1.25 1.25 0 1 0 2.5 0a1.25 1.25 0 1 0 -2.5 0zM285.34 342.33a1.25 1.25 0 1 0 2.5 0a1.25 1.25 0 1 0 -2.5 0zM288.87 322.71a1.25 1.25 0 1 0 2.5 0a1.25 1.25 0 1 0 -2.5 0zM292.40 309.64a1.25 1.25 0 1 0 2.5 0a1.25 1.25 0 1 0 -2.5 0zM295.94 295.20a1.25 1.25 0 1 0 2.5 0a1.25 1.25 0 1 0 -2.5 0zM299.48 279.64a1.25 1.25 0 1 0 2.5 0a1.25 1.25 0 1 0 -2.5 0zM303.01 285.28a1.25 1.25 0 1 0 2.5 0a1.25 1.25 0 1 0 -2.5 0zM306.55 298.14a1.25 1.25 0 1 0 2.5 0a1.25 1.25 0 1 0 -2.5 0zM310.08 314.15a1.25 1.25 0 1 0 2.5 0a1.25 1.25 0 1 0 -2.5 0zM313.62 335.12a1.25 1.25 0 1 0 2.5 0a1.25 1.25 0 1 0 -2.5 0zM317.15 356.31a1.25 1.25 0 1 0 2.5 0a1.25 1.25 0 1 0 -2.5 0zM320.69 377.96a1.25 1.25 0 1 0 2.5 0a1.25 1.25 0 1 0 -2.5 0zM324.22 393.75a1.25 1.25 0 1 0 2.5 0a1.25 1.25 0 1 0 -2.5 0zM327.75 402.32a1.25 1.25 0 1 0 2.5 0a1.25 1.25 0 1 0 -2.5 0zM331.29 411.79a1.25 1.25 0 1 0 2.5 0a1.25 1.25 0 1 0 -2.5 0zM334.83 418.55a1.25 1.25 0 1 0 2.5 0a1.25 1.25 0 1 0 -2.5 0zM338.36 421.94a1.25 1.25 0 1 0 2.5 0a1.25 1.25 0 1 0 -2.5 0zM341.89 424.19a1.25 1.25 0 1 0 2.5 0a1.25 1.25 0 1 0 -2.5 0zM345.43 426.44a1.25 1.25 0 1 0 2.5 0a1.25 1.25 0 1 0 -2.5 0zM348.97 428.02a1.25 1.25 0 1 0 2.5 0a1.25 1.25 0 1 0 -2.5 0zM352.50 428.70a1.25 1.25 0 1 0 2.5 0a1.25 1.25 0 1 0 -2.5 0zM356.03 428.70a1.25 1.25 0 1 0 2.5 0a1.25 1.25 0 1 0 -2.5 0zM359.57 428.70a1.25 1.25 0 1 0 2.5 0a1.25 1.25 0 1 0 -2.5 0zM363.11 428.70a1.25 1.25 0 1 0 2.5 0a1.25 1.25 0 1 0 -2.5 0zM366.64 428.70a1.25 1.25 0 1 0 2.5 0a1.25 1.25 0 1 0 -2.5 0zM370.18 428.70a1.25 1.25 0 1 0 2.5 0a1.25 1.25 0 1 0 -2.5 0zM373.71 428.70a1.25 1.25 0 1 0 2.5 0a1.25 1.25 0 1 0 -2.5 0zM377.25 428.70a1.25 1.25 0 1 0 2.5 0a1.25 1.25 0 1 0 -2.5 0zM380.78 428.70a1.25 1.25 0 1 0 2.5 0a1.25 1.25 0 1 0 -2.5 0zM384.31 428.70a1.25 1.25 0 1 0 2.5 0a1.25 1.25 0 1 0 -2.5 0zM387.85 428.70a1.25 1.25 0 1 0 2.5 0a1.25 1.25 0 1 0 -2.5 0z" fill="#ff0000" fill-opacity="1"/>
<polyline points="198.21,414.49 201.75,412.91 205.28,413.82 208.81,414.72 212.35,415.85 215.88,416.30 219.42,415.40 222.95,416.97 226.49,416.97 230.03,416.97 233.56,416.97 237.09,417.43 240.63,415.40 244.17,413.82 247.70,414.94 251.24,417.20 254.77,415.85 258.31,412.69 261.84,409.31 265.38,407.28 268.91,404.57 272.44,395.10 275.98,384.28 279.51,362.18 283.05,334.22 286.59,316.18 290.12,307.61 293.65,301.29 297.19,281.90 300.73,272.20 304.26,271.53 307.80,275.13 311.33,308.28 314.87,335.79 318.40,355.19 321.94,377.29 325.47,393.30 329.00,405.25 332.54,413.14 336.08,419.23 339.61,423.29 343.14,425.99 346.68,427.57 350.22,428.70 353.75,428.70 357.28,428.70 360.82,428.70 364.36,428.70 367.89,428.70 371.43,428.70 374.96,428.70 378.50,428.70 382.03,428.70 385.56,428.70 389.10,428.70" fill="none" stroke="#0000ff" stroke-width="0.6" stroke-linejoin="round" stroke-opacity="0.7" stroke-dasharray="1.6 1.2"/>
<path d="M196.96 414.49a1.25 1.25 0 1 0 2.5 0a1.25 1.25 0 1 0 -2.5 0zM200.50 412.91a1.25 1.25 0 1 0 2.5 0a1.25 1.25 0 1 0 -2.5 0zM204.03 413.82a1.25 1.25 0 1 0 2.5 0a1.25 1.25 0 1 0 -2.5 0zM207.56 414.72a1.25 1.25 0 1 0 2.5 0a1.25 1.25 0 1 0 -2.5 0zM211.10 415.85a1.25 1.25 0 1 0 2.5 0a1.25 1.25 0 1 0 -2.5 0zM214.63 416.30a1.25 1.25 0 1 0 2.5 0a1.25 1.25 0 1 0 -2.5 0zM218.17 415.40a1.25 1.25 0 1 0 2.5 0a1.25 1.25 0 1 0 -2.5 0zM221.70 416.97a1.25 1.25 0 1 0 2.5 0a1.25 1.25 0 1 0 -2.5 0zM225.24 416.97a1.25 1.25 0 1 0 2.5 0a1.25 1.25 0 1 0 -2.5 0zM228.78 416.97a1.25 1.25 0 1 0 2.5 0a1.25 1.25 0 1 0 -2.5 0zM232.31 416.97a1.25 1.25 0 1 0 2.5 0a1.25 1.25 0 1 0 -2.5 0zM235.84 417.43a1.25 1.25 0 1 0 2.5 0a1.25 1.25 0 1 0 -2.5 0zM239.38 415.40a1.25 1.25 0 1 0 2.5 0a1.25 1.25 0 1 0 -2.5 0zM242.92 413.82a1.25 1.25 0 1 0 2.5 0a1.25 1.25 0 1 0 -2.5 0zM246.45 414.94a1.25 1.25 0 1 0 2.5 0a1.25 1.25 0 1 0 -2.5 0zM249.99 417.20a1.25 1.25 0 1 0 2.5 0a1.25 1.25 0 1 0 -2.5 0zM253.52 415.85a1.25 1.25 0 1 0 2.5 0a1.25 1.25 0 1 0 -2.5 0zM257.06 412.69a1.25 1.25 0 1 0 2.5 0a1.25 1.25 0 1 0 -2.5 0zM260.59 409.31a1.25 1.25 0 1 0 2.5 0a1.25 1.25 0 1 0 -2.5 0zM264.12 407.28a1.25 1.25 0 1 0 2.5 0a1.25 1.25 0 1 0 -2.5 0zM267.66 404.57a1.25 1.25 0 1 0 2.5 0a1.25 1.25 0 1 0 -2.5 0zM271.19 395.10a1.25 1.25 0 1 0 2.5 0a1.25 1.25 0 1 0 -2.5 0zM274.73 384.28a1.25 1.25 0 1 0 2.5 0a1.25 1.25 0 1 0 -2.5 0zM278.26 362.18a1.25 1.25 0 1 0 2.5 0a1.25 1.25 0 1 0 -2.5 0zM281.80 334.22a1.25 1.25 0 1 0 2.5 0a1.25 1.25 0 1 0 -2.5 0zM285.34 316.18a1.25 1.25 0 1 0 2.5 0a1.25 1.25 0 1 0 -2.5 0zM288.87 307.61a1.25 1.25 0 1 0 2.5 0a1.25 1.25 0 1 0 -2.5 0zM292.40 301.29a1.25 1.25 0 1 0 2.5 0a1.25 1.25 0 1 0 -2.5 0zM295.94 281.90a1.25 1.25 0 1 0 2.5 0a1.25 1.25 0 1 0 -2.5 0zM299.48 272.20a1.25 1.25 0 1 0 2.5 0a1.25 1.25 0 1 0 -2.5 0zM303.01 271.53a1.25 1.25 0 1 0 2.5 0a1.25 1.25 0 1 0 -2.5 0zM306.55 275.13a1.25 1.25 0 1 0 2.5 0a1.25 1.25 0 1 0 -2.5 0zM310.08 308.28a1.25 1.25 0 1 0 2.5 0a1.25 1.25 0 1 0 -2.5 0zM313.62 335.79a1.25 1.25 0 1 0 2.5 0a1.25 1.25 0 1 0 -2.5 0zM317.15 355.19a1.25 1.25 0 1 0 2.5 0a1.25 1.25 0 1 0 -2.5 0zM320.69 377.29a1.25 1.25 0 1 0 2.5 0a1.25 1.25 0 1 0 -2.5 0zM324.22 393.30a1.25 1.25 0 1 0 2.5 0a1.25 1.25 0 1 0 -2.5 0zM327.75 405.25a1.25 1.25 0 1 0 2.5 0a1.25 1.25 0 1 0 -2.5 0zM331.29 413.14a1.25 1.25 0 1 0 2.5 0a1.25 1.25 0 1 0 -2.5 0zM334.83 419.23a1.25 1.25 0 1 0 2.5 0a1.25 1.25 0 1 0 -2.5 0zM338.36 423.29a1.25 1.25 0 1 0 2.5 0a1.25 1.25 0 1 0 -2.5 0zM341.89 425.99a1.25 1.25 0 1 0 2.5 0a1.25 1.25 0 1 0 -2.5 0zM345.43 427.57a1.25 1.25 0 1 0 2.5 0a1.25 1.25 0 1 0 -2.5 0zM348.97 428.70a1.25 1.25 0 1 0 2.5 0a1.25 1.25 0 1 0 -2.5 0zM352.50 428.70a1.25 1.25 0 1 0 2.5 0a1.25 1.25 0 1 0 -2.5 0zM356.03 428.70a1.25 1.25 0 1 0 2.5 0a1.25 1.25 0 1 0 -2.5 0zM359.57 428.70a1.25 1.25 0 1 0 2.5 0a1.25 1.25 0 1 0 -2.5 0zM363.11 428.70a1.25 1.25 0 1 0 2.5 0a1.25 1.25 0 1 0 -2.5 0zM366.64 428.70a1.25 1.25 0 1 0 2.5 0a1.25 1.25 0 1 0 -2.5 0zM370.18 428.70a1.25 1.25 0 1 0 2.5 0a1.25 1.25 0 1 0 -2.5 0zM373.71 428.70a1.25 1.25 0 1 0 2.5 0a1.25 1.25 0 1 0 -2.5 0zM377.25 428.70a1.25 1.25 0 1 0 2.5 0a1.25 1.25 0 1 0 -2.5 0zM380.78 428.70a1.25 1.25 0 1 0 2.5 0a1.25 1.25 0 1 0 -2.5 0zM384.31 428.70a1.25 1.25 0 1 0 2.5 0a1.25 1.25 0 1 0 -2.5 0zM387.85 428.70a1.25 1.25 0 1 0 2.5 0a1.25 1.25 0 1 0 -2.5 0z" fill="#0000ff" fill-opacity="1"/>
<polyline points="198.21,419.00 201.75,418.78 205.28,421.94 208.81,422.39 212.35,422.84 215.88,423.74 219.42,423.29 222.95,424.19 226.49,423.74 230.03,421.94 233.56,424.19 237.09,423.29 240.63,424.64 244.17,423.74 247.70,422.84 251.24,421.94 254.77,423.74 258.31,422.16 261.84,419.23 265.38,417.20 268.91,419.23 272.44,419.23 275.98,412.24 279.51,408.18 283.05,402.32 286.59,382.25 290.12,381.34 293.65,375.26 297.19,372.32 300.73,368.27 304.26,364.21 307.80,365.11 311.33,370.30 314.87,375.26 318.40,390.14 321.94,404.12 325.47,415.17 329.00,421.26 332.54,424.19 336.08,426.22 339.61,427.57 343.14,428.70 346.68,428.70 350.22,428.70 353.75,428.70 357.28,428.70 360.82,428.70 364.36,428.70 367.89,428.70 371.43,428.70 374.96,428.70 378.50,428.70 382.03,428.70 385.56,428.70 389.10,428.70" fill="none" stroke="#00f200" stroke-width="1.7" stroke-linejoin="round" stroke-opacity="1"/>
<path d="M197.21 419.00a1.0 1.0 0 1 0 2.0 0a1.0 1.0 0 1 0 -2.0 0zM200.75 418.78a1.0 1.0 0 1 0 2.0 0a1.0 1.0 0 1 0 -2.0 0zM204.28 421.94a1.0 1.0 0 1 0 2.0 0a1.0 1.0 0 1 0 -2.0 0zM207.81 422.39a1.0 1.0 0 1 0 2.0 0a1.0 1.0 0 1 0 -2.0 0zM211.35 422.84a1.0 1.0 0 1 0 2.0 0a1.0 1.0 0 1 0 -2.0 0zM214.88 423.74a1.0 1.0 0 1 0 2.0 0a1.0 1.0 0 1 0 -2.0 0zM218.42 423.29a1.0 1.0 0 1 0 2.0 0a1.0 1.0 0 1 0 -2.0 0zM221.95 424.19a1.0 1.0 0 1 0 2.0 0a1.0 1.0 0 1 0 -2.0 0zM225.49 423.74a1.0 1.0 0 1 0 2.0 0a1.0 1.0 0 1 0 -2.0 0zM229.03 421.94a1.0 1.0 0 1 0 2.0 0a1.0 1.0 0 1 0 -2.0 0zM232.56 424.19a1.0 1.0 0 1 0 2.0 0a1.0 1.0 0 1 0 -2.0 0zM236.09 423.29a1.0 1.0 0 1 0 2.0 0a1.0 1.0 0 1 0 -2.0 0zM239.63 424.64a1.0 1.0 0 1 0 2.0 0a1.0 1.0 0 1 0 -2.0 0zM243.17 423.74a1.0 1.0 0 1 0 2.0 0a1.0 1.0 0 1 0 -2.0 0zM246.70 422.84a1.0 1.0 0 1 0 2.0 0a1.0 1.0 0 1 0 -2.0 0zM250.24 421.94a1.0 1.0 0 1 0 2.0 0a1.0 1.0 0 1 0 -2.0 0zM253.77 423.74a1.0 1.0 0 1 0 2.0 0a1.0 1.0 0 1 0 -2.0 0zM257.31 422.16a1.0 1.0 0 1 0 2.0 0a1.0 1.0 0 1 0 -2.0 0zM260.84 419.23a1.0 1.0 0 1 0 2.0 0a1.0 1.0 0 1 0 -2.0 0zM264.38 417.20a1.0 1.0 0 1 0 2.0 0a1.0 1.0 0 1 0 -2.0 0zM267.91 419.23a1.0 1.0 0 1 0 2.0 0a1.0 1.0 0 1 0 -2.0 0zM271.44 419.23a1.0 1.0 0 1 0 2.0 0a1.0 1.0 0 1 0 -2.0 0zM274.98 412.24a1.0 1.0 0 1 0 2.0 0a1.0 1.0 0 1 0 -2.0 0zM278.51 408.18a1.0 1.0 0 1 0 2.0 0a1.0 1.0 0 1 0 -2.0 0zM282.05 402.32a1.0 1.0 0 1 0 2.0 0a1.0 1.0 0 1 0 -2.0 0zM285.59 382.25a1.0 1.0 0 1 0 2.0 0a1.0 1.0 0 1 0 -2.0 0zM289.12 381.34a1.0 1.0 0 1 0 2.0 0a1.0 1.0 0 1 0 -2.0 0zM292.65 375.26a1.0 1.0 0 1 0 2.0 0a1.0 1.0 0 1 0 -2.0 0zM296.19 372.32a1.0 1.0 0 1 0 2.0 0a1.0 1.0 0 1 0 -2.0 0zM299.73 368.27a1.0 1.0 0 1 0 2.0 0a1.0 1.0 0 1 0 -2.0 0zM303.26 364.21a1.0 1.0 0 1 0 2.0 0a1.0 1.0 0 1 0 -2.0 0zM306.80 365.11a1.0 1.0 0 1 0 2.0 0a1.0 1.0 0 1 0 -2.0 0zM310.33 370.30a1.0 1.0 0 1 0 2.0 0a1.0 1.0 0 1 0 -2.0 0zM313.87 375.26a1.0 1.0 0 1 0 2.0 0a1.0 1.0 0 1 0 -2.0 0zM317.40 390.14a1.0 1.0 0 1 0 2.0 0a1.0 1.0 0 1 0 -2.0 0zM320.94 404.12a1.0 1.0 0 1 0 2.0 0a1.0 1.0 0 1 0 -2.0 0zM324.47 415.17a1.0 1.0 0 1 0 2.0 0a1.0 1.0 0 1 0 -2.0 0zM328.00 421.26a1.0 1.0 0 1 0 2.0 0a1.0 1.0 0 1 0 -2.0 0zM331.54 424.19a1.0 1.0 0 1 0 2.0 0a1.0 1.0 0 1 0 -2.0 0zM335.08 426.22a1.0 1.0 0 1 0 2.0 0a1.0 1.0 0 1 0 -2.0 0zM338.61 427.57a1.0 1.0 0 1 0 2.0 0a1.0 1.0 0 1 0 -2.0 0zM342.14 428.70a1.0 1.0 0 1 0 2.0 0a1.0 1.0 0 1 0 -2.0 0zM345.68 428.70a1.0 1.0 0 1 0 2.0 0a1.0 1.0 0 1 0 -2.0 0zM349.22 428.70a1.0 1.0 0 1 0 2.0 0a1.0 1.0 0 1 0 -2.0 0zM352.75 428.70a1.0 1.0 0 1 0 2.0 0a1.0 1.0 0 1 0 -2.0 0zM356.28 428.70a1.0 1.0 0 1 0 2.0 0a1.0 1.0 0 1 0 -2.0 0zM359.82 428.70a1.0 1.0 0 1 0 2.0 0a1.0 1.0 0 1 0 -2.0 0zM363.36 428.70a1.0 1.0 0 1 0 2.0 0a1.0 1.0 0 1 0 -2.0 0zM366.89 428.70a1.0 1.0 0 1 0 2.0 0a1.0 1.0 0 1 0 -2.0 0zM370.43 428.70a1.0 1.0 0 1 0 2.0 0a1.0 1.0 0 1 0 -2.0 0zM373.96 428.70a1.0 1.0 0 1 0 2.0 0a1.0 1.0 0 1 0 -2.0 0zM377.50 428.70a1.0 1.0 0 1 0 2.0 0a1.0 1.0 0 1 0 -2.0 0zM381.03 428.70a1.0 1.0 0 1 0 2.0 0a1.0 1.0 0 1 0 -2.0 0zM384.56 428.70a1.0 1.0 0 1 0 2.0 0a1.0 1.0 0 1 0 -2.0 0zM388.10 428.70a1.0 1.0 0 1 0 2.0 0a1.0 1.0 0 1 0 -2.0 0z" fill="#00f200" fill-opacity="1"/>
<polyline points="198.21,420.36 201.75,417.88 205.28,421.26 208.81,421.94 212.35,422.39 215.88,422.84 219.42,424.19 222.95,423.29 226.49,423.74 230.03,425.32 233.56,424.64 237.09,423.74 240.63,425.54 244.17,424.19 247.70,422.39 251.24,420.13 254.77,423.29 258.31,423.29 261.84,420.13 265.38,419.23 268.91,415.85 272.44,415.17 275.98,408.18 279.51,404.12 283.05,392.17 286.59,394.20 290.12,391.72 293.65,383.15 297.19,375.26 300.73,368.27 304.26,359.25 307.80,352.71 311.33,366.24 314.87,365.11 318.40,379.09 321.94,388.11 325.47,400.29 329.00,407.28 332.54,413.14 336.08,419.23 339.61,422.16 343.14,424.19 346.68,426.44 350.22,428.02 353.75,428.70 357.28,428.70 360.82,428.70 364.36,428.70 367.89,428.70 371.43,428.70 374.96,428.70 378.50,428.70 382.03,428.70 385.56,428.70 389.10,428.70" fill="none" stroke="#ff0000" stroke-width="1.7" stroke-linejoin="round" stroke-opacity="1"/>
<path d="M197.21 420.36a1.0 1.0 0 1 0 2.0 0a1.0 1.0 0 1 0 -2.0 0zM200.75 417.88a1.0 1.0 0 1 0 2.0 0a1.0 1.0 0 1 0 -2.0 0zM204.28 421.26a1.0 1.0 0 1 0 2.0 0a1.0 1.0 0 1 0 -2.0 0zM207.81 421.94a1.0 1.0 0 1 0 2.0 0a1.0 1.0 0 1 0 -2.0 0zM211.35 422.39a1.0 1.0 0 1 0 2.0 0a1.0 1.0 0 1 0 -2.0 0zM214.88 422.84a1.0 1.0 0 1 0 2.0 0a1.0 1.0 0 1 0 -2.0 0zM218.42 424.19a1.0 1.0 0 1 0 2.0 0a1.0 1.0 0 1 0 -2.0 0zM221.95 423.29a1.0 1.0 0 1 0 2.0 0a1.0 1.0 0 1 0 -2.0 0zM225.49 423.74a1.0 1.0 0 1 0 2.0 0a1.0 1.0 0 1 0 -2.0 0zM229.03 425.32a1.0 1.0 0 1 0 2.0 0a1.0 1.0 0 1 0 -2.0 0zM232.56 424.64a1.0 1.0 0 1 0 2.0 0a1.0 1.0 0 1 0 -2.0 0zM236.09 423.74a1.0 1.0 0 1 0 2.0 0a1.0 1.0 0 1 0 -2.0 0zM239.63 425.54a1.0 1.0 0 1 0 2.0 0a1.0 1.0 0 1 0 -2.0 0zM243.17 424.19a1.0 1.0 0 1 0 2.0 0a1.0 1.0 0 1 0 -2.0 0zM246.70 422.39a1.0 1.0 0 1 0 2.0 0a1.0 1.0 0 1 0 -2.0 0zM250.24 420.13a1.0 1.0 0 1 0 2.0 0a1.0 1.0 0 1 0 -2.0 0zM253.77 423.29a1.0 1.0 0 1 0 2.0 0a1.0 1.0 0 1 0 -2.0 0zM257.31 423.29a1.0 1.0 0 1 0 2.0 0a1.0 1.0 0 1 0 -2.0 0zM260.84 420.13a1.0 1.0 0 1 0 2.0 0a1.0 1.0 0 1 0 -2.0 0zM264.38 419.23a1.0 1.0 0 1 0 2.0 0a1.0 1.0 0 1 0 -2.0 0zM267.91 415.85a1.0 1.0 0 1 0 2.0 0a1.0 1.0 0 1 0 -2.0 0zM271.44 415.17a1.0 1.0 0 1 0 2.0 0a1.0 1.0 0 1 0 -2.0 0zM274.98 408.18a1.0 1.0 0 1 0 2.0 0a1.0 1.0 0 1 0 -2.0 0zM278.51 404.12a1.0 1.0 0 1 0 2.0 0a1.0 1.0 0 1 0 -2.0 0zM282.05 392.17a1.0 1.0 0 1 0 2.0 0a1.0 1.0 0 1 0 -2.0 0zM285.59 394.20a1.0 1.0 0 1 0 2.0 0a1.0 1.0 0 1 0 -2.0 0zM289.12 391.72a1.0 1.0 0 1 0 2.0 0a1.0 1.0 0 1 0 -2.0 0zM292.65 383.15a1.0 1.0 0 1 0 2.0 0a1.0 1.0 0 1 0 -2.0 0zM296.19 375.26a1.0 1.0 0 1 0 2.0 0a1.0 1.0 0 1 0 -2.0 0zM299.73 368.27a1.0 1.0 0 1 0 2.0 0a1.0 1.0 0 1 0 -2.0 0zM303.26 359.25a1.0 1.0 0 1 0 2.0 0a1.0 1.0 0 1 0 -2.0 0zM306.80 352.71a1.0 1.0 0 1 0 2.0 0a1.0 1.0 0 1 0 -2.0 0zM310.33 366.24a1.0 1.0 0 1 0 2.0 0a1.0 1.0 0 1 0 -2.0 0zM313.87 365.11a1.0 1.0 0 1 0 2.0 0a1.0 1.0 0 1 0 -2.0 0zM317.40 379.09a1.0 1.0 0 1 0 2.0 0a1.0 1.0 0 1 0 -2.0 0zM320.94 388.11a1.0 1.0 0 1 0 2.0 0a1.0 1.0 0 1 0 -2.0 0zM324.47 400.29a1.0 1.0 0 1 0 2.0 0a1.0 1.0 0 1 0 -2.0 0zM328.00 407.28a1.0 1.0 0 1 0 2.0 0a1.0 1.0 0 1 0 -2.0 0zM331.54 413.14a1.0 1.0 0 1 0 2.0 0a1.0 1.0 0 1 0 -2.0 0zM335.08 419.23a1.0 1.0 0 1 0 2.0 0a1.0 1.0 0 1 0 -2.0 0zM338.61 422.16a1.0 1.0 0 1 0 2.0 0a1.0 1.0 0 1 0 -2.0 0zM342.14 424.19a1.0 1.0 0 1 0 2.0 0a1.0 1.0 0 1 0 -2.0 0zM345.68 426.44a1.0 1.0 0 1 0 2.0 0a1.0 1.0 0 1 0 -2.0 0zM349.22 428.02a1.0 1.0 0 1 0 2.0 0a1.0 1.0 0 1 0 -2.0 0zM352.75 428.70a1.0 1.0 0 1 0 2.0 0a1.0 1.0 0 1 0 -2.0 0zM356.28 428.70a1.0 1.0 0 1 0 2.0 0a1.0 1.0 0 1 0 -2.0 0zM359.82 428.70a1.0 1.0 0 1 0 2.0 0a1.0 1.0 0 1 0 -2.0 0zM363.36 428.70a1.0 1.0 0 1 0 2.0 0a1.0 1.0 0 1 0 -2.0 0zM366.89 428.70a1.0 1.0 0 1 0 2.0 0a1.0 1.0 0 1 0 -2.0 0zM370.43 428.70a1.0 1.0 0 1 0 2.0 0a1.0 1.0 0 1 0 -2.0 0zM373.96 428.70a1.0 1.0 0 1 0 2.0 0a1.0 1.0 0 1 0 -2.0 0zM377.50 428.70a1.0 1.0 0 1 0 2.0 0a1.0 1.0 0 1 0 -2.0 0zM381.03 428.70a1.0 1.0 0 1 0 2.0 0a1.0 1.0 0 1 0 -2.0 0zM384.56 428.70a1.0 1.0 0 1 0 2.0 0a1.0 1.0 0 1 0 -2.0 0zM388.10 428.70a1.0 1.0 0 1 0 2.0 0a1.0 1.0 0 1 0 -2.0 0z" fill="#ff0000" fill-opacity="1"/>
<polyline points="198.21,421.26 201.75,422.84 205.28,421.94 208.81,421.94 212.35,422.61 215.88,422.39 219.42,423.29 222.95,423.74 226.49,421.94 230.03,423.74 233.56,422.84 237.09,423.74 240.63,421.26 244.17,421.94 247.70,421.03 251.24,421.26 254.77,422.16 258.31,424.19 261.84,419.23 265.38,421.71 268.91,416.30 272.44,415.85 275.98,409.31 279.51,405.25 283.05,388.11 286.59,381.12 290.12,382.70 293.65,373.23 297.19,375.71 300.73,365.11 304.26,349.77 307.80,358.12 311.33,352.71 314.87,360.15 318.40,378.19 321.94,385.18 325.47,394.20 329.00,406.15 332.54,414.27 336.08,420.13 339.61,424.19 343.14,426.44 346.68,427.80 350.22,428.70 353.75,428.70 357.28,428.70 360.82,428.70 364.36,428.70 367.89,428.70 371.43,428.70 374.96,428.70 378.50,428.70 382.03,428.70 385.56,428.70 389.10,428.70" fill="none" stroke="#0000ff" stroke-width="1.7" stroke-linejoin="round" stroke-opacity="1"/>
<path d="M197.21 421.26a1.0 1.0 0 1 0 2.0 0a1.0 1.0 0 1 0 -2.0 0zM200.75 422.84a1.0 1.0 0 1 0 2.0 0a1.0 1.0 0 1 0 -2.0 0zM204.28 421.94a1.0 1.0 0 1 0 2.0 0a1.0 1.0 0 1 0 -2.0 0zM207.81 421.94a1.0 1.0 0 1 0 2.0 0a1.0 1.0 0 1 0 -2.0 0zM211.35 422.61a1.0 1.0 0 1 0 2.0 0a1.0 1.0 0 1 0 -2.0 0zM214.88 422.39a1.0 1.0 0 1 0 2.0 0a1.0 1.0 0 1 0 -2.0 0zM218.42 423.29a1.0 1.0 0 1 0 2.0 0a1.0 1.0 0 1 0 -2.0 0zM221.95 423.74a1.0 1.0 0 1 0 2.0 0a1.0 1.0 0 1 0 -2.0 0zM225.49 421.94a1.0 1.0 0 1 0 2.0 0a1.0 1.0 0 1 0 -2.0 0zM229.03 423.74a1.0 1.0 0 1 0 2.0 0a1.0 1.0 0 1 0 -2.0 0zM232.56 422.84a1.0 1.0 0 1 0 2.0 0a1.0 1.0 0 1 0 -2.0 0zM236.09 423.74a1.0 1.0 0 1 0 2.0 0a1.0 1.0 0 1 0 -2.0 0zM239.63 421.26a1.0 1.0 0 1 0 2.0 0a1.0 1.0 0 1 0 -2.0 0zM243.17 421.94a1.0 1.0 0 1 0 2.0 0a1.0 1.0 0 1 0 -2.0 0zM246.70 421.03a1.0 1.0 0 1 0 2.0 0a1.0 1.0 0 1 0 -2.0 0zM250.24 421.26a1.0 1.0 0 1 0 2.0 0a1.0 1.0 0 1 0 -2.0 0zM253.77 422.16a1.0 1.0 0 1 0 2.0 0a1.0 1.0 0 1 0 -2.0 0zM257.31 424.19a1.0 1.0 0 1 0 2.0 0a1.0 1.0 0 1 0 -2.0 0zM260.84 419.23a1.0 1.0 0 1 0 2.0 0a1.0 1.0 0 1 0 -2.0 0zM264.38 421.71a1.0 1.0 0 1 0 2.0 0a1.0 1.0 0 1 0 -2.0 0zM267.91 416.30a1.0 1.0 0 1 0 2.0 0a1.0 1.0 0 1 0 -2.0 0zM271.44 415.85a1.0 1.0 0 1 0 2.0 0a1.0 1.0 0 1 0 -2.0 0zM274.98 409.31a1.0 1.0 0 1 0 2.0 0a1.0 1.0 0 1 0 -2.0 0zM278.51 405.25a1.0 1.0 0 1 0 2.0 0a1.0 1.0 0 1 0 -2.0 0zM282.05 388.11a1.0 1.0 0 1 0 2.0 0a1.0 1.0 0 1 0 -2.0 0zM285.59 381.12a1.0 1.0 0 1 0 2.0 0a1.0 1.0 0 1 0 -2.0 0zM289.12 382.70a1.0 1.0 0 1 0 2.0 0a1.0 1.0 0 1 0 -2.0 0zM292.65 373.23a1.0 1.0 0 1 0 2.0 0a1.0 1.0 0 1 0 -2.0 0zM296.19 375.71a1.0 1.0 0 1 0 2.0 0a1.0 1.0 0 1 0 -2.0 0zM299.73 365.11a1.0 1.0 0 1 0 2.0 0a1.0 1.0 0 1 0 -2.0 0zM303.26 349.77a1.0 1.0 0 1 0 2.0 0a1.0 1.0 0 1 0 -2.0 0zM306.80 358.12a1.0 1.0 0 1 0 2.0 0a1.0 1.0 0 1 0 -2.0 0zM310.33 352.71a1.0 1.0 0 1 0 2.0 0a1.0 1.0 0 1 0 -2.0 0zM313.87 360.15a1.0 1.0 0 1 0 2.0 0a1.0 1.0 0 1 0 -2.0 0zM317.40 378.19a1.0 1.0 0 1 0 2.0 0a1.0 1.0 0 1 0 -2.0 0zM320.94 385.18a1.0 1.0 0 1 0 2.0 0a1.0 1.0 0 1 0 -2.0 0zM324.47 394.20a1.0 1.0 0 1 0 2.0 0a1.0 1.0 0 1 0 -2.0 0zM328.00 406.15a1.0 1.0 0 1 0 2.0 0a1.0 1.0 0 1 0 -2.0 0zM331.54 414.27a1.0 1.0 0 1 0 2.0 0a1.0 1.0 0 1 0 -2.0 0zM335.08 420.13a1.0 1.0 0 1 0 2.0 0a1.0 1.0 0 1 0 -2.0 0zM338.61 424.19a1.0 1.0 0 1 0 2.0 0a1.0 1.0 0 1 0 -2.0 0zM342.14 426.44a1.0 1.0 0 1 0 2.0 0a1.0 1.0 0 1 0 -2.0 0zM345.68 427.80a1.0 1.0 0 1 0 2.0 0a1.0 1.0 0 1 0 -2.0 0zM349.22 428.70a1.0 1.0 0 1 0 2.0 0a1.0 1.0 0 1 0 -2.0 0zM352.75 428.70a1.0 1.0 0 1 0 2.0 0a1.0 1.0 0 1 0 -2.0 0zM356.28 428.70a1.0 1.0 0 1 0 2.0 0a1.0 1.0 0 1 0 -2.0 0zM359.82 428.70a1.0 1.0 0 1 0 2.0 0a1.0 1.0 0 1 0 -2.0 0zM363.36 428.70a1.0 1.0 0 1 0 2.0 0a1.0 1.0 0 1 0 -2.0 0zM366.89 428.70a1.0 1.0 0 1 0 2.0 0a1.0 1.0 0 1 0 -2.0 0zM370.43 428.70a1.0 1.0 0 1 0 2.0 0a1.0 1.0 0 1 0 -2.0 0zM373.96 428.70a1.0 1.0 0 1 0 2.0 0a1.0 1.0 0 1 0 -2.0 0zM377.50 428.70a1.0 1.0 0 1 0 2.0 0a1.0 1.0 0 1 0 -2.0 0zM381.03 428.70a1.0 1.0 0 1 0 2.0 0a1.0 1.0 0 1 0 -2.0 0zM384.56 428.70a1.0 1.0 0 1 0 2.0 0a1.0 1.0 0 1 0 -2.0 0zM388.10 428.70a1.0 1.0 0 1 0 2.0 0a1.0 1.0 0 1 0 -2.0 0z" fill="#0000ff" fill-opacity="1"/>
<line x1="304.26" y1="259.6" x2="304.26" y2="428.7" stroke="#222" stroke-width="1.0"/>
<text x="177.50" y="436.00" font-size="6" text-anchor="middle" font-family="Liberation Sans, sans-serif" font-weight="bold" fill="#000" stroke="#000" stroke-width="0.22" >0</text>
<text x="212.85" y="436.00" font-size="6" text-anchor="middle" font-family="Liberation Sans, sans-serif" font-weight="bold" fill="#000" stroke="#000" stroke-width="0.22" >5</text>
<text x="248.20" y="436.00" font-size="6" text-anchor="middle" font-family="Liberation Sans, sans-serif" font-weight="bold" fill="#000" stroke="#000" stroke-width="0.22" >10</text>
<text x="283.55" y="436.00" font-size="6" text-anchor="middle" font-family="Liberation Sans, sans-serif" font-weight="bold" fill="#000" stroke="#000" stroke-width="0.22" >15</text>
<text x="318.90" y="436.00" font-size="6" text-anchor="middle" font-family="Liberation Sans, sans-serif" font-weight="bold" fill="#000" stroke="#000" stroke-width="0.22" >20</text>
<text x="354.25" y="436.00" font-size="6" text-anchor="middle" font-family="Liberation Sans, sans-serif" font-weight="bold" fill="#000" stroke="#000" stroke-width="0.22" >25</text>
<text x="389.60" y="436.00" font-size="6" text-anchor="middle" font-family="Liberation Sans, sans-serif" font-weight="bold" fill="#000" stroke="#000" stroke-width="0.22" >30</text>
<text x="174.90" y="430.80" font-size="6" text-anchor="end" font-family="Liberation Sans, sans-serif" font-weight="bold" fill="#000" stroke="#000" stroke-width="0.22" >0</text>
<text x="174.90" y="408.25" font-size="6" text-anchor="end" font-family="Liberation Sans, sans-serif" font-weight="bold" fill="#000" stroke="#000" stroke-width="0.22" >100</text>
<text x="174.90" y="385.70" font-size="6" text-anchor="end" font-family="Liberation Sans, sans-serif" font-weight="bold" fill="#000" stroke="#000" stroke-width="0.22" >200</text>
<text x="174.90" y="363.15" font-size="6" text-anchor="end" font-family="Liberation Sans, sans-serif" font-weight="bold" fill="#000" stroke="#000" stroke-width="0.22" >300</text>
<text x="174.90" y="340.60" font-size="6" text-anchor="end" font-family="Liberation Sans, sans-serif" font-weight="bold" fill="#000" stroke="#000" stroke-width="0.22" >400</text>
<text x="174.90" y="318.05" font-size="6" text-anchor="end" font-family="Liberation Sans, sans-serif" font-weight="bold" fill="#000" stroke="#000" stroke-width="0.22" >500</text>
<text x="174.90" y="295.50" font-size="6" text-anchor="end" font-family="Liberation Sans, sans-serif" font-weight="bold" fill="#000" stroke="#000" stroke-width="0.22" >600</text>
<text x="174.90" y="272.95" font-size="6" text-anchor="end" font-family="Liberation Sans, sans-serif" font-weight="bold" fill="#000" stroke="#000" stroke-width="0.22" >700</text>
<text x="282.80" y="444.50" font-size="6" text-anchor="middle" font-family="Liberation Sans, sans-serif" font-weight="bold" fill="#000" stroke="#000" stroke-width="0.22" >Forest Height/m</text>
<g transform="translate(160.2,343.8) rotate(-90)">
<text x="0.00" y="0.00" font-size="6" text-anchor="middle" font-family="Liberation Sans, sans-serif" font-weight="bold" fill="#000" stroke="#000" stroke-width="0.22" >Pixels</text>
</g>
<line x1="188.4" y1="277.2" x2="213.9" y2="277.2" stroke="#00f200" stroke-width="1.1" stroke-opacity="0.65" stroke-dasharray="1.2 3.3"/>
<circle cx="201.15" cy="277.2" r="1.8" fill="#00f200"/>
<text x="217.20" y="279.30" font-size="6" text-anchor="start" font-family="Liberation Sans, sans-serif" font-weight="bold" fill="#000" stroke="#000" stroke-width="0.22" >HV</text>
<line x1="188.4" y1="289.0" x2="213.9" y2="289.0" stroke="#ff0000" stroke-width="1.1" stroke-opacity="0.65" stroke-dasharray="1.2 3.3"/>
<circle cx="201.15" cy="289.0" r="1.2" fill="#ff0000"/>
<text x="217.20" y="291.10" font-size="6" text-anchor="start" font-family="Liberation Sans, sans-serif" font-weight="bold" fill="#000" stroke="#000" stroke-width="0.22" >PD</text>
<line x1="188.4" y1="300.8" x2="213.9" y2="300.8" stroke="#0000ff" stroke-width="1.1" stroke-opacity="0.65" stroke-dasharray="1.2 3.3"/>
<circle cx="201.15" cy="300.8" r="1.2" fill="#0000ff"/>
<text x="217.20" y="302.90" font-size="6" text-anchor="start" font-family="Liberation Sans, sans-serif" font-weight="bold" fill="#000" stroke="#000" stroke-width="0.22" >MCD</text>
<line x1="188.4" y1="313.1" x2="213.9" y2="313.1" stroke="#00f200" stroke-width="1.6"/>
<circle cx="201.15" cy="313.1" r="1.45" fill="#00f200"/>
<text x="217.20" y="315.20" font-size="6" text-anchor="start" font-family="Liberation Sans, sans-serif" font-weight="bold" fill="#000" stroke="#000" stroke-width="0.22" >HVweight</text>
<line x1="188.4" y1="325.0" x2="213.9" y2="325.0" stroke="#ff0000" stroke-width="1.6"/>
<circle cx="201.15" cy="325.0" r="1.45" fill="#ff0000"/>
<text x="217.20" y="327.10" font-size="6" text-anchor="start" font-family="Liberation Sans, sans-serif" font-weight="bold" fill="#000" stroke="#000" stroke-width="0.22" >PDweight</text>
<line x1="188.4" y1="336.8" x2="213.9" y2="336.8" stroke="#0000ff" stroke-width="1.6"/>
<circle cx="201.15" cy="336.8" r="1.45" fill="#0000ff"/>
<text x="217.20" y="338.90" font-size="6" text-anchor="start" font-family="Liberation Sans, sans-serif" font-weight="bold" fill="#000" stroke="#000" stroke-width="0.22" >MCDweight</text>
<line x1="188.4" y1="348.6" x2="213.9" y2="348.6" stroke="#222" stroke-width="0.8"/>
<text x="217.20" y="350.70" font-size="6" text-anchor="start" font-family="Liberation Sans, sans-serif" font-weight="bold" fill="#000" stroke="#000" stroke-width="0.22" >True</text>
<text x="122.3" y="222.4" font-size="13" text-anchor="middle" font-family="Liberation Serif, serif" fill="#111">(<tspan font-weight="bold">a</tspan>)</text>
<text x="434.6" y="227.9" font-size="13" text-anchor="middle" font-family="Liberation Serif, serif" fill="#111">(<tspan font-weight="bold">b</tspan>)</text>
<text x="278.2" y="470.2" font-size="13" text-anchor="middle" font-family="Liberation Serif, serif" fill="#111">(<tspan font-weight="bold">c</tspan>)</text>
</svg>
</body></html>
